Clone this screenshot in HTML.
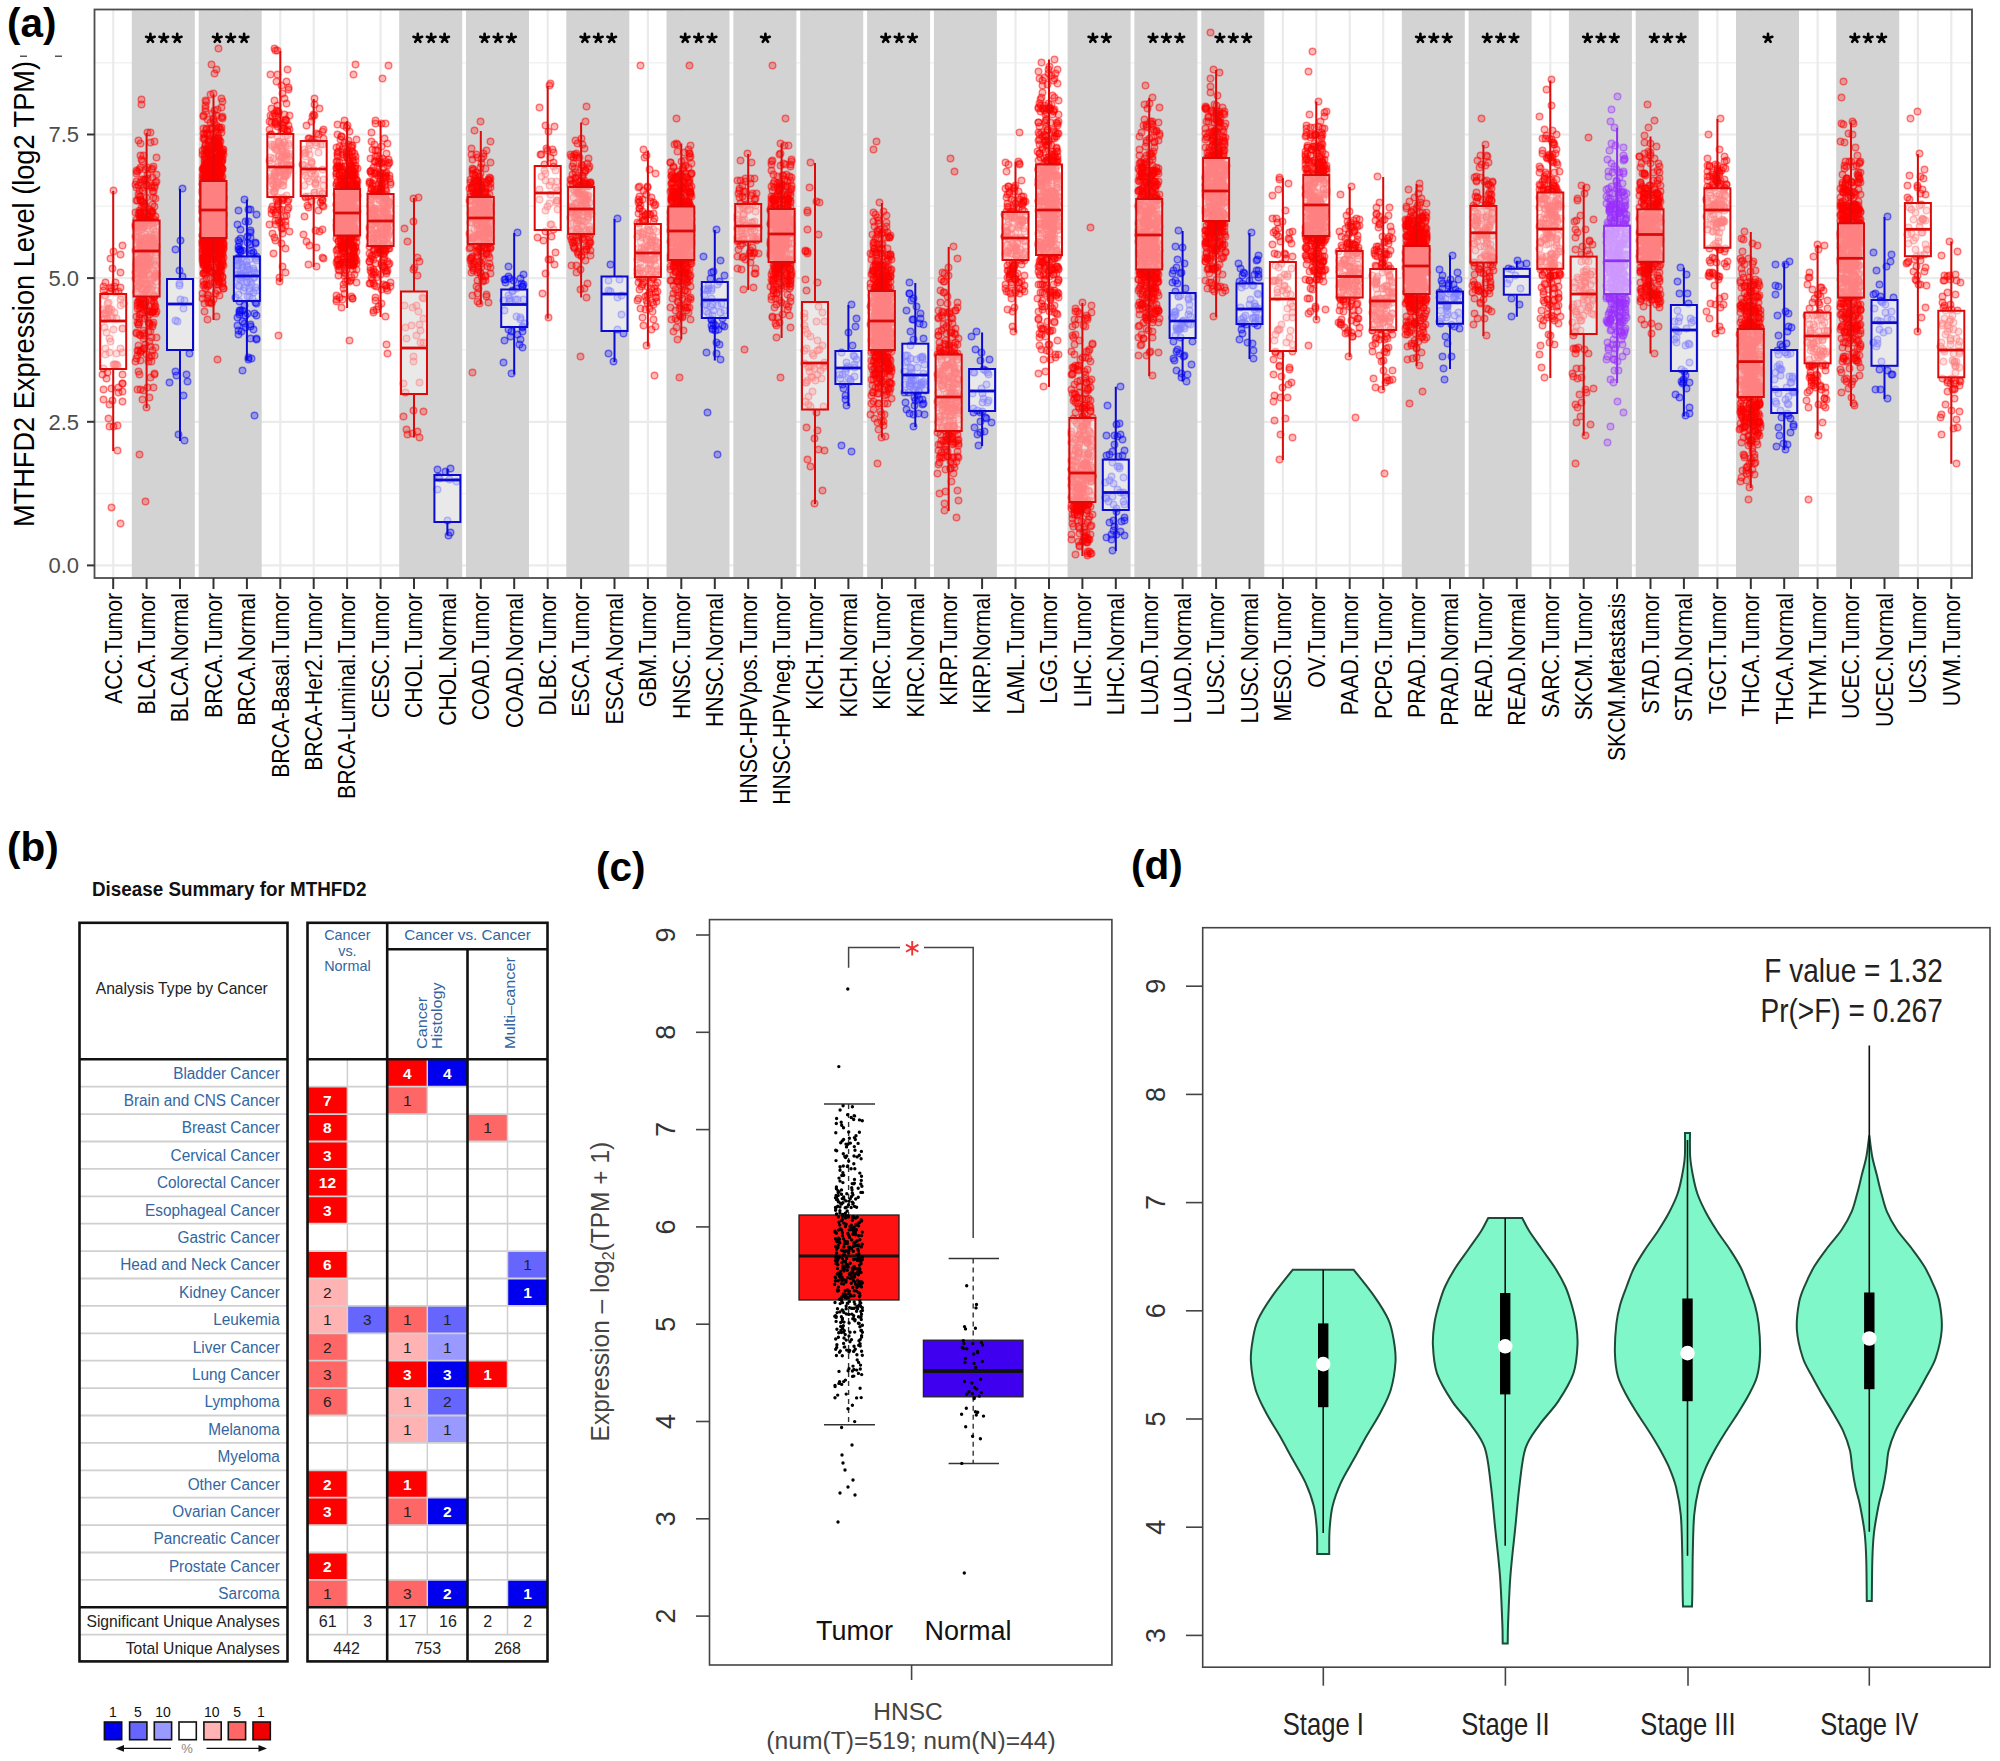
<!DOCTYPE html>
<html><head><meta charset="utf-8"><style>
html,body{margin:0;padding:0;background:#fff;}
svg{display:block;}
</style></head><body>
<svg width="2000" height="1761" viewBox="0 0 2000 1761">
<defs>
<marker id="mr" markerUnits="userSpaceOnUse" markerWidth="12" markerHeight="12" refX="6.5" refY="6.5" overflow="visible"><circle cx="6" cy="6" r="3.3" fill="#ff0000" fill-opacity="0.27" stroke="#ff0000" stroke-opacity="0.5" stroke-width="1.4"/></marker>
<marker id="mb" markerUnits="userSpaceOnUse" markerWidth="12" markerHeight="12" refX="6.5" refY="6.5" overflow="visible"><circle cx="6" cy="6" r="3.3" fill="#0000ff" fill-opacity="0.27" stroke="#0000ff" stroke-opacity="0.5" stroke-width="1.4"/></marker>
<marker id="mp" markerUnits="userSpaceOnUse" markerWidth="12" markerHeight="12" refX="6.5" refY="6.5" overflow="visible"><circle cx="6" cy="6" r="3.3" fill="#9b30ff" fill-opacity="0.27" stroke="#9b30ff" stroke-opacity="0.5" stroke-width="1.4"/></marker>
<g id="star"><path d="M0 -4.3V0M-4.3 -1.4L0 0M4.3 -1.4L0 0M-2.6 3.5L0 0M2.6 3.5L0 0" stroke="#000" stroke-width="2.7" stroke-linecap="round"/></g>
</defs>
<rect width="2000" height="1761" fill="#fff"/>
<rect x="94.5" y="9.5" width="1877.5" height="568.5" fill="#fff"/>
<line x1="94.5" x2="1972" y1="493.6" y2="493.6" stroke="#f2f2f2" stroke-width="1.5"/>
<line x1="94.5" x2="1972" y1="350.0" y2="350.0" stroke="#f2f2f2" stroke-width="1.5"/>
<line x1="94.5" x2="1972" y1="206.3" y2="206.3" stroke="#f2f2f2" stroke-width="1.5"/>
<line x1="94.5" x2="1972" y1="62.7" y2="62.7" stroke="#f2f2f2" stroke-width="1.5"/>
<line x1="94.5" x2="1972" y1="565.4" y2="565.4" stroke="#ebebeb" stroke-width="2.2"/>
<line x1="94.5" x2="1972" y1="421.8" y2="421.8" stroke="#ebebeb" stroke-width="2.2"/>
<line x1="94.5" x2="1972" y1="278.1" y2="278.1" stroke="#ebebeb" stroke-width="2.2"/>
<line x1="94.5" x2="1972" y1="134.5" y2="134.5" stroke="#ebebeb" stroke-width="2.2"/>
<line x1="113.2" x2="113.2" y1="9.5" y2="578" stroke="#ebebeb" stroke-width="2.2"/>
<line x1="146.6" x2="146.6" y1="9.5" y2="578" stroke="#ebebeb" stroke-width="2.2"/>
<line x1="180.0" x2="180.0" y1="9.5" y2="578" stroke="#ebebeb" stroke-width="2.2"/>
<line x1="213.5" x2="213.5" y1="9.5" y2="578" stroke="#ebebeb" stroke-width="2.2"/>
<line x1="246.9" x2="246.9" y1="9.5" y2="578" stroke="#ebebeb" stroke-width="2.2"/>
<line x1="280.3" x2="280.3" y1="9.5" y2="578" stroke="#ebebeb" stroke-width="2.2"/>
<line x1="313.7" x2="313.7" y1="9.5" y2="578" stroke="#ebebeb" stroke-width="2.2"/>
<line x1="347.1" x2="347.1" y1="9.5" y2="578" stroke="#ebebeb" stroke-width="2.2"/>
<line x1="380.6" x2="380.6" y1="9.5" y2="578" stroke="#ebebeb" stroke-width="2.2"/>
<line x1="414.0" x2="414.0" y1="9.5" y2="578" stroke="#ebebeb" stroke-width="2.2"/>
<line x1="447.4" x2="447.4" y1="9.5" y2="578" stroke="#ebebeb" stroke-width="2.2"/>
<line x1="480.8" x2="480.8" y1="9.5" y2="578" stroke="#ebebeb" stroke-width="2.2"/>
<line x1="514.2" x2="514.2" y1="9.5" y2="578" stroke="#ebebeb" stroke-width="2.2"/>
<line x1="547.7" x2="547.7" y1="9.5" y2="578" stroke="#ebebeb" stroke-width="2.2"/>
<line x1="581.1" x2="581.1" y1="9.5" y2="578" stroke="#ebebeb" stroke-width="2.2"/>
<line x1="614.5" x2="614.5" y1="9.5" y2="578" stroke="#ebebeb" stroke-width="2.2"/>
<line x1="647.9" x2="647.9" y1="9.5" y2="578" stroke="#ebebeb" stroke-width="2.2"/>
<line x1="681.3" x2="681.3" y1="9.5" y2="578" stroke="#ebebeb" stroke-width="2.2"/>
<line x1="714.8" x2="714.8" y1="9.5" y2="578" stroke="#ebebeb" stroke-width="2.2"/>
<line x1="748.2" x2="748.2" y1="9.5" y2="578" stroke="#ebebeb" stroke-width="2.2"/>
<line x1="781.6" x2="781.6" y1="9.5" y2="578" stroke="#ebebeb" stroke-width="2.2"/>
<line x1="815.0" x2="815.0" y1="9.5" y2="578" stroke="#ebebeb" stroke-width="2.2"/>
<line x1="848.4" x2="848.4" y1="9.5" y2="578" stroke="#ebebeb" stroke-width="2.2"/>
<line x1="881.9" x2="881.9" y1="9.5" y2="578" stroke="#ebebeb" stroke-width="2.2"/>
<line x1="915.3" x2="915.3" y1="9.5" y2="578" stroke="#ebebeb" stroke-width="2.2"/>
<line x1="948.7" x2="948.7" y1="9.5" y2="578" stroke="#ebebeb" stroke-width="2.2"/>
<line x1="982.1" x2="982.1" y1="9.5" y2="578" stroke="#ebebeb" stroke-width="2.2"/>
<line x1="1015.5" x2="1015.5" y1="9.5" y2="578" stroke="#ebebeb" stroke-width="2.2"/>
<line x1="1049.0" x2="1049.0" y1="9.5" y2="578" stroke="#ebebeb" stroke-width="2.2"/>
<line x1="1082.4" x2="1082.4" y1="9.5" y2="578" stroke="#ebebeb" stroke-width="2.2"/>
<line x1="1115.8" x2="1115.8" y1="9.5" y2="578" stroke="#ebebeb" stroke-width="2.2"/>
<line x1="1149.2" x2="1149.2" y1="9.5" y2="578" stroke="#ebebeb" stroke-width="2.2"/>
<line x1="1182.6" x2="1182.6" y1="9.5" y2="578" stroke="#ebebeb" stroke-width="2.2"/>
<line x1="1216.1" x2="1216.1" y1="9.5" y2="578" stroke="#ebebeb" stroke-width="2.2"/>
<line x1="1249.5" x2="1249.5" y1="9.5" y2="578" stroke="#ebebeb" stroke-width="2.2"/>
<line x1="1282.9" x2="1282.9" y1="9.5" y2="578" stroke="#ebebeb" stroke-width="2.2"/>
<line x1="1316.3" x2="1316.3" y1="9.5" y2="578" stroke="#ebebeb" stroke-width="2.2"/>
<line x1="1349.7" x2="1349.7" y1="9.5" y2="578" stroke="#ebebeb" stroke-width="2.2"/>
<line x1="1383.2" x2="1383.2" y1="9.5" y2="578" stroke="#ebebeb" stroke-width="2.2"/>
<line x1="1416.6" x2="1416.6" y1="9.5" y2="578" stroke="#ebebeb" stroke-width="2.2"/>
<line x1="1450.0" x2="1450.0" y1="9.5" y2="578" stroke="#ebebeb" stroke-width="2.2"/>
<line x1="1483.4" x2="1483.4" y1="9.5" y2="578" stroke="#ebebeb" stroke-width="2.2"/>
<line x1="1516.8" x2="1516.8" y1="9.5" y2="578" stroke="#ebebeb" stroke-width="2.2"/>
<line x1="1550.3" x2="1550.3" y1="9.5" y2="578" stroke="#ebebeb" stroke-width="2.2"/>
<line x1="1583.7" x2="1583.7" y1="9.5" y2="578" stroke="#ebebeb" stroke-width="2.2"/>
<line x1="1617.1" x2="1617.1" y1="9.5" y2="578" stroke="#ebebeb" stroke-width="2.2"/>
<line x1="1650.5" x2="1650.5" y1="9.5" y2="578" stroke="#ebebeb" stroke-width="2.2"/>
<line x1="1683.9" x2="1683.9" y1="9.5" y2="578" stroke="#ebebeb" stroke-width="2.2"/>
<line x1="1717.4" x2="1717.4" y1="9.5" y2="578" stroke="#ebebeb" stroke-width="2.2"/>
<line x1="1750.8" x2="1750.8" y1="9.5" y2="578" stroke="#ebebeb" stroke-width="2.2"/>
<line x1="1784.2" x2="1784.2" y1="9.5" y2="578" stroke="#ebebeb" stroke-width="2.2"/>
<line x1="1817.6" x2="1817.6" y1="9.5" y2="578" stroke="#ebebeb" stroke-width="2.2"/>
<line x1="1851.0" x2="1851.0" y1="9.5" y2="578" stroke="#ebebeb" stroke-width="2.2"/>
<line x1="1884.5" x2="1884.5" y1="9.5" y2="578" stroke="#ebebeb" stroke-width="2.2"/>
<line x1="1917.9" x2="1917.9" y1="9.5" y2="578" stroke="#ebebeb" stroke-width="2.2"/>
<line x1="1951.3" x2="1951.3" y1="9.5" y2="578" stroke="#ebebeb" stroke-width="2.2"/>
<rect x="131.8" y="10.5" width="63.0" height="567.0" fill="#d3d3d3"/>
<rect x="198.7" y="10.5" width="63.0" height="567.0" fill="#d3d3d3"/>
<rect x="399.2" y="10.5" width="63.0" height="567.0" fill="#d3d3d3"/>
<rect x="466.0" y="10.5" width="63.0" height="567.0" fill="#d3d3d3"/>
<rect x="566.3" y="10.5" width="63.0" height="567.0" fill="#d3d3d3"/>
<rect x="666.5" y="10.5" width="63.0" height="567.0" fill="#d3d3d3"/>
<rect x="733.4" y="10.5" width="63.0" height="567.0" fill="#d3d3d3"/>
<rect x="800.2" y="10.5" width="63.0" height="567.0" fill="#d3d3d3"/>
<rect x="867.1" y="10.5" width="63.0" height="567.0" fill="#d3d3d3"/>
<rect x="933.9" y="10.5" width="63.0" height="567.0" fill="#d3d3d3"/>
<rect x="1067.6" y="10.5" width="63.0" height="567.0" fill="#d3d3d3"/>
<rect x="1134.4" y="10.5" width="63.0" height="567.0" fill="#d3d3d3"/>
<rect x="1201.3" y="10.5" width="63.0" height="567.0" fill="#d3d3d3"/>
<rect x="1401.8" y="10.5" width="63.0" height="567.0" fill="#d3d3d3"/>
<rect x="1468.6" y="10.5" width="63.0" height="567.0" fill="#d3d3d3"/>
<rect x="1568.9" y="10.5" width="63.0" height="567.0" fill="#d3d3d3"/>
<rect x="1635.7" y="10.5" width="63.0" height="567.0" fill="#d3d3d3"/>
<rect x="1736.0" y="10.5" width="63.0" height="567.0" fill="#d3d3d3"/>
<rect x="1836.2" y="10.5" width="63.0" height="567.0" fill="#d3d3d3"/>
<path d="M114 191l9 55l-9 6l7 3l-10 4l2 10l8 4l-5 10l-10 0l-2 4l11 0l-4 1l10 0l-9 1l-8 2l15 1l-8 0l5 1l-10 3l-1 0l17 1l-1 3l-12 3l15 1l-16 0l13 2l-12 3l-5 1l8 0l-2 0l-3 1l2 1l6 1l-10 1l1 0l1 2l5 1l1 1l-5 1l-3 0l12 0l-12 1l0 8l18 1l0 0l-9 1l-7 3l3 6l1 3l-5 7l15 0l-11 4l13 0l-6 1l-11 1l9 10l1 0l1 0l-3 0l4 1l-14 3l4 4l-5 2l20 0l-16 4l16 5l0 0l-4 4l-7 1l-8 1l19 2l-4 1l-15 7l9 1l10 1l-13 3l-1 14l9 7l-8 1l4 0l4 24l-6 57l9 16" fill="none" stroke="none" marker-start="url(#mr)" marker-mid="url(#mr)" marker-end="url(#mr)"/>
<path d="M113.2 191V294M113.2 369V451" stroke="#dd0a0a" stroke-width="2"/>
<rect x="100.2" y="294" width="26" height="75.0" fill="#fff" fill-opacity="0.5" stroke="#dd0a0a" stroke-width="2"/>
<line x1="100.2" x2="126.2" y1="321" y2="321" stroke="#dd0a0a" stroke-width="2.8"/>
<path d="M142 100l0 5l9 28l-3 0l-9 8l16 1l-4 1l-10 1l0 12l3 0l13 2l-15 2l1 2l11 5l-6 1l-7 0l12 1l-1 1l-6 0l-6 0l-3 1l1 1l-1 2l20 1l-9 0l5 3l-5 1l-4 1l2 0l-4 0l3 1l12 1l-20 0l4 1l15 0l-20 2l19 1l-3 0l-13 0l9 0l-1 0l-10 2l15 0l-8 0l11 0l-15 3l3 0l10 1l1 0l-15 3l2 2l-1 0l14 1l-7 0l9 1l-15 1l-4 1l1 0l3 0l2 1l-1 0l3 2l0 1l8 0l2 2l-11 0l2 0l-4 1l8 2l-10 1l13 1l-1 0l-1 0l-10 1l12 0l-12 0l0 0l4 0l-1 0l-8 0l12 1l4 0l-8 0l-5 0l1 1l16 2l-8 0l2 0l-9 1l2 1l-2 0l1 0l-2 0l-3 1l10 0l2 0l-5 0l4 0l-4 0l11 0l-6 1l3 0l-10 0l3 0l-3 0l7 0l7 1l-15 1l1 0l13 0l-3 1l1 0l-10 0l-2 1l-5 0l1 0l2 1l10 0l-12 0l6 1l11 0l-10 0l-8 0l9 0l0 0l-8 1l0 0l6 0l-5 1l9 0l7 1l-12 0l-3 1l-2 0l19 1l-11 2l10 1l-3 0l-10 1l7 1l-10 0l-3 0l15 1l-12 0l7 0l6 1l1 0l-6 0l9 0l-13 0l-5 0l17 1l-10 0l8 1l-4 0l5 0l0 1l-10 0l-5 0l3 1l9 0l-11 0l13 1l-12 0l2 0l-1 0l7 0l6 0l-15 1l15 0l-2 0l-6 1l-5 0l6 0l2 0l-8 0l1 1l0 0l9 0l-4 0l8 0l1 0l-1 0l-13 1l-2 0l6 1l-4 0l3 0l1 0l5 1l-8 0l8 0l-14 0l12 0l5 0l-10 0l-8 0l8 1l-9 0l4 1l3 1l14 0l-10 1l-8 0l12 1l-1 0l-5 0l-3 1l14 0l-9 0l-3 1l-2 0l7 1l-1 0l-8 1l7 0l-10 1l3 0l-2 1l17 0l-16 0l3 1l9 0l-2 1l-3 0l-9 0l9 0l8 0l-11 0l2 1l-2 0l4 1l-9 0l-1 0l0 0l18 0l-5 0l6 1l-8 1l-5 0l-3 1l4 0l0 0l-7 0l0 0l11 1l0 1l-6 0l-3 0l7 1l1 0l7 0l-10 1l-8 1l19 0l-12 1l-2 0l-3 0l19 0l-13 1l-2 0l14 0l-6 0l7 1l-12 0l-7 0l9 0l9 0l-1 1l0 1l-18 0l17 0l-18 1l8 0l1 0l-7 1l0 0l8 0l7 0l-11 2l15 0l-17 1l10 1l-2 0l-6 0l5 1l0 0l4 0l-11 1l-1 0l14 1l-14 0l10 1l-7 1l-4 0l5 1l2 0l3 0l4 0l4 1l-9 1l-10 0l9 0l-9 1l17 2l-10 0l1 0l9 2l1 0l0 0l-8 0l-4 1l-3 1l2 1l-2 1l12 0l-13 1l15 0l-8 1l-8 0l3 0l14 1l-12 0l9 0l-11 1l4 0l0 0l-7 1l7 1l-3 0l14 0l-15 1l14 0l-17 1l2 0l15 1l-8 1l1 0l0 1l5 0l4 0l-6 0l2 0l1 0l-11 1l10 0l3 1l-15 1l9 0l-10 0l-3 2l11 1l-8 1l5 0l4 4l-11 0l16 0l-14 0l10 1l-11 1l0 0l11 0l3 0l0 2l-9 4l7 1l-2 0l-12 1l7 1l-7 0l3 1l1 1l4 0l7 2l5 0l-13 1l6 3l-4 3l-7 1l12 1l5 1l-11 1l-1 0l-5 2l-1 0l4 0l11 0l-12 1l0 1l6 2l5 1l3 0l-17 0l12 2l-13 1l4 2l11 1l-16 0l13 0l-10 10l16 2l-15 1l15 0l-4 3l3 10l-6 0l-10 2l3 0l3 1l6 7l-7 2l4 8l-7 47l6 47" fill="none" stroke="none" marker-start="url(#mr)" marker-mid="url(#mr)" marker-end="url(#mr)"/>
<path d="M146.6 133V220.5M146.6 296.5V408" stroke="#dd0a0a" stroke-width="2"/>
<rect x="133.6" y="220.5" width="26" height="76.0" fill="#fff" fill-opacity="0.5" stroke="#dd0a0a" stroke-width="2"/>
<line x1="133.6" x2="159.6" y1="251" y2="251" stroke="#dd0a0a" stroke-width="2.8"/>
<path d="M183 189l-2 52l-5 9l4 21l3 6l-3 7l0 2l1 14l4 1l-1 8l-8 12l2 1l12 32l-14 18l11 3l-10 1l11 6l-18 1l14 13l-5 39l6 6" fill="none" stroke="none" marker-start="url(#mb)" marker-mid="url(#mb)" marker-end="url(#mb)"/>
<path d="M180.0 189V279M180.0 350V441" stroke="#0a0ad0" stroke-width="2"/>
<rect x="167.0" y="279" width="26" height="71.0" fill="#fff" fill-opacity="0.5" stroke="#0a0ad0" stroke-width="2"/>
<line x1="167.0" x2="193.0" y1="304" y2="304" stroke="#0a0ad0" stroke-width="2.8"/>
<path d="M219 49l-7 16l5 5l-2 4l-1 20l-3 1l11 4l-16 2l1 1l16 0l-17 4l16 2l-16 1l12 1l-3 1l-9 1l7 2l-9 2l13 0l-13 1l19 0l-1 1l-8 1l9 0l-15 1l6 1l-3 2l4 0l2 3l5 2l-2 0l-7 0l6 0l-12 1l-3 0l7 0l6 1l4 0l-14 0l5 0l6 3l4 0l-15 1l7 0l-10 0l4 0l-3 1l5 1l9 1l-14 1l10 0l4 1l-15 0l14 0l0 0l-13 1l5 0l0 1l4 0l6 0l-4 0l3 0l-4 1l1 0l5 0l-12 0l0 0l10 2l-13 1l14 1l-14 0l12 0l-3 0l0 0l-6 0l6 1l4 0l-7 0l6 0l0 1l2 0l-7 1l-8 0l5 0l-4 1l7 0l11 0l-1 0l-15 0l11 0l-12 1l13 0l-17 0l5 0l1 1l14 0l-15 0l0 0l13 0l-13 1l9 0l0 0l2 0l4 0l-13 1l1 0l-4 0l15 0l2 1l-4 0l-17 0l2 0l17 1l-17 1l13 0l-5 0l8 0l-15 1l9 0l-4 0l10 0l-1 0l-10 0l13 1l-5 0l1 0l-1 0l2 0l-15 1l13 0l-11 0l6 0l3 0l0 0l-5 1l0 0l8 0l4 0l-3 0l0 0l2 1l-5 0l-3 0l8 0l-6 0l6 0l-15 1l11 0l-8 0l1 0l2 0l3 0l-3 0l-8 0l2 1l0 0l-1 0l8 1l-3 0l9 0l-11 0l-4 1l16 0l-11 0l-4 0l4 1l3 0l4 0l0 0l-9 0l7 1l-2 0l1 0l-10 0l7 0l11 0l-17 1l17 0l-12 0l13 0l-14 0l1 0l12 0l-7 0l-11 0l10 1l5 0l-16 0l3 0l-2 0l10 0l9 0l-19 0l15 1l-14 0l6 0l9 0l-11 0l9 1l-1 0l-11 0l6 0l0 0l-2 0l12 0l-6 0l-5 1l0 0l2 0l6 0l-8 0l8 0l-15 1l15 0l-1 0l-7 1l9 0l-11 0l12 0l-7 0l6 0l-7 0l-6 0l-1 0l1 0l14 0l-18 1l5 0l-1 0l9 0l-5 0l9 0l-5 0l-11 1l11 0l-5 0l13 0l-8 0l-8 0l3 0l-5 0l15 0l-3 1l-9 0l0 0l4 0l5 0l5 0l-17 0l3 1l-2 0l1 0l8 0l-6 0l2 1l4 0l-12 0l14 0l-7 0l0 0l3 0l-6 0l10 1l-7 0l5 0l-3 0l8 0l-13 0l15 1l-14 0l3 0l0 0l0 0l-7 0l1 0l17 0l-7 0l-1 0l-10 0l2 1l7 0l10 0l-15 0l6 0l5 0l-9 0l2 0l-8 0l1 0l10 1l-12 0l6 0l11 0l-14 0l14 0l-8 0l5 0l-7 0l0 0l-6 0l5 0l12 1l-12 0l-6 0l17 0l-4 0l-7 0l-4 0l4 0l9 0l6 0l-10 1l-9 0l13 0l-11 0l-3 0l15 0l-6 0l-5 0l13 0l-17 0l10 1l5 0l-8 0l11 0l-4 0l5 0l-19 0l19 0l-19 0l0 1l13 0l-8 0l6 0l-11 0l1 0l1 0l1 0l-2 1l4 0l12 0l-6 0l-6 0l8 0l-10 0l13 0l2 0l2 1l-19 0l0 0l0 0l-2 0l13 0l-12 0l16 0l-15 0l14 0l4 0l-15 1l-3 0l17 0l-6 0l2 0l-11 0l3 0l-3 0l15 1l-19 0l11 0l4 0l-4 0l4 0l3 0l-6 0l-4 0l3 0l3 0l4 1l-7 0l-8 0l17 0l-10 0l-1 0l4 0l3 0l-13 1l12 0l-12 0l13 0l-16 0l17 0l-3 0l2 0l-3 1l2 0l-5 0l-7 0l0 0l17 0l-9 0l0 1l-2 0l-8 0l4 0l7 0l-8 0l16 0l-10 1l-6 0l6 0l0 0l-7 0l-2 0l19 0l-7 0l5 0l-2 0l5 0l-8 0l-12 1l6 0l8 0l6 0l-7 0l-10 0l8 0l-3 0l5 0l-9 0l15 1l-15 0l7 0l8 0l-14 0l-3 0l16 0l-9 0l9 0l-12 0l-5 1l10 0l-9 0l8 0l-6 0l3 0l5 0l-6 0l3 1l5 0l-5 0l8 0l-1 0l-12 0l6 0l-5 0l15 0l-17 0l14 0l-1 1l-8 0l10 0l-11 0l9 0l-17 0l0 0l8 0l0 0l-4 0l0 1l10 0l-3 0l-3 0l12 0l-9 0l9 0l-8 0l8 0l-13 0l6 0l3 0l0 0l-1 1l-11 0l15 0l-4 0l-8 0l13 0l-10 0l5 1l4 0l-14 0l12 0l1 0l-2 0l-8 0l11 1l-4 0l-4 0l2 0l-4 0l-9 0l5 0l0 0l1 0l5 1l7 0l-5 0l-9 0l6 0l-8 0l12 0l-5 0l3 0l0 0l-3 0l4 0l-1 1l-1 0l3 0l7 0l-21 0l19 0l-8 0l-4 0l9 0l-11 0l-1 0l-4 0l17 1l3 0l-17 0l13 0l-5 0l-5 0l14 0l-9 0l-10 1l19 0l-17 0l15 0l-13 0l15 0l-13 0l8 0l-13 0l13 0l-7 1l-3 0l4 0l-4 0l-1 0l10 0l-8 0l2 0l0 0l0 0l11 0l-19 0l17 0l-3 1l0 0l-6 0l7 0l-11 0l-2 0l9 0l-11 0l5 0l13 0l-5 0l0 1l-5 0l9 0l-15 0l-1 0l3 0l7 0l-11 0l5 0l-2 0l2 1l0 0l16 0l-14 0l-1 0l-5 0l17 0l-8 0l2 0l5 0l4 0l-13 0l6 0l-10 0l1 0l4 1l0 0l-5 0l3 0l12 0l-14 0l4 0l7 0l-15 0l4 0l10 0l-8 1l6 0l-5 0l-5 0l13 0l3 0l-7 0l9 0l-4 0l-4 0l4 0l0 0l-1 0l-6 0l10 0l-17 0l6 1l0 0l3 0l5 0l0 0l-10 0l4 0l-2 0l12 0l-12 0l-3 1l4 0l0 0l9 0l-3 0l-11 0l-3 0l11 0l5 0l-3 0l-11 0l1 0l-4 0l7 0l-1 0l3 1l-1 0l7 0l-14 0l1 0l0 0l-3 0l18 0l2 0l-15 1l15 0l-16 0l1 0l7 0l-6 0l4 0l-5 0l2 0l7 0l-11 0l-3 1l21 0l-6 0l-9 0l3 0l3 0l6 0l-3 0l-13 0l14 0l-15 0l5 0l5 1l4 0l-6 0l1 0l-6 0l13 0l-16 0l17 0l-4 0l-6 0l3 0l-3 0l10 1l-11 0l0 0l-4 0l16 0l-1 0l-3 0l5 0l-7 0l4 1l-14 0l3 0l12 0l2 0l1 0l-13 1l2 0l6 0l-5 0l6 0l4 0l-9 0l-3 0l-3 0l4 0l-8 0l2 0l12 1l-5 0l3 0l5 0l-16 0l3 0l-4 0l7 0l11 0l-7 0l-5 0l-4 0l11 0l6 1l-1 0l-17 0l13 0l4 0l-17 0l9 0l7 1l-6 0l-10 0l0 0l-1 0l15 0l1 0l-17 1l0 0l18 0l-12 0l9 0l1 0l-11 0l5 0l9 1l-13 0l8 0l-3 0l-8 0l11 0l1 0l1 0l-4 0l8 1l-17 0l4 0l12 0l-13 0l9 0l-10 0l2 0l-7 0l7 0l1 0l9 1l-17 0l10 0l-3 0l7 0l-6 0l-2 1l4 0l-4 0l6 0l-10 0l13 0l4 0l-3 0l-9 0l-5 1l15 0l2 0l-15 0l3 0l9 0l4 1l-14 0l7 0l-5 0l-3 0l4 0l-8 0l-1 0l18 0l0 0l-5 0l0 1l-5 0l-8 0l1 0l-2 0l0 0l6 0l-2 0l5 0l-5 0l12 0l-6 1l9 0l-2 0l-16 0l17 0l-6 0l8 0l-6 0l-13 0l4 1l7 0l9 0l-11 0l-1 1l11 0l-11 0l3 0l-3 0l2 0l-7 0l4 0l10 1l-9 0l9 0l-2 0l-4 0l2 0l-7 0l-3 0l9 0l1 0l6 1l-5 0l-13 0l10 0l-11 0l7 0l-6 0l6 0l10 0l-11 0l-2 0l7 1l-6 0l-5 0l15 0l-16 0l11 0l-9 0l1 0l-3 0l16 1l-11 0l0 0l13 0l-2 0l-13 0l1 0l-3 1l12 0l-8 0l0 0l16 0l0 0l-13 0l4 0l2 0l-3 0l-10 0l6 0l-2 0l10 0l-12 1l10 0l-9 0l1 0l4 0l9 0l-10 0l-8 0l11 1l5 0l-8 0l12 0l-14 0l15 0l-10 0l-11 0l7 0l5 0l5 0l-8 0l1 0l-7 0l4 1l-4 0l4 0l11 0l-16 0l10 0l5 0l-6 1l8 0l-9 0l7 0l-8 0l0 0l12 1l-4 0l0 0l4 0l-18 0l10 0l-9 0l15 0l-6 0l-8 0l-3 1l6 0l-4 0l3 0l-6 0l11 0l-2 0l-7 0l-3 0l12 1l-2 0l0 0l9 0l-11 0l9 0l-10 0l11 0l-5 0l4 0l-14 1l-3 0l10 0l10 0l-12 0l7 0l2 0l-13 1l5 0l7 0l2 0l-12 0l-3 0l10 1l7 0l-3 0l-11 0l2 0l5 1l-1 0l-9 0l2 0l15 0l-20 0l18 1l-15 0l2 0l13 0l-17 1l6 0l-3 0l2 0l-1 0l-3 0l4 1l-4 0l19 0l-20 0l-1 0l13 0l3 0l-14 0l17 0l-18 1l15 0l-12 0l-1 0l6 1l-2 0l12 0l-8 0l3 0l-14 1l3 0l17 0l-15 0l0 0l3 1l5 0l3 0l-15 0l3 0l1 0l-4 1l19 0l-5 0l-11 1l-3 0l15 1l-14 0l2 0l-2 0l-1 0l19 0l-19 1l17 0l0 0l3 0l-15 1l13 0l-13 1l11 0l1 0l0 0l-12 0l2 0l-4 1l11 0l-10 0l0 1l-1 0l4 1l-5 0l16 0l-7 0l6 1l-1 0l-7 0l0 1l6 0l-14 0l7 0l-8 1l0 0l17 1l-3 0l-12 0l15 1l-3 1l5 0l-4 1l-2 0l-6 0l12 0l-5 0l-3 0l-8 1l11 0l2 2l3 1l-19 0l15 0l1 1l-5 0l8 1l-4 1l-9 0l7 0l-10 0l-2 0l-1 1l5 0l-1 1l15 0l1 2l-18 0l18 0l-6 2l-15 3l13 0l-8 1l1 1l11 0l-17 3l5 0l6 1l-4 3l2 0l-3 0l-4 1l7 0l-7 8l12 5l-9 3l10 40" fill="none" stroke="none" marker-start="url(#mr)" marker-mid="url(#mr)" marker-end="url(#mr)"/>
<path d="M213.5 94.5V181M213.5 238V320" stroke="#dd0a0a" stroke-width="2"/>
<rect x="200.5" y="181" width="26" height="57.0" fill="#fff" fill-opacity="0.5" stroke="#dd0a0a" stroke-width="2"/>
<line x1="200.5" x2="226.5" y1="210" y2="210" stroke="#dd0a0a" stroke-width="2.8"/>
<path d="M245 200l6 10l-2 0l-10 1l18 4l-8 7l-3 0l-8 3l3 5l10 1l0 2l-3 4l3 1l-10 1l-2 2l1 2l8 0l8 0l0 1l-5 1l-12 2l1 3l-1 0l4 1l-2 0l11 0l-11 1l13 1l-2 1l5 3l-18 1l17 1l-14 0l-3 0l11 1l-12 1l19 0l-10 1l-7 1l-1 2l4 0l-5 1l9 0l1 1l-5 1l11 1l-6 1l2 0l4 1l-16 0l3 1l5 1l9 0l2 1l-16 1l-3 0l11 0l-3 1l-5 0l2 0l4 1l7 1l1 0l-13 0l-3 1l2 1l10 2l-4 1l1 0l4 2l-13 1l1 1l16 1l-11 0l5 1l7 2l-13 0l6 1l4 1l-15 2l9 2l2 0l-14 1l17 1l-13 3l16 1l1 1l-12 2l-4 5l-1 0l3 0l-3 2l8 1l7 0l-15 1l17 1l-11 0l-8 2l5 4l2 2l6 1l-13 1l13 1l-5 1l8 2l-15 1l3 1l-3 3l12 4l6 0l0 1l-8 18l3 1l-3 1l-6 11l12 45" fill="none" stroke="none" marker-start="url(#mb)" marker-mid="url(#mb)" marker-end="url(#mb)"/>
<path d="M246.9 199.5V256.5M246.9 301V360.5" stroke="#0a0ad0" stroke-width="2"/>
<rect x="233.9" y="256.5" width="26" height="44.5" fill="#fff" fill-opacity="0.5" stroke="#0a0ad0" stroke-width="2"/>
<line x1="233.9" x2="259.9" y1="276" y2="276" stroke="#0a0ad0" stroke-width="2.8"/>
<path d="M275 49l3 2l-2 0l12 19l-10 5l-7 0l16 7l-10 0l5 4l7 2l0 2l-6 4l2 5l-10 2l12 3l-9 2l-6 3l5 2l2 1l-1 0l1 2l-4 0l10 1l5 1l-19 0l5 0l-3 1l13 3l-6 1l7 0l-1 0l-10 1l-6 0l15 1l-9 0l-4 0l4 1l7 1l-7 0l13 1l-11 1l4 1l3 1l-1 0l6 1l-20 0l18 1l-6 1l6 0l-16 3l-1 0l17 1l-2 0l-8 1l2 5l-1 0l6 1l-1 0l-5 1l10 0l-7 1l-7 0l-3 0l17 1l-3 0l-13 1l8 0l-6 1l7 1l1 0l-6 0l-1 1l2 1l5 1l3 1l1 1l2 0l-4 2l2 0l-7 0l9 1l-10 0l4 0l-12 1l11 0l5 1l-13 0l16 1l-9 0l-11 1l9 1l-7 2l12 0l-2 0l6 1l-5 1l4 0l3 0l1 0l-12 1l9 0l-15 2l13 0l1 0l2 1l-3 0l-2 0l-6 1l11 0l-10 1l1 0l8 1l-13 0l1 0l4 0l8 2l-3 0l-9 0l10 1l-5 0l4 1l-10 0l4 0l-7 0l3 0l11 0l-15 2l3 1l10 0l-12 1l12 1l-5 1l-2 0l4 1l-7 1l3 0l-3 0l10 1l-6 0l5 0l-12 1l5 1l0 1l-1 3l-1 0l1 1l-3 2l15 1l-9 2l6 0l-2 1l2 1l-7 0l12 0l-6 1l5 1l-9 0l-1 3l0 2l-5 0l16 1l-9 2l-8 0l16 0l-6 0l-8 1l2 2l-4 1l4 1l11 1l-2 1l-6 4l-3 0l10 1l-4 0l-2 1l-10 2l6 0l10 1l-4 3l1 0l7 3l-17 2l10 0l-8 4l1 3l6 3l4 5l-12 5l9 13l3 6l-6 5l0 4l-1 54" fill="none" stroke="none" marker-start="url(#mr)" marker-mid="url(#mr)" marker-end="url(#mr)"/>
<path d="M280.3 51V134M280.3 197V282" stroke="#dd0a0a" stroke-width="2"/>
<rect x="267.3" y="134" width="26" height="63.0" fill="#fff" fill-opacity="0.5" stroke="#dd0a0a" stroke-width="2"/>
<line x1="267.3" x2="293.3" y1="167" y2="167" stroke="#dd0a0a" stroke-width="2.8"/>
<path d="M315 99l0 6l5 4l-6 6l1 1l-2 1l-1 5l-5 4l17 4l-1 2l-6 2l2 1l5 4l-15 0l1 0l3 1l-3 3l7 0l6 2l-2 0l-4 1l-7 0l-1 4l-4 0l14 3l-13 0l-1 1l5 1l-4 2l6 5l0 1l0 1l-9 1l2 1l4 2l5 2l9 0l-18 0l8 1l-8 1l7 2l4 1l-10 1l9 1l-7 2l10 1l6 0l-14 2l6 1l0 1l0 1l8 1l-19 0l15 6l-5 1l0 0l8 1l0 0l-8 2l-9 1l3 0l-3 1l16 0l1 2l0 1l-11 1l9 1l-13 3l15 0l1 1l-15 1l10 3l-14 6l18 13l-7 1l4 1l-16 3l3 7l3 4l7 2l6 10l1 1l-15 6l8 2" fill="none" stroke="none" marker-start="url(#mr)" marker-mid="url(#mr)" marker-end="url(#mr)"/>
<path d="M313.7 99V141M313.7 196V267" stroke="#dd0a0a" stroke-width="2"/>
<rect x="300.7" y="141" width="26" height="55.0" fill="#fff" fill-opacity="0.5" stroke="#dd0a0a" stroke-width="2"/>
<line x1="300.7" x2="326.7" y1="169" y2="169" stroke="#dd0a0a" stroke-width="2.8"/>
<path d="M356 65l-2 10l-9 46l-7 4l10 1l-4 0l3 2l3 4l-12 3l4 2l0 0l15 3l-16 0l8 1l-4 2l4 2l4 1l-1 0l-12 1l4 0l8 1l-15 0l6 2l10 2l-14 0l8 0l5 0l-14 1l11 0l-2 1l8 0l-5 1l-12 0l5 0l4 2l-9 0l18 0l-8 1l-3 0l8 0l-4 2l4 1l-4 0l7 0l-18 1l-1 0l17 0l-14 1l11 1l-13 2l13 0l5 0l-4 0l-7 1l0 0l6 0l-9 0l-3 0l1 1l1 0l-4 0l3 0l12 0l4 1l2 0l-8 0l-12 0l13 0l-14 0l18 0l-12 1l7 0l1 0l2 1l-4 0l5 1l-2 0l-6 1l-3 0l5 0l7 0l-4 1l-14 0l0 0l11 0l4 0l1 1l-7 0l10 0l-16 0l15 1l-4 0l-2 0l5 0l-14 0l0 0l4 1l9 0l1 0l-17 0l15 0l-10 2l4 0l4 0l3 0l-4 1l-5 0l0 0l13 0l-7 1l-2 0l-7 0l16 0l-15 1l3 0l13 0l-20 0l7 1l12 1l-4 0l1 0l-17 0l4 1l6 0l9 0l1 0l-18 1l8 0l-10 0l18 0l-3 0l-8 0l5 0l1 1l7 0l0 0l-13 0l3 0l10 1l-11 0l-7 0l9 0l8 0l-9 0l8 0l-10 0l-5 1l9 0l-9 0l17 0l-12 1l-2 1l7 0l-5 0l9 0l1 1l-6 0l-4 0l11 0l0 1l0 0l-9 0l8 0l-8 0l-3 0l-2 0l9 0l2 1l-1 0l3 0l-8 0l4 0l-2 1l-5 0l-7 0l2 0l6 0l5 0l-10 1l14 0l4 0l-2 0l-1 0l-1 0l-12 0l0 1l6 0l-1 0l4 0l-6 0l-7 0l19 0l-18 0l3 0l15 1l0 0l-2 0l-13 0l14 0l-5 0l-12 0l-1 1l12 0l-3 0l0 0l-2 0l4 0l4 0l-3 1l-6 0l10 0l-5 1l7 0l-3 0l-9 0l8 0l-8 0l4 0l-8 1l8 0l6 0l-2 0l-4 1l-2 0l10 0l-9 0l6 0l-8 1l7 0l0 0l-15 1l15 0l-13 0l8 0l-10 0l11 0l0 0l0 0l-10 1l13 0l-10 0l7 0l-6 0l6 0l-7 0l-2 0l0 1l4 0l3 0l6 0l-12 0l16 1l-5 0l-3 0l9 1l-13 0l-2 0l9 0l6 0l-15 0l15 0l-9 0l-2 0l2 1l7 0l-3 0l-7 0l-5 0l15 0l1 1l-17 0l8 0l-10 0l1 0l15 0l-10 0l5 0l-8 1l2 0l2 0l9 0l-15 0l20 0l-16 0l15 0l-15 0l0 1l8 0l1 0l-12 0l2 0l15 0l-13 0l13 0l1 0l-2 0l-16 1l6 0l-6 0l1 0l-1 0l18 1l-10 0l4 0l0 0l6 1l-6 0l-8 0l9 0l-11 0l4 0l10 0l-12 0l0 0l10 1l-8 0l3 0l2 0l0 0l5 0l2 1l-14 0l-4 0l8 0l5 0l-9 0l-2 0l7 1l-3 0l5 0l-11 0l15 0l-8 0l-4 1l11 0l1 0l-3 0l5 0l-16 0l-3 1l3 0l13 0l-10 0l3 0l-6 0l-2 0l8 0l11 0l-13 1l2 0l-7 0l-1 0l10 1l4 0l-14 0l7 0l-1 0l-5 0l7 0l-3 0l-1 0l15 1l-6 0l-5 0l-5 0l-2 1l11 0l1 0l-14 0l3 1l4 0l9 0l-13 0l3 0l-2 0l1 1l9 0l3 0l-8 0l9 0l-9 0l-2 0l-5 0l-2 0l19 1l-13 0l-1 0l6 0l1 0l5 0l-2 0l-2 1l-10 1l9 0l-12 0l6 0l1 0l-5 0l12 0l-8 0l11 0l-10 0l10 1l2 0l-4 0l-10 0l14 0l-15 0l5 0l-8 1l17 0l-15 0l-1 0l3 0l14 1l-7 0l7 0l-5 0l-9 1l13 0l-6 0l-10 0l17 1l-1 0l-12 0l7 0l2 0l1 0l-10 1l-1 0l10 1l4 0l-4 0l-6 0l3 0l8 1l-6 0l-10 0l-4 1l13 0l-5 1l6 0l-10 0l8 0l-10 1l15 0l-15 1l10 0l8 1l-6 0l-7 0l-2 0l5 1l-2 0l0 0l-2 1l5 0l-3 0l8 0l-5 0l6 1l-1 0l-1 0l-6 0l-5 0l2 1l0 0l6 0l-7 0l2 0l12 0l-12 1l12 0l-17 0l15 1l0 0l-9 0l-3 0l-4 1l13 0l-14 1l8 0l4 0l6 0l-11 0l10 0l3 1l-12 0l9 0l-5 0l-4 2l-2 0l11 1l-1 0l-15 0l10 2l-7 0l14 0l-7 0l-3 1l6 0l1 0l3 0l-1 1l2 0l-4 1l-8 0l-5 0l-1 0l13 0l-13 1l19 0l-2 1l-8 0l6 0l2 1l-18 0l7 0l0 0l0 1l13 0l-6 0l-10 0l12 1l-14 0l15 0l-10 0l-4 0l11 0l0 0l-5 1l-8 0l15 0l1 0l-5 0l-9 1l13 3l-14 0l18 0l-10 1l-7 0l5 2l1 1l9 1l-10 1l-6 0l13 2l-4 3l3 0l-5 1l4 0l7 1l-13 2l0 4l1 5l-8 2l15 1l-12 1l13 1l0 0l-10 1l-6 0l0 2l5 6l8 33" fill="none" stroke="none" marker-start="url(#mr)" marker-mid="url(#mr)" marker-end="url(#mr)"/>
<path d="M347.1 121V189M347.1 235.5V308" stroke="#dd0a0a" stroke-width="2"/>
<rect x="334.1" y="189" width="26" height="46.5" fill="#fff" fill-opacity="0.5" stroke="#dd0a0a" stroke-width="2"/>
<line x1="334.1" x2="360.1" y1="213" y2="213" stroke="#dd0a0a" stroke-width="2.8"/>
<path d="M389 66l-6 13l-7 42l0 3l6 0l4 0l-14 9l13 6l-13 3l16 2l-13 1l7 2l-9 3l3 1l2 0l9 3l-9 2l-2 1l7 2l-3 0l-9 0l18 1l-10 2l-3 0l10 0l-11 0l7 1l8 0l-1 1l-9 0l2 0l6 2l-10 0l6 2l-10 0l-2 3l-1 1l0 0l16 1l-11 0l5 0l5 1l-14 0l8 0l-5 0l1 0l7 0l7 2l-4 0l-5 0l-2 0l7 1l1 1l-3 0l6 1l-9 1l-7 1l-4 1l11 0l4 0l6 1l-20 0l11 1l-2 0l-7 0l10 0l-13 0l16 1l5 0l-9 1l-9 0l8 3l-9 0l9 0l-2 0l3 0l-10 1l3 0l11 0l-11 1l7 0l0 1l5 0l-11 1l5 0l-7 0l-3 1l9 0l-6 1l12 0l-8 0l-3 1l-3 1l9 0l8 1l-3 0l-13 0l11 0l-2 1l3 0l-5 1l7 0l-15 0l-1 0l16 1l-7 0l9 1l0 0l1 1l-6 0l5 1l-12 1l-6 0l18 1l-5 1l0 0l-13 0l14 0l-13 1l14 0l-11 1l-3 0l4 0l11 0l-7 0l8 0l2 1l-16 0l10 1l1 0l-12 0l2 1l4 0l1 0l6 1l2 1l-14 0l-2 0l8 0l-9 0l10 0l6 1l-1 0l-11 0l-1 1l1 0l8 0l-11 0l15 1l-15 0l18 1l-5 0l-9 0l8 0l6 0l-6 1l5 0l0 1l-12 0l11 0l-16 0l5 1l6 0l-10 0l4 0l12 1l-14 0l13 0l-9 0l-3 1l2 0l10 1l-11 0l10 0l3 1l-17 0l8 1l-9 0l9 1l-11 1l15 0l3 0l0 0l0 1l-7 0l-6 0l7 0l-10 1l-1 0l11 1l5 0l-2 1l5 0l-3 1l-13 0l7 0l-3 0l0 1l11 0l-14 1l8 0l-11 0l7 0l10 1l-12 0l9 0l-16 1l12 1l6 0l-14 0l0 1l10 0l-13 0l16 0l-2 1l-1 0l-6 1l6 0l-10 1l0 0l3 0l-3 1l5 0l1 1l8 0l1 0l-15 1l10 0l-1 0l6 1l-1 0l-6 0l-1 0l-11 1l11 1l-3 0l11 1l1 0l-7 1l-8 0l4 0l2 0l3 0l-10 1l11 0l-4 0l5 0l0 1l-6 1l-2 0l3 1l-11 0l14 0l0 1l-8 0l-4 1l1 1l12 1l-14 1l13 1l-10 0l14 2l-18 0l0 0l12 1l-6 1l14 0l-8 1l7 0l-6 2l1 0l-13 1l14 0l-11 2l12 1l2 0l-17 0l16 1l-13 0l-2 1l4 0l11 1l-13 1l7 0l-4 3l-5 0l1 2l18 3l-20 1l-1 0l4 0l10 1l3 1l-1 0l-11 0l2 1l14 0l-4 2l-5 1l6 1l-12 7l0 3l6 3l-3 3l-2 3l-3 1l0 2l12 4l1 28l1 9" fill="none" stroke="none" marker-start="url(#mr)" marker-mid="url(#mr)" marker-end="url(#mr)"/>
<path d="M380.6 121V194M380.6 246V317" stroke="#dd0a0a" stroke-width="2"/>
<rect x="367.6" y="194" width="26" height="52.0" fill="#fff" fill-opacity="0.5" stroke="#dd0a0a" stroke-width="2"/>
<line x1="367.6" x2="393.6" y1="221" y2="221" stroke="#dd0a0a" stroke-width="2.8"/>
<path d="M419 198l-5 1l0 23l-9 7l3 13l10 16l2 4l-5 6l-1 2l4 6l5 22l1 1l-19 7l12 0l-4 2l6 4l5 7l-4 6l-8 1l-6 2l15 3l-4 5l-10 3l14 4l3 0l-10 14l0 5l6 21l-16 1l2 9l8 18l10 1l-20 5l3 13l11 2l-5 2l-5 1l12 3" fill="none" stroke="none" marker-start="url(#mr)" marker-mid="url(#mr)" marker-end="url(#mr)"/>
<path d="M414.0 198V291.5M414.0 394V437.5" stroke="#dd0a0a" stroke-width="2"/>
<rect x="401.0" y="291.5" width="26" height="102.5" fill="#fff" fill-opacity="0.5" stroke="#dd0a0a" stroke-width="2"/>
<line x1="401.0" x2="427.0" y1="348" y2="348" stroke="#dd0a0a" stroke-width="2.8"/>
<path d="M451 469l-13 1l8 2l-7 5l1 2l10 1l7 2l-19 8l10 31l3 12l-2 3" fill="none" stroke="none" marker-start="url(#mb)" marker-mid="url(#mb)" marker-end="url(#mb)"/>
<path d="M447.4 469V475M447.4 522V535.5" stroke="#0a0ad0" stroke-width="2"/>
<rect x="434.4" y="475" width="26" height="47.0" fill="#fff" fill-opacity="0.5" stroke="#0a0ad0" stroke-width="2"/>
<line x1="434.4" x2="460.4" y1="480" y2="480" stroke="#0a0ad0" stroke-width="2.8"/>
<path d="M481 122l-6 9l16 11l-19 7l15 2l-3 3l-12 1l5 0l7 2l-6 1l4 1l-9 1l18 3l-9 1l-1 4l5 1l-13 0l1 1l-1 1l4 2l4 1l-8 0l1 1l2 1l4 1l10 1l-15 1l16 0l-2 1l-18 0l6 1l0 0l12 0l-10 0l0 0l11 0l-7 1l-1 0l-7 0l0 1l6 0l6 0l-16 0l20 1l-18 1l9 1l0 0l0 0l-4 1l0 0l-5 0l5 1l3 0l10 0l-8 0l6 0l-17 0l0 0l1 1l5 0l4 0l4 0l-16 0l10 1l6 2l-7 0l-1 0l-4 1l12 0l-6 1l-9 0l11 0l2 0l1 0l-9 1l14 0l-14 0l-1 0l0 1l3 0l-7 1l11 0l-5 0l11 1l-11 0l12 1l-8 0l6 0l-11 1l9 0l1 0l-6 0l-10 1l3 0l15 0l-10 0l-7 1l14 0l-3 0l7 1l-13 1l15 0l-15 0l12 0l-9 0l0 1l5 0l-3 0l-10 1l19 0l-7 0l2 0l-4 1l5 0l-6 0l10 0l-5 1l-7 0l9 0l-3 1l6 0l-17 1l2 1l12 0l-7 0l5 0l-13 0l12 0l-12 0l12 0l7 1l-1 0l-6 0l-9 1l-2 0l11 0l2 0l-15 1l7 0l10 0l3 0l-13 0l11 1l-1 0l-14 0l6 0l8 1l-8 0l2 1l2 1l-5 0l-7 0l8 1l1 0l7 0l-1 0l-14 0l3 0l10 1l-9 0l0 0l14 1l-12 0l1 1l4 0l0 0l7 0l-20 1l1 0l5 0l0 1l14 0l-4 0l-10 0l1 1l5 0l1 0l-6 1l5 1l3 0l2 1l-2 0l3 1l-1 0l-5 0l-1 0l7 1l-9 0l-5 0l16 0l-6 1l3 0l-10 0l11 1l-4 1l4 0l-3 0l-6 1l-10 0l19 0l0 0l-11 1l2 0l2 0l4 1l-7 0l-1 0l3 1l-7 0l10 0l7 1l-12 0l-8 0l18 0l-14 0l13 1l-15 0l1 0l16 1l-11 0l-7 1l14 1l-15 0l14 0l-3 1l6 1l-3 0l4 0l-6 2l-6 0l1 1l12 1l-19 0l20 0l-10 0l10 1l-11 0l6 0l2 0l-18 0l9 1l8 1l-5 1l-5 0l1 1l9 1l0 0l2 1l-7 2l-4 0l-5 0l-1 1l18 0l-18 1l-1 0l12 1l-12 1l9 1l-5 0l7 2l-8 0l16 0l-18 1l3 0l4 1l-6 1l9 0l6 0l3 1l-17 1l5 1l-5 1l4 2l-6 0l9 0l0 1l10 0l-5 2l0 1l-4 0l4 4l-8 0l6 0l-1 1l-6 5l2 2l-1 5l9 1l-14 1l14 1l-9 5l11 1l-9 1l-7 69" fill="none" stroke="none" marker-start="url(#mr)" marker-mid="url(#mr)" marker-end="url(#mr)"/>
<path d="M480.8 131V197M480.8 244V304.5" stroke="#dd0a0a" stroke-width="2"/>
<rect x="467.8" y="197" width="26" height="47.0" fill="#fff" fill-opacity="0.5" stroke="#dd0a0a" stroke-width="2"/>
<line x1="467.8" x2="493.8" y1="218" y2="218" stroke="#dd0a0a" stroke-width="2.8"/>
<path d="M518 233l-9 34l15 8l-15 2l1 2l11 0l-16 1l1 0l8 1l-8 2l16 1l2 1l-1 2l0 0l-6 2l-4 2l0 1l-4 4l1 3l14 1l-6 0l-2 0l-12 1l7 0l-1 1l-5 9l12 6l4 1l0 2l4 4l-2 3l0 1l-14 2l3 2l11 0l-5 3l-7 2l10 3l-16 1l15 4l3 3l-19 15l8 11" fill="none" stroke="none" marker-start="url(#mb)" marker-mid="url(#mb)" marker-end="url(#mb)"/>
<path d="M514.2 233V289.5M514.2 327V374.5" stroke="#0a0ad0" stroke-width="2"/>
<rect x="501.2" y="289.5" width="26" height="37.5" fill="#fff" fill-opacity="0.5" stroke="#0a0ad0" stroke-width="2"/>
<line x1="501.2" x2="527.2" y1="304.5" y2="304.5" stroke="#0a0ad0" stroke-width="2.8"/>
<path d="M551 84l-1 2l-10 22l6 18l9 1l-6 5l-2 17l6 1l-5 1l6 2l-12 2l-1 0l10 3l3 5l-9 2l9 2l2 4l-11 0l1 3l-4 3l4 4l6 1l5 0l-7 4l6 2l-16 2l18 1l-7 4l-11 5l17 1l1 0l-1 2l-7 1l-2 3l10 3l-12 1l6 14l-1 0l3 5l-8 2l6 5l-14 1l6 3l12 12l-7 7l2 0l4 5l-9 9l-3 20l6 24" fill="none" stroke="none" marker-start="url(#mr)" marker-mid="url(#mr)" marker-end="url(#mr)"/>
<path d="M547.7 86V166M547.7 230V318.5" stroke="#dd0a0a" stroke-width="2"/>
<rect x="534.7" y="166" width="26" height="64.0" fill="#fff" fill-opacity="0.5" stroke="#dd0a0a" stroke-width="2"/>
<line x1="534.7" x2="560.7" y1="193" y2="193" stroke="#dd0a0a" stroke-width="2.8"/>
<path d="M587 107l-1 15l-4 17l-6 2l2 3l5 1l2 4l-8 5l-2 1l-4 0l6 1l-5 1l8 1l-3 0l-3 0l15 1l-1 5l-14 0l8 1l1 1l-10 1l17 0l-8 1l-7 1l14 0l-3 2l0 0l-10 2l9 0l-12 2l6 1l4 0l0 1l-7 1l0 1l-5 1l14 1l-13 0l8 1l-4 1l15 0l0 0l-7 0l1 1l5 0l-17 0l14 0l0 0l-4 0l-12 1l20 0l-12 1l1 0l9 0l0 1l-3 0l-5 0l-4 1l-3 2l8 0l-5 0l-2 1l4 1l3 0l-3 0l1 2l-3 0l2 0l1 0l6 1l-2 0l1 1l4 0l-7 1l2 0l4 0l-2 1l-12 0l9 2l5 0l-1 0l-3 0l2 0l-5 1l9 2l-4 0l-8 0l-1 1l8 0l-10 1l7 0l0 1l5 0l-15 1l15 0l-13 1l10 0l-11 0l9 1l-10 0l1 1l15 0l-9 1l10 0l-16 1l17 0l-14 0l9 0l0 0l-3 1l-10 0l20 1l-13 0l9 0l-10 1l-1 0l-2 2l13 0l-17 1l5 0l13 0l-10 2l9 0l-10 1l3 0l2 0l2 1l-8 2l-3 0l8 2l8 1l-7 0l-4 2l11 1l-12 0l-6 1l15 0l3 0l-18 1l8 0l-3 1l11 1l3 1l-9 0l-2 0l-7 2l-2 0l19 1l-7 0l0 1l1 1l-12 0l3 1l4 0l-2 1l13 0l1 1l-18 0l1 0l16 1l-1 2l-15 1l13 0l-12 1l0 1l5 0l7 1l0 0l4 1l-12 1l6 0l-7 1l1 2l3 1l9 0l-9 1l4 4l-9 5l-5 0l9 4l-4 3l11 11l-3 5l-4 1l6 8l-6 59" fill="none" stroke="none" marker-start="url(#mr)" marker-mid="url(#mr)" marker-end="url(#mr)"/>
<path d="M581.1 122.5V187M581.1 234V297.5" stroke="#dd0a0a" stroke-width="2"/>
<rect x="568.1" y="187" width="26" height="47.0" fill="#fff" fill-opacity="0.5" stroke="#dd0a0a" stroke-width="2"/>
<line x1="568.1" x2="594.1" y1="209" y2="209" stroke="#dd0a0a" stroke-width="2.8"/>
<path d="M618 219l-7 46l9 15l-11 1l0 10l2 1l11 4l-4 2l4 17l-4 15l6 4l-15 20l5 8" fill="none" stroke="none" marker-start="url(#mb)" marker-mid="url(#mb)" marker-end="url(#mb)"/>
<path d="M614.5 219V276.5M614.5 331V362" stroke="#0a0ad0" stroke-width="2"/>
<rect x="601.5" y="276.5" width="26" height="54.5" fill="#fff" fill-opacity="0.5" stroke="#0a0ad0" stroke-width="2"/>
<line x1="601.5" x2="627.5" y1="294" y2="294" stroke="#0a0ad0" stroke-width="2.8"/>
<path d="M641 66l3 84l3 6l-2 2l5 12l6 4l-16 13l8 0l-9 1l9 0l-4 3l3 4l-7 2l12 1l-13 2l4 0l-3 2l11 0l-12 1l15 0l2 2l-1 1l-14 0l-1 3l0 0l3 3l-4 2l9 0l6 0l-4 1l1 0l-5 0l0 1l-3 1l12 2l-10 1l-2 1l1 0l10 1l-16 1l2 1l9 3l-10 1l9 2l6 0l-4 1l0 0l-6 1l13 0l-16 1l2 1l0 1l-4 0l14 2l-15 0l12 0l3 0l-10 1l4 1l0 1l4 0l5 1l-3 0l2 1l-14 0l11 1l-1 0l7 0l-6 3l-4 1l-3 0l12 0l-9 0l8 1l-11 1l-6 0l3 0l9 0l7 1l-1 1l-8 0l-4 0l-4 2l16 1l-18 0l16 0l-3 2l-7 0l-3 1l4 1l11 0l-16 0l-1 0l7 0l-2 1l-2 0l12 0l-1 1l-16 0l11 0l-3 0l5 0l4 1l-14 2l8 1l2 0l0 2l5 0l-15 2l8 1l-10 0l-1 1l20 0l-10 0l4 1l-11 0l17 1l-12 0l10 0l-16 2l3 0l-5 0l18 1l-6 0l-11 2l10 1l4 0l1 1l-11 0l-2 0l11 1l6 3l-14 0l-5 0l4 2l13 1l-14 1l6 0l4 2l3 0l-15 1l18 2l-2 1l-6 0l0 2l-2 1l-2 1l11 1l-1 0l-17 1l8 2l-9 0l19 1l-4 1l-5 1l6 1l-4 4l-9 0l5 1l7 2l-10 6l11 2l-10 6l12 1l-4 3l-5 16l8 30" fill="none" stroke="none" marker-start="url(#mr)" marker-mid="url(#mr)" marker-end="url(#mr)"/>
<path d="M647.9 150.5V224M647.9 277V346.5" stroke="#dd0a0a" stroke-width="2"/>
<rect x="634.9" y="224" width="26" height="53.0" fill="#fff" fill-opacity="0.5" stroke="#dd0a0a" stroke-width="2"/>
<line x1="634.9" x2="660.9" y1="253" y2="253" stroke="#dd0a0a" stroke-width="2.8"/>
<path d="M690 66l-13 53l0 25l1 1l-3 0l16 1l-2 4l-11 2l7 1l5 1l0 0l1 3l-1 1l-5 3l-3 1l-11 1l0 0l21 1l-6 2l-12 1l10 1l-10 0l15 0l-6 1l1 2l-12 1l6 0l14 2l-6 0l6 0l-19 1l18 0l-10 0l0 0l-9 1l9 0l2 1l-11 0l6 0l1 0l8 1l-12 0l13 0l-15 1l3 0l3 0l11 1l-15 0l14 1l-6 1l2 0l4 1l-16 0l6 0l11 0l-9 0l-9 1l2 0l10 0l-12 0l7 0l2 1l1 1l10 1l-11 0l2 1l7 0l-15 0l9 1l6 0l-7 0l-10 0l7 1l-8 0l15 0l-13 2l15 0l-10 0l-2 0l-3 0l-3 0l2 0l9 0l9 0l-12 0l12 1l-1 0l-5 0l-9 0l15 1l-11 0l-5 1l16 0l-13 0l1 1l-2 0l-5 0l5 1l8 0l-8 0l15 0l-2 0l-8 1l-9 0l-1 0l2 0l7 0l1 1l-10 0l5 0l-5 1l7 0l0 1l2 0l-3 0l-5 0l-1 0l15 0l2 1l-4 0l-8 0l11 0l-16 0l17 1l-6 0l-2 0l1 1l0 0l8 0l-1 1l-7 1l5 0l-1 0l3 0l-7 0l3 0l-5 0l-5 1l7 0l3 0l6 0l0 0l-5 0l-12 1l3 0l12 0l-8 0l-3 0l-6 0l11 0l5 0l-9 0l9 1l-13 0l13 0l-4 0l4 0l-2 1l-14 0l19 0l-16 0l14 0l-12 0l7 1l5 0l-13 1l8 0l-8 0l3 0l10 0l-13 0l-3 0l-2 0l1 0l16 0l-8 1l9 0l1 0l2 0l-13 0l-4 0l13 0l-17 1l7 0l13 0l-6 1l-10 0l16 0l-2 0l-15 0l2 1l2 0l-2 0l1 0l-3 0l11 0l-11 1l11 0l-5 1l7 0l-7 0l3 0l-12 0l7 1l2 0l7 0l-9 0l1 0l11 1l-17 0l13 0l-11 0l-3 0l4 0l16 0l-4 0l-11 1l5 0l-11 0l11 0l-3 0l6 0l4 0l-11 0l3 0l-8 0l15 0l-12 0l12 0l-1 0l-2 1l5 0l-1 0l-14 0l2 1l-4 0l5 0l4 1l-3 0l7 0l4 0l0 0l-9 0l10 1l-3 0l-17 0l9 0l2 1l10 0l-3 0l-6 0l1 0l-10 1l4 0l4 0l1 0l-5 0l14 0l-15 1l12 0l-9 0l1 0l4 0l3 1l-8 0l9 0l3 0l-2 0l-15 1l-2 0l12 0l-14 0l1 0l19 0l1 1l-8 0l-11 0l13 0l6 0l-16 0l-1 0l11 1l-9 0l4 0l6 0l-16 0l18 0l-6 1l-6 0l13 0l-12 0l0 0l2 0l-7 0l16 0l-3 0l3 1l-7 0l3 1l-3 0l5 0l5 1l-12 0l-5 0l9 0l-9 0l6 0l5 0l-8 1l12 0l-5 0l-13 1l19 0l-15 0l10 0l-12 0l14 0l-6 1l9 0l0 0l-19 0l13 0l-6 1l6 0l-8 0l14 0l-5 0l5 1l-5 0l4 0l-1 0l-5 0l-10 0l13 1l2 0l-4 0l7 0l-21 0l2 1l-1 0l17 0l-15 0l10 0l5 1l-7 0l8 0l-10 0l-7 0l13 1l4 0l-8 0l10 0l-12 1l3 0l1 1l-12 0l10 0l8 0l-5 0l5 0l0 0l-9 0l4 0l-7 1l5 1l-3 0l7 0l-13 0l12 0l-13 0l8 1l5 0l-5 0l-4 0l14 1l0 0l-10 0l-1 0l3 0l-9 1l-1 0l8 0l2 1l-9 0l0 0l3 1l-5 0l8 0l-1 0l12 0l-9 0l-1 1l7 0l-13 0l15 0l-15 1l2 0l7 0l-13 0l3 0l6 1l4 0l6 0l-15 0l3 0l4 1l0 0l-10 0l18 0l-4 1l-8 0l5 1l6 0l-14 0l9 0l-13 0l11 1l-7 0l0 0l8 1l-6 0l-1 0l15 0l-2 0l-8 1l0 0l-4 0l2 0l7 0l-10 1l3 0l13 0l-1 0l-6 0l-7 1l2 0l3 1l4 1l-11 0l-5 0l3 0l1 0l-1 0l14 2l-1 0l3 1l-19 0l10 0l5 1l-3 0l-7 1l6 0l-5 0l7 1l2 0l-10 0l9 0l4 1l-8 0l4 0l-5 0l-6 1l13 0l4 1l-8 1l7 0l-10 0l0 2l8 0l-2 1l-14 1l-1 0l16 0l-9 0l12 0l-11 1l-2 0l1 0l9 1l1 0l-4 1l-3 2l-7 0l17 1l-8 0l-7 3l9 1l1 0l2 1l-10 1l-4 1l8 1l-3 1l12 2l-18 1l10 0l6 0l2 1l-13 2l10 0l-9 1l6 3l-4 0l9 2l-2 0l-17 0l15 0l-6 1l2 0l5 2l-11 0l13 2l-9 3l1 1l2 0l0 1l-7 1l15 1l-19 0l6 1l-1 7l7 3l-10 1l4 8l2 38" fill="none" stroke="none" marker-start="url(#mr)" marker-mid="url(#mr)" marker-end="url(#mr)"/>
<path d="M681.3 143.5V206.5M681.3 260V339.5" stroke="#dd0a0a" stroke-width="2"/>
<rect x="668.3" y="206.5" width="26" height="53.5" fill="#fff" fill-opacity="0.5" stroke="#dd0a0a" stroke-width="2"/>
<line x1="668.3" x2="694.3" y1="231" y2="231" stroke="#dd0a0a" stroke-width="2.8"/>
<path d="M717 230l-13 27l17 4l-7 11l-2 1l13 3l-14 3l9 3l-2 3l-9 1l3 3l-3 0l-4 1l7 1l-4 0l-3 4l7 4l10 5l-17 1l2 0l6 0l5 1l-7 1l14 4l-11 0l-7 1l14 1l-12 1l4 2l10 3l-11 1l0 0l2 4l9 2l-7 0l-4 0l13 1l-12 2l6 1l-6 0l3 1l1 12l3 2l-13 8l10 1l4 6l-13 53l10 42" fill="none" stroke="none" marker-start="url(#mb)" marker-mid="url(#mb)" marker-end="url(#mb)"/>
<path d="M714.8 230V282M714.8 318V360.5" stroke="#0a0ad0" stroke-width="2"/>
<rect x="701.8" y="282" width="26" height="36.0" fill="#fff" fill-opacity="0.5" stroke="#0a0ad0" stroke-width="2"/>
<line x1="701.8" x2="727.8" y1="300" y2="300" stroke="#0a0ad0" stroke-width="2.8"/>
<path d="M748 154l-7 7l11 2l-1 16l-5 0l9 0l-14 2l-3 0l8 1l5 2l-8 2l-3 3l0 2l4 1l2 0l7 2l-14 0l18 0l-5 2l-9 1l-3 1l16 1l-11 0l10 1l-14 4l12 1l3 1l-11 0l2 0l-4 2l1 0l-4 1l10 1l-2 1l8 1l-12 3l0 0l-6 1l7 4l-7 0l5 1l12 1l-2 1l-9 0l8 0l-12 1l6 2l6 1l-2 0l9 1l-17 0l11 1l-15 0l2 2l15 0l-13 0l9 1l-5 2l1 0l-4 0l15 3l-14 0l10 0l-15 1l-1 0l15 0l5 1l-2 0l-14 1l2 0l0 0l10 0l-15 1l18 0l-19 1l10 1l-5 1l-2 2l12 2l-14 2l12 1l0 2l4 0l-5 1l9 0l-5 0l-10 3l8 0l-14 0l5 1l3 2l5 3l-13 6l18 0l-14 1l14 4l-1 0l-1 14l-10 2l1 60" fill="none" stroke="none" marker-start="url(#mr)" marker-mid="url(#mr)" marker-end="url(#mr)"/>
<path d="M748.2 154V204M748.2 241.5V290" stroke="#dd0a0a" stroke-width="2"/>
<rect x="735.2" y="204" width="26" height="37.5" fill="#fff" fill-opacity="0.5" stroke="#dd0a0a" stroke-width="2"/>
<line x1="735.2" x2="761.2" y1="226" y2="226" stroke="#dd0a0a" stroke-width="2.8"/>
<path d="M773 66l13 53l-5 25l8 2l-4 0l-4 8l-1 1l12 5l-19 1l-1 1l20 0l-8 2l2 1l5 0l-19 0l9 1l10 1l-19 4l2 4l13 0l-3 1l-1 0l7 1l-12 0l14 1l-7 2l6 1l-3 1l-13 0l5 1l-6 1l4 0l4 0l0 1l10 1l-8 0l4 1l-2 0l-6 0l-8 0l10 1l-7 0l6 0l-2 1l13 0l-1 1l-11 0l-7 1l6 0l1 0l9 2l2 0l-9 2l3 0l3 0l-10 0l3 1l10 0l-13 1l-3 0l-3 0l15 0l-10 1l-4 1l15 1l1 0l-3 0l3 0l-14 0l9 0l-10 0l15 0l-17 0l2 0l8 0l-6 1l10 0l-11 0l-1 0l17 0l-19 2l12 0l-5 0l9 0l3 0l-3 2l-8 0l-4 0l-4 1l16 0l-12 0l-1 0l-3 2l9 0l10 0l-3 0l-2 1l-4 0l6 1l-17 0l5 0l4 0l10 1l-19 0l14 1l-5 0l-5 1l11 0l-8 0l9 0l-8 0l4 1l-8 0l8 0l-9 0l0 1l18 0l-10 0l9 1l-9 0l2 0l4 0l-2 0l-3 0l-10 1l1 0l10 0l-3 0l2 0l7 1l-13 0l-1 0l-1 0l5 0l1 1l2 0l5 0l2 0l-15 1l10 0l6 0l-19 0l8 1l-2 0l1 0l9 0l-10 0l-4 0l17 1l-5 0l-10 0l-1 0l16 1l-7 0l-10 0l3 0l12 0l1 0l-2 0l0 1l-16 0l6 0l-4 0l18 0l-21 0l15 1l1 0l-5 0l-9 0l-2 0l5 0l-1 1l0 0l4 0l6 0l-4 0l-3 1l14 0l-19 0l7 0l2 0l6 1l-10 0l13 0l-1 0l-12 1l13 0l-4 0l-9 0l12 0l-7 1l1 0l8 0l-8 0l-7 0l3 0l5 1l-11 0l12 1l-4 0l-4 0l3 0l7 1l-6 0l-6 0l-4 1l14 0l4 0l2 0l-5 1l-1 0l-9 0l-2 0l13 0l-9 0l9 1l-5 0l-4 0l3 0l-6 1l5 0l-6 1l6 0l-7 0l-1 0l13 0l0 0l-1 1l5 0l-13 0l2 0l1 1l6 0l-6 0l4 0l2 0l-13 0l-1 1l12 0l-3 0l3 0l-8 0l-5 0l6 1l1 0l1 1l10 0l-3 1l-6 0l12 0l-21 0l18 0l-8 0l-5 0l-5 1l4 0l10 0l-12 1l14 0l-10 0l10 0l-5 0l-2 1l1 0l-9 0l0 0l4 0l7 0l-7 0l10 1l-7 0l-6 0l10 0l-2 0l2 0l-11 0l1 0l9 0l-7 0l8 0l-3 1l6 0l5 0l-19 0l12 1l-9 0l-2 1l2 0l-4 1l6 0l6 0l-2 0l-5 1l15 1l-15 0l6 0l0 0l-11 1l7 0l9 0l-8 1l12 0l-20 0l13 1l-11 0l1 0l3 0l3 0l1 0l2 0l-8 3l15 0l-3 0l-2 0l-11 0l7 1l11 0l-2 0l-12 1l11 0l-3 0l-3 0l-3 1l11 0l-10 0l6 0l-6 0l0 0l-4 1l11 0l-5 0l-7 0l4 1l6 0l-8 0l-3 1l16 0l-6 0l-11 0l7 1l3 1l-8 0l4 0l8 0l-9 1l12 0l-13 0l-3 0l1 0l15 1l-12 0l11 0l-7 0l-6 1l4 1l-8 0l3 0l16 1l-5 0l-11 0l3 1l12 1l-4 0l-15 0l20 1l-18 0l12 0l-7 0l2 1l10 0l-3 0l-12 1l2 1l2 0l8 1l-14 0l-2 0l2 0l17 1l0 0l-2 0l-16 1l13 0l-5 1l6 1l-13 0l17 0l-1 1l-8 1l-4 1l-7 0l16 0l4 0l-16 0l7 2l8 0l-11 1l-5 0l0 1l0 3l3 0l0 0l11 1l-16 2l19 1l-15 1l-4 1l8 1l11 1l-9 1l-5 2l10 0l2 2l-14 1l13 2l-5 5l7 1l-17 1l0 1l5 0l2 5l-4 1l1 2l14 2l-14 10l4 40" fill="none" stroke="none" marker-start="url(#mr)" marker-mid="url(#mr)" marker-end="url(#mr)"/>
<path d="M781.6 143.5V209M781.6 262V338" stroke="#dd0a0a" stroke-width="2"/>
<rect x="768.6" y="209" width="26" height="53.0" fill="#fff" fill-opacity="0.5" stroke="#dd0a0a" stroke-width="2"/>
<line x1="768.6" x2="794.6" y1="234" y2="234" stroke="#dd0a0a" stroke-width="2.8"/>
<path d="M811 163l-1 25l7 14l3 1l-12 8l0 2l0 17l11 5l-13 16l2 1l-2 0l2 2l-2 26l12 3l-11 8l12 16l4 6l-18 1l0 4l20 4l-8 0l-12 4l1 4l2 4l3 3l7 4l5 5l-16 3l13 1l-2 1l-13 0l8 3l1 2l11 7l-20 1l15 2l5 0l-15 1l2 0l12 1l-15 0l6 1l6 2l-11 1l8 3l-6 2l1 1l9 1l-6 2l-8 0l-1 2l-1 0l7 9l-4 5l-3 5l3 3l15 2l-13 0l6 6l-10 15l11 3l-3 8l4 11l6 1l-17 9l3 7l12 24l-8 13" fill="none" stroke="none" marker-start="url(#mr)" marker-mid="url(#mr)" marker-end="url(#mr)"/>
<path d="M815.0 163V302M815.0 409.5V504" stroke="#dd0a0a" stroke-width="2"/>
<rect x="802.0" y="302" width="26" height="107.5" fill="#fff" fill-opacity="0.5" stroke="#dd0a0a" stroke-width="2"/>
<line x1="802.0" x2="828.0" y1="363" y2="363" stroke="#dd0a0a" stroke-width="2.8"/>
<path d="M852 305l5 14l-1 8l-7 6l4 13l-11 7l12 3l1 1l2 3l-10 3l8 2l-7 2l7 1l-8 1l-1 3l-3 3l-3 0l15 2l-6 2l-8 0l10 1l0 2l-8 3l1 4l2 7l0 4l1 6l-5 40l10 6" fill="none" stroke="none" marker-start="url(#mb)" marker-mid="url(#mb)" marker-end="url(#mb)"/>
<path d="M848.4 305V351M848.4 384V406" stroke="#0a0ad0" stroke-width="2"/>
<rect x="835.4" y="351" width="26" height="33.0" fill="#fff" fill-opacity="0.5" stroke="#0a0ad0" stroke-width="2"/>
<line x1="835.4" x2="861.4" y1="368" y2="368" stroke="#0a0ad0" stroke-width="2.8"/>
<path d="M877 142l-3 8l6 53l4 9l-10 1l2 2l11 1l-9 2l1 3l-5 1l13 1l-8 1l8 3l-12 0l5 3l5 0l-7 1l0 1l5 1l5 0l-6 1l-9 1l5 0l13 1l-2 1l1 1l-3 0l3 0l-14 1l2 0l-4 4l1 0l8 1l-1 1l-4 0l-4 1l5 3l-4 0l0 0l7 0l6 0l-5 1l-9 2l2 1l1 0l5 1l-11 0l10 0l8 1l2 0l-18 0l18 0l-14 0l11 1l-5 1l8 0l-3 2l-16 1l20 0l-3 1l-11 0l9 1l-11 0l2 0l-1 2l-1 1l5 0l5 1l-10 0l6 0l2 0l-5 1l4 0l-9 0l4 0l11 1l-1 2l-5 0l9 0l-19 1l1 0l17 0l-8 0l-5 1l-3 0l-1 0l6 0l6 0l5 2l-18 0l4 0l2 0l7 0l-14 1l6 0l5 0l4 1l-3 0l4 1l1 0l2 0l0 0l-9 0l-5 1l1 0l2 0l9 1l-15 0l15 0l-5 1l-4 0l-6 0l2 1l5 0l2 1l8 0l-5 0l-1 1l-3 0l-4 0l4 0l2 0l-5 1l0 0l-8 0l15 1l3 0l-9 0l7 1l-11 1l0 0l15 1l-3 0l-4 0l-13 0l7 0l-2 0l4 1l9 0l-14 0l5 0l2 1l-4 0l2 0l5 0l-3 1l-5 0l9 0l-7 1l-5 0l5 0l2 1l-5 0l11 0l-5 0l9 0l0 0l-7 1l-2 0l-3 0l11 0l-7 0l1 0l-9 0l1 1l4 0l-2 0l3 0l8 0l-9 0l9 1l-17 0l9 0l3 0l5 0l-5 1l5 0l-14 0l8 1l8 0l1 0l-2 1l-11 0l5 1l-5 0l9 1l1 0l-16 0l6 0l2 1l0 0l-3 0l7 0l-4 0l-8 0l1 1l8 0l2 0l-11 1l15 0l1 0l-6 0l-11 0l15 0l-8 0l2 1l-4 0l14 0l-14 1l14 0l-6 1l-14 0l19 0l0 0l-5 1l-6 0l-6 0l10 0l-1 1l-6 0l12 0l-11 0l6 0l4 1l-10 0l3 0l-3 0l2 1l4 0l2 0l-2 1l-5 0l14 0l-2 0l-18 1l20 0l-16 0l15 1l-4 0l-7 0l-5 1l2 0l3 0l-5 0l13 0l-11 0l0 0l12 0l2 1l-12 0l8 0l-10 0l13 0l-7 1l-2 0l0 0l0 1l5 0l-7 0l12 0l-9 0l5 0l0 0l-9 1l0 0l10 0l-9 0l10 0l-9 0l7 0l-9 1l-1 0l15 0l-16 0l13 0l3 0l-8 0l1 0l-8 0l-4 1l10 0l7 0l-18 0l1 1l11 0l8 1l-16 0l3 0l13 0l-2 1l-16 0l13 1l-15 0l8 0l-9 0l17 0l0 1l-5 0l-2 0l-2 0l-3 0l1 1l3 0l3 0l2 1l-11 0l14 0l1 1l0 1l-15 0l2 0l5 0l-6 0l14 0l-1 0l4 2l-10 0l4 0l-10 1l15 0l-8 0l-7 0l2 0l1 0l13 0l-6 0l-13 0l3 1l2 0l9 0l-10 0l5 0l9 0l-17 1l13 0l4 0l1 0l-10 0l-4 1l6 0l3 0l-5 0l-4 0l1 0l-6 1l4 0l8 0l-3 0l-2 1l-3 0l2 0l10 0l-12 1l8 0l-4 0l3 0l-9 1l17 0l-14 0l0 0l-2 0l3 1l-7 0l2 0l0 0l16 0l1 1l-11 0l5 0l7 1l-19 0l12 0l5 0l1 1l-18 0l15 0l2 0l0 0l-8 1l-1 0l6 0l-3 0l-1 1l3 0l5 0l-2 0l-14 0l8 0l4 0l-14 1l5 1l7 0l-8 0l-1 0l16 0l-1 1l-4 0l-11 0l1 0l10 0l-2 0l-4 1l1 0l-4 1l-3 0l14 0l-7 0l10 1l-17 0l2 0l-3 0l7 0l-3 1l-6 0l5 0l5 1l2 0l-2 0l2 1l0 2l-2 0l-2 0l4 0l-8 0l9 1l2 0l-11 0l1 0l11 0l0 0l-12 0l10 1l4 0l-8 1l2 0l-5 0l1 0l7 1l4 0l-16 0l-3 0l13 0l-8 1l-3 0l9 0l4 1l1 0l0 0l1 1l-2 0l-10 1l-1 1l15 0l-19 1l14 0l-8 0l13 1l-6 0l0 0l-10 1l4 0l13 0l-9 0l-4 0l10 0l-9 1l7 0l3 0l-1 0l-16 0l16 1l-4 1l7 0l-16 1l2 0l7 1l-9 0l7 0l-4 1l-5 0l1 0l16 1l-15 0l6 0l8 1l-13 2l3 0l-6 1l7 0l-9 0l12 2l-1 0l7 1l0 0l-8 0l-4 0l13 1l1 0l-5 1l-6 1l-8 0l6 1l10 1l-13 0l3 1l12 0l-6 1l4 0l-2 2l3 0l-16 1l-1 0l5 1l1 0l8 1l-2 1l-13 0l20 3l-18 3l5 2l6 0l-13 0l16 0l-9 0l-5 6l7 2l-10 3l14 0l-3 0l-7 4l7 3l2 0l-6 1l6 3l-5 4l7 7l-4 1l-4 26" fill="none" stroke="none" marker-start="url(#mr)" marker-mid="url(#mr)" marker-end="url(#mr)"/>
<path d="M881.9 203V291M881.9 350V437.5" stroke="#dd0a0a" stroke-width="2"/>
<rect x="868.9" y="291" width="26" height="59.0" fill="#fff" fill-opacity="0.5" stroke="#dd0a0a" stroke-width="2"/>
<line x1="868.9" x2="894.9" y1="321" y2="321" stroke="#dd0a0a" stroke-width="2.8"/>
<path d="M910 283l0 11l0 0l4 5l-2 2l5 6l-10 4l14 3l0 5l-7 1l-1 0l7 4l4 1l-13 7l13 7l-10 1l-3 6l-5 10l2 0l15 1l0 1l-2 0l-10 1l6 1l6 0l-15 2l-2 1l19 2l-7 3l-7 0l1 1l-7 3l7 1l12 1l-14 2l-3 1l5 0l4 3l-2 1l-2 0l12 1l-2 1l-10 1l12 0l-14 0l12 1l-16 0l13 0l2 1l-11 0l1 1l6 0l-3 3l2 1l3 0l7 0l-7 1l-10 1l-4 0l13 2l-3 3l8 2l-3 0l-4 1l-10 2l18 1l-1 1l-8 1l-8 4l3 4l9 0l-5 1l11 0l-11 12" fill="none" stroke="none" marker-start="url(#mb)" marker-mid="url(#mb)" marker-end="url(#mb)"/>
<path d="M915.3 283V343.7M915.3 392.7V427" stroke="#0a0ad0" stroke-width="2"/>
<rect x="902.3" y="343.7" width="26" height="49.0" fill="#fff" fill-opacity="0.5" stroke="#0a0ad0" stroke-width="2"/>
<line x1="902.3" x2="928.3" y1="375" y2="375" stroke="#0a0ad0" stroke-width="2.8"/>
<path d="M951 159l4 13l-1 75l4 12l-9 9l-6 5l2 1l4 2l-7 4l3 2l-1 0l-3 9l3 2l1 0l3 4l-7 6l17 0l-10 1l10 4l-2 3l0 0l-17 0l4 1l7 0l-2 1l-4 0l6 1l-8 2l1 2l-4 0l13 0l1 1l-14 0l10 4l4 1l-9 1l3 2l-3 2l12 0l-4 2l-10 0l-3 1l12 1l1 0l3 1l-8 0l9 1l-17 1l0 0l14 2l6 1l-13 2l10 2l-16 0l5 1l1 1l12 0l-9 0l1 1l4 0l1 2l-5 0l-10 0l1 1l8 1l-9 1l4 0l-3 2l1 0l11 0l-8 1l13 0l-3 0l0 0l-3 1l-14 0l7 0l7 1l-7 0l11 0l-16 1l13 0l5 0l-5 2l-5 0l10 1l-16 0l15 1l-15 1l11 1l-1 0l-3 2l3 0l-6 1l2 0l-2 0l0 1l8 0l-4 1l5 0l-10 0l-5 1l18 0l-7 1l4 0l-12 0l1 1l-4 1l15 1l0 0l1 0l1 0l-14 0l14 1l-16 1l-3 0l4 0l7 2l1 0l1 1l2 0l-9 0l5 1l-9 0l-1 0l20 1l-13 0l12 0l-5 0l5 0l-15 1l-4 0l11 1l-6 0l11 2l2 0l0 1l-8 0l-6 1l-1 0l0 0l11 1l4 1l-8 0l1 0l3 1l-9 0l9 3l-14 1l12 0l0 0l7 1l-3 0l-8 0l4 1l6 1l-4 1l-4 0l10 0l-7 0l4 1l-5 1l-6 0l-4 1l17 0l-12 0l-1 0l-1 1l-6 1l20 0l-11 1l-1 0l11 1l-1 0l-7 0l-6 0l8 1l-8 0l-2 0l4 0l7 0l-3 1l7 1l-8 1l-9 0l13 0l-6 0l12 0l-8 1l4 0l2 1l-13 0l16 1l-2 0l-14 0l3 1l2 0l6 1l4 0l-13 2l6 0l2 1l-2 0l-6 1l6 0l-10 0l-1 0l19 3l-18 0l13 1l-9 0l1 0l-7 1l11 0l-11 1l14 1l-4 2l4 0l1 0l1 1l-7 0l6 0l-4 0l-2 1l-5 0l-1 0l1 1l6 1l9 0l-13 1l4 1l2 0l4 0l-17 1l15 1l-3 1l8 0l-9 0l-8 0l6 2l5 0l1 2l-5 0l0 1l11 0l-8 0l-4 1l11 0l-12 0l-4 0l11 1l-9 0l12 1l-2 1l5 0l-20 1l2 0l12 0l6 1l-13 1l1 3l-2 0l-6 1l19 1l-10 0l-6 1l-1 3l8 1l-1 0l10 0l-4 1l-12 0l17 0l-6 0l-13 0l4 0l7 4l6 0l-17 1l14 2l-15 0l16 3l-4 1l0 0l-5 1l8 4l-16 0l14 8l6 9l-12 1l-6 2l19 7l-14 3l0 7l12 7" fill="none" stroke="none" marker-start="url(#mr)" marker-mid="url(#mr)" marker-end="url(#mr)"/>
<path d="M948.7 247V354.6M948.7 431V511" stroke="#dd0a0a" stroke-width="2"/>
<rect x="935.7" y="354.6" width="26" height="76.4" fill="#fff" fill-opacity="0.5" stroke="#dd0a0a" stroke-width="2"/>
<line x1="935.7" x2="961.7" y1="397" y2="397" stroke="#dd0a0a" stroke-width="2.8"/>
<path d="M977 332l-5 5l4 13l6 3l8 7l-9 1l3 9l2 1l-11 2l-1 0l14 0l1 2l-2 10l-5 4l-9 5l10 0l1 5l5 2l-1 2l-5 0l-9 6l4 2l5 1l-9 1l7 0l5 5l1 1l-6 3l11 1l-17 5l10 4l-4 1l-3 2l1 11" fill="none" stroke="none" marker-start="url(#mb)" marker-mid="url(#mb)" marker-end="url(#mb)"/>
<path d="M982.1 332.5V369M982.1 411V446" stroke="#0a0ad0" stroke-width="2"/>
<rect x="969.1" y="369" width="26" height="42.0" fill="#fff" fill-opacity="0.5" stroke="#0a0ad0" stroke-width="2"/>
<line x1="969.1" x2="995.1" y1="391" y2="391" stroke="#0a0ad0" stroke-width="2.8"/>
<path d="M1020 133l-1 29l-13 1l14 1l-11 1l11 0l-13 7l15 9l-6 5l-7 1l0 0l6 1l-9 1l8 0l5 3l-9 0l5 0l-5 2l-2 1l16 2l-2 0l-15 1l5 2l8 0l-5 1l9 0l0 1l2 0l-2 1l-8 1l6 0l-14 0l15 1l-15 2l6 1l3 0l2 0l-10 0l14 2l-9 2l11 0l-18 0l4 0l0 2l7 1l-13 0l12 1l-11 0l5 0l9 0l-13 1l19 0l-11 0l0 1l-3 0l-3 1l7 0l6 1l1 0l-3 1l5 0l0 0l-3 1l-13 0l14 0l-10 0l7 3l1 1l-2 0l-11 0l11 2l-13 0l6 1l12 0l-12 0l-5 2l18 1l-18 0l1 0l-1 1l9 0l-8 0l4 2l-7 2l3 0l-3 0l11 1l5 0l-12 1l13 0l-11 1l13 1l2 1l-8 1l0 1l-5 0l-5 1l-1 1l8 0l11 1l-12 1l2 0l1 0l-6 0l6 2l4 0l-4 1l-3 0l-7 1l19 0l-17 0l-1 1l12 0l-7 1l-2 0l-5 0l18 0l1 1l-8 1l-10 0l10 0l0 1l7 2l-9 1l3 0l7 1l-4 0l-11 2l3 1l9 1l-8 1l0 0l-6 0l7 0l0 1l-1 2l-1 0l-2 1l-3 1l1 0l4 1l-2 1l2 1l5 0l-7 1l-1 0l6 1l9 0l-15 1l-2 1l2 1l5 0l1 1l0 0l6 2l-3 1l1 0l-8 0l-6 2l6 0l13 1l-5 3l-14 0l17 1l-7 1l9 1l-18 0l2 0l7 1l-5 1l9 0l-8 5l3 9l-7 2l5 2l0 15l1 5" fill="none" stroke="none" marker-start="url(#mr)" marker-mid="url(#mr)" marker-end="url(#mr)"/>
<path d="M1015.5 161.7V212M1015.5 260V332.5" stroke="#dd0a0a" stroke-width="2"/>
<rect x="1002.5" y="212" width="26" height="48.0" fill="#fff" fill-opacity="0.5" stroke="#dd0a0a" stroke-width="2"/>
<line x1="1002.5" x2="1028.5" y1="238" y2="238" stroke="#dd0a0a" stroke-width="2.8"/>
<path d="M1055 60l-13 3l8 4l8 3l-9 0l-10 2l17 2l-7 0l3 2l-7 2l-5 1l15 0l-12 2l11 0l4 3l-10 1l-5 1l0 7l10 3l-11 2l13 0l-14 2l18 1l-19 3l9 0l3 1l-11 1l4 0l-6 2l11 0l-3 1l4 0l-12 0l5 0l-1 0l8 1l-2 0l6 0l-1 1l-9 0l9 1l-13 0l6 1l-1 2l13 0l-6 0l-6 5l-1 1l13 1l-20 1l7 0l11 0l-6 0l-12 0l19 1l0 2l-18 1l7 0l7 3l-6 0l0 1l6 1l-15 1l3 0l14 0l3 1l-1 0l-18 1l5 0l1 1l11 1l-10 0l-4 0l12 0l-2 2l2 0l-15 1l-1 1l7 0l3 0l-2 1l2 0l-4 0l-5 3l9 0l-2 0l5 1l-5 0l10 2l-14 0l14 1l-14 1l10 2l-15 0l19 0l-11 0l12 0l-8 2l-10 0l0 0l12 1l3 0l-2 1l5 1l-9 1l-8 0l13 0l2 0l-11 1l13 1l-4 0l-7 1l-8 0l9 0l-1 0l11 1l-9 0l8 0l-3 0l-8 1l10 0l-2 1l-3 2l7 0l-6 0l-11 1l12 0l-3 0l-3 1l-3 1l-5 0l11 0l6 0l-9 1l9 0l-17 0l13 0l1 1l-8 0l-3 0l3 0l9 0l-9 0l-6 0l8 0l-1 1l4 0l-5 0l-1 0l0 1l6 0l-1 0l3 0l-11 1l4 0l6 0l4 1l2 1l0 0l2 0l-12 0l-4 1l15 0l-3 0l-5 0l-7 0l3 1l-5 0l17 0l-9 1l-2 0l10 0l-16 0l5 1l-7 0l13 1l-3 0l-2 0l11 1l-19 0l4 0l-2 1l5 0l6 0l7 2l-19 0l-1 0l3 0l15 0l-18 0l9 0l-6 2l-1 0l6 1l11 0l-12 1l11 0l-8 0l4 2l-9 0l-3 0l11 1l-6 0l6 0l1 0l-4 1l10 0l-4 0l-10 0l9 1l2 0l-8 0l1 1l-8 0l7 1l-6 1l7 0l-9 0l11 0l5 0l3 0l-1 0l-18 1l0 0l6 1l10 0l-1 0l-6 0l4 1l-1 0l-5 1l10 0l-14 0l-4 0l18 0l-12 0l-3 1l-2 0l7 0l-8 0l4 0l16 0l-16 1l5 0l7 0l-5 1l0 0l2 0l-12 0l0 0l18 1l-10 0l10 0l-13 1l4 1l4 0l6 1l-9 0l2 0l4 1l-8 0l8 1l-5 0l-2 0l7 0l-2 0l3 1l-7 0l-7 0l7 0l1 0l-12 0l3 0l8 1l9 1l-14 0l-1 0l5 1l0 0l10 0l-18 1l3 0l13 0l-17 0l14 1l-2 0l-7 0l7 0l1 1l-6 0l12 0l-18 0l8 0l-5 0l10 1l-1 1l4 0l-7 0l2 0l-3 0l6 1l0 0l-7 0l-2 1l13 1l-12 1l-2 0l8 0l6 1l-13 0l0 0l-1 0l-5 0l0 0l8 0l-6 1l10 0l-6 0l7 0l-12 0l10 1l-4 0l2 0l4 0l-6 0l12 0l-6 0l-7 1l13 0l-6 1l-12 0l10 1l-11 0l6 0l8 0l5 1l-17 0l12 0l-1 0l-4 1l9 0l-7 1l2 0l0 1l2 1l-12 0l-4 0l8 1l4 1l2 0l0 0l-6 0l-7 0l9 1l3 1l-4 0l0 0l1 0l2 1l4 0l4 1l-7 0l-4 0l6 1l-7 0l-6 1l11 0l-11 1l-2 0l1 0l12 0l-7 1l1 0l5 0l0 1l-6 0l2 0l10 0l-16 0l-2 0l4 1l-4 0l12 1l3 0l-12 0l14 1l-7 0l-1 0l-5 1l-2 1l2 0l14 1l-5 0l-4 0l10 0l-13 1l-4 0l16 0l-17 1l16 1l-12 0l6 0l-1 1l10 0l0 1l-16 1l11 0l-12 1l16 0l-3 1l-8 0l8 0l-7 1l-7 0l11 0l-6 0l-4 2l-2 0l13 0l-9 0l-1 1l-3 2l10 1l-3 0l-2 1l13 0l-19 0l18 0l-11 1l12 0l-18 0l12 0l0 1l-6 0l13 0l-7 1l7 0l-4 0l-3 0l-2 1l-11 1l10 1l8 1l-3 1l0 0l-14 0l4 0l2 1l-5 0l9 1l-5 3l1 0l13 0l0 1l-1 2l-4 2l-13 0l2 0l-4 0l8 1l-2 1l2 2l8 2l-4 0l-1 1l-9 1l13 0l-11 0l15 0l-7 0l-6 1l14 0l-2 1l-6 1l6 0l2 2l-8 0l0 1l-13 0l13 1l-8 1l-1 3l13 2l-12 1l2 0l6 0l2 2l-10 1l-4 2l11 0l5 1l2 1l1 1l-19 4l0 1l9 2l7 0l0 1l-14 3l3 3l-2 0l6 1l-5 0l10 1l-2 0l-1 1l-10 2l2 1l4 2l-6 1l18 3l-9 4l1 0l-10 1l2 4l5 1l3 1l6 3l3 0l-3 3l-12 2l7 0l-5 12l-7 2l5 13" fill="none" stroke="none" marker-start="url(#mr)" marker-mid="url(#mr)" marker-end="url(#mr)"/>
<path d="M1049.0 59.5V164.5M1049.0 255V387" stroke="#dd0a0a" stroke-width="2"/>
<rect x="1036.0" y="164.5" width="26" height="90.5" fill="#fff" fill-opacity="0.5" stroke="#dd0a0a" stroke-width="2"/>
<line x1="1036.0" x2="1062.0" y1="210" y2="210" stroke="#dd0a0a" stroke-width="2.8"/>
<path d="M1091 228l-8 75l9 3l-16 3l2 3l-2 0l16 1l-12 1l7 2l1 2l-2 1l-7 1l9 0l-13 0l1 5l8 1l2 1l-13 0l3 8l-3 1l1 2l6 3l13 3l-18 1l18 0l-3 5l-3 2l-15 0l17 0l-14 3l11 3l-3 0l6 1l-8 1l10 2l-12 4l-3 0l2 1l-4 1l-1 0l2 1l13 1l-10 0l1 1l6 1l-12 2l13 1l-14 0l1 0l13 4l6 1l-11 1l9 1l-12 0l9 1l0 0l-12 2l5 2l11 1l-3 1l-16 1l17 0l-1 1l-8 2l-5 1l11 0l-13 0l3 1l1 3l1 0l11 1l-6 0l-8 0l12 1l-13 1l17 0l-15 2l2 1l7 2l0 0l5 0l-11 1l12 1l-8 0l4 0l-4 1l-3 0l5 1l6 1l0 1l-15 1l9 1l-2 3l0 0l10 1l-19 1l9 0l5 1l1 0l-14 1l6 0l5 1l1 1l-10 0l9 1l1 0l1 1l-10 0l5 2l0 0l0 0l-2 2l3 1l0 1l5 0l-17 1l18 0l-9 0l10 2l-19 1l8 0l7 0l-8 1l1 0l4 1l4 2l-7 0l1 0l9 0l-18 0l15 1l-12 0l6 0l10 0l-6 1l1 1l1 1l-14 0l6 0l-8 0l16 1l-8 1l12 2l-1 0l-12 1l-1 0l-2 2l0 1l15 0l-18 0l7 1l-1 1l6 0l-6 1l10 0l-1 0l-3 1l-11 0l15 0l-14 1l4 1l12 0l-13 1l10 0l-6 2l8 0l-18 1l2 0l-1 1l3 0l9 1l2 1l0 0l-1 0l0 0l-2 1l-3 0l3 1l-11 0l13 0l5 0l-8 0l2 0l1 0l3 1l-11 0l-2 1l16 0l-10 1l6 0l1 1l0 0l-17 0l0 0l1 1l8 0l10 2l-13 1l14 0l-13 0l11 0l-6 0l-11 0l7 0l3 0l-1 1l-8 0l0 0l0 0l7 0l-6 1l0 0l7 0l11 0l-10 0l10 1l-6 0l6 0l-2 1l-1 0l1 0l1 0l-5 0l-3 0l5 0l3 1l-19 0l-1 0l16 1l-1 0l-5 1l10 0l-11 0l2 0l8 1l-17 0l18 0l-19 1l0 0l4 1l9 0l-3 1l-4 0l4 1l1 0l-5 0l0 0l-7 0l7 1l-1 0l0 0l2 1l-2 0l6 0l-7 0l-3 0l7 1l-3 0l5 0l3 1l-7 1l-5 0l8 0l7 0l-10 0l11 1l-14 0l6 1l0 0l-5 0l1 2l4 0l2 1l8 0l-12 1l-7 0l8 0l-4 1l-5 0l13 0l-1 0l-5 0l0 0l-5 2l4 0l-4 1l14 0l2 0l-8 0l-6 1l9 0l3 1l-13 0l7 1l0 0l7 0l-4 1l3 0l1 0l-10 0l9 0l-5 0l-11 1l13 0l-1 1l0 0l-5 0l1 0l-6 0l3 0l14 0l-19 2l9 0l-6 0l5 0l-5 1l12 0l-10 1l11 0l-10 0l1 0l2 0l-1 0l-3 0l-2 2l6 0l6 1l6 1l-18 0l3 0l-5 0l5 1l12 1l-17 2l16 1l-11 1l4 1l6 1l-15 1l19 2l-13 1l12 0l-17 0l11 0l-5 2l5 1l2 3l-3 0l-4 1l11 1l-19 0l14 2l-1 1l3 0l-3 0l4 2l-17 0l16 0l2 0l-6 1l-1 1l-4 0l8 0l0 1l1 0l-8 3l0 1l8 5l2 0l1 2l-3 0l4 0l-16 1l12 1" fill="none" stroke="none" marker-start="url(#mr)" marker-mid="url(#mr)" marker-end="url(#mr)"/>
<path d="M1082.4 303V418M1082.4 502V556" stroke="#dd0a0a" stroke-width="2"/>
<rect x="1069.4" y="418" width="26" height="84.0" fill="#fff" fill-opacity="0.5" stroke="#dd0a0a" stroke-width="2"/>
<line x1="1069.4" x2="1095.4" y1="473" y2="473" stroke="#dd0a0a" stroke-width="2.8"/>
<path d="M1121 387l-13 19l12 18l-3 1l4 10l-6 1l-8 0l11 1l5 3l-8 5l10 6l-12 1l-3 3l13 1l-16 0l12 1l-6 6l5 4l2 0l0 2l-8 8l12 1l-14 3l-4 2l8 1l4 6l6 3l-3 0l4 2l-12 2l-7 1l1 1l2 3l15 0l1 3l-11 0l3 4l0 3l8 6l0 3l-11 0l8 1l-12 1l5 4l-1 4l7 1l-4 3l-5 0l13 1l-18 2l5 2l1 11" fill="none" stroke="none" marker-start="url(#mb)" marker-mid="url(#mb)" marker-end="url(#mb)"/>
<path d="M1115.8 386.8V459.6M1115.8 510V551" stroke="#0a0ad0" stroke-width="2"/>
<rect x="1102.8" y="459.6" width="26" height="50.4" fill="#fff" fill-opacity="0.5" stroke="#0a0ad0" stroke-width="2"/>
<line x1="1102.8" x2="1128.8" y1="492.5" y2="492.5" stroke="#0a0ad0" stroke-width="2.8"/>
<path d="M1146 86l7 12l-3 6l-5 1l15 3l-12 1l-3 11l8 2l-2 0l8 1l-7 1l1 1l-6 0l-3 1l3 1l1 1l6 2l3 1l-2 1l2 0l-15 1l18 1l0 2l-20 1l12 1l-2 1l-3 2l12 0l-4 1l0 1l-8 0l-1 4l9 1l-15 2l14 2l-2 2l-2 0l1 1l-11 1l7 0l6 1l-8 2l8 1l-3 2l-9 1l1 0l4 0l-2 1l-4 0l7 1l-1 0l7 1l-11 1l2 1l13 0l-14 0l-4 1l20 0l-16 0l-3 2l2 0l12 0l-4 0l3 0l2 0l-2 1l-6 0l10 0l1 0l-3 1l-7 0l11 1l-16 0l11 0l-12 0l4 0l-4 0l10 1l1 0l-9 1l7 0l-6 1l-5 0l2 0l1 1l7 0l1 1l-10 1l11 0l-13 1l15 1l1 0l-8 0l-7 0l19 0l-3 0l-12 0l3 1l0 0l4 1l-1 0l1 1l6 0l1 0l-10 0l8 1l-11 0l4 0l6 1l0 1l-12 1l13 0l-13 0l5 1l-7 0l4 1l-5 0l-1 0l13 1l1 0l-10 0l-4 0l14 1l-7 0l-3 1l5 0l2 0l10 1l-5 0l2 1l-13 1l6 0l-1 0l-7 0l14 1l1 1l-16 0l15 0l-15 1l18 0l-10 0l8 1l-10 0l11 0l-15 0l5 0l5 1l2 1l-15 0l10 1l10 0l-20 1l2 1l15 0l-2 0l-16 0l0 1l12 1l-2 0l-3 0l0 0l6 1l-12 0l12 0l-12 1l1 0l16 0l-9 1l5 0l2 0l-14 1l6 0l5 0l-10 0l6 1l-1 0l0 0l0 1l7 0l-5 0l-8 0l9 0l9 1l-8 0l6 1l-9 1l-6 0l5 1l1 0l4 0l7 0l-14 0l1 0l2 1l10 0l-12 0l0 0l2 1l11 0l-14 1l-2 0l4 1l3 0l8 0l-18 0l10 0l-3 0l-1 1l-2 0l8 0l6 0l-19 1l5 0l-4 0l5 0l1 0l10 0l-5 1l-2 0l7 0l-6 0l1 1l3 0l-5 0l1 0l10 1l-12 0l-3 0l1 1l12 0l-1 0l-12 2l13 1l-1 0l-18 0l8 1l-7 0l6 0l0 0l3 1l-6 0l16 0l-8 0l-11 0l16 1l-17 1l3 0l7 0l7 0l-1 0l-9 0l-4 1l-3 0l16 0l-2 0l-2 0l1 1l-12 0l17 0l-3 1l1 0l1 0l-15 0l4 1l9 0l-1 0l-7 0l7 0l-5 0l7 1l0 0l-10 1l-3 0l11 0l-8 0l2 1l-8 0l5 0l12 1l-5 0l7 0l-11 1l-6 0l1 0l3 1l14 0l-17 1l14 0l-5 0l-1 0l5 0l-2 1l-11 0l7 0l1 0l1 0l5 0l-2 0l-8 1l11 0l-11 0l8 0l2 0l-7 0l7 1l0 0l0 0l-2 0l-10 0l1 0l7 1l-12 0l4 1l7 0l9 0l-16 0l-2 1l15 0l-6 0l-5 0l7 0l-1 1l6 0l-18 0l10 0l8 0l-3 0l-15 1l10 0l4 1l-1 0l-8 0l-1 0l-1 0l2 0l-1 0l1 0l8 1l-7 0l7 0l-12 0l13 0l-6 0l-2 1l11 0l-13 0l14 1l-15 0l11 0l-9 0l14 0l-17 0l1 0l4 1l5 0l-10 0l6 0l9 1l2 0l-14 1l11 1l-14 0l12 0l-5 0l-7 1l3 0l-4 1l15 0l-7 0l9 1l1 1l-16 0l9 0l-10 0l18 0l-14 1l2 0l1 0l7 2l-7 1l5 1l-12 0l-2 1l7 0l10 0l-14 0l-2 0l17 1l-2 0l-12 0l2 0l-6 1l5 0l12 0l-16 1l7 0l4 0l-11 0l11 0l7 0l-9 0l0 0l6 1l-8 0l-2 1l-3 0l7 1l-5 0l12 0l-8 0l6 1l-5 0l6 0l2 0l-19 1l7 0l-7 0l17 1l-14 0l16 1l1 0l-8 0l-5 1l7 0l5 0l-16 1l4 2l5 0l-7 0l9 0l-12 1l6 1l8 0l-1 0l-14 1l11 0l5 0l0 0l-3 1l-10 1l10 0l-14 0l10 0l7 1l-8 1l10 0l-4 0l-4 1l-9 0l6 1l-4 0l16 1l-10 2l5 0l-2 0l-9 0l9 1l-7 0l8 1l2 0l-8 1l0 2l-7 0l3 1l-2 1l16 0l-14 0l-1 1l-3 0l12 1l3 0l-8 1l12 1l-15 0l7 0l-1 0l-9 1l17 1l2 0l0 0l-3 1l3 0l-12 1l9 1l-1 0l-15 1l12 0l-5 1l2 0l-2 2l4 0l-5 0l7 1l7 0l-6 1l-7 0l1 1l5 2l6 0l-15 0l-4 3l-1 1l8 2l2 2l4 1l-11 3l11 3l-14 0l5 1l0 0l-2 6l-1 1l10 6l8 1l-9 0l-3 3l-8 0l14 20" fill="none" stroke="none" marker-start="url(#mr)" marker-mid="url(#mr)" marker-end="url(#mr)"/>
<path d="M1149.2 98V199M1149.2 269.5V376" stroke="#dd0a0a" stroke-width="2"/>
<rect x="1136.2" y="199" width="26" height="70.5" fill="#fff" fill-opacity="0.5" stroke="#dd0a0a" stroke-width="2"/>
<line x1="1136.2" x2="1162.2" y1="235" y2="235" stroke="#dd0a0a" stroke-width="2.8"/>
<path d="M1179 231l-3 16l7 1l-5 12l7 4l-8 4l-3 3l8 2l-1 1l-8 0l3 7l-3 2l5 1l8 5l-10 3l5 4l-2 1l0 0l14 0l-4 1l0 2l1 5l-10 3l10 3l-14 1l-1 1l1 2l13 0l-14 1l16 1l-18 1l11 3l-1 1l6 2l-7 1l9 0l-7 2l-7 0l8 2l-6 0l-2 0l4 0l-1 1l-2 1l-2 5l5 2l12 4l-19 0l4 8l-1 2l3 2l5 2l-1 1l-10 2l1 2l17 4l-15 6l5 3l6 1l-6 3l5 4" fill="none" stroke="none" marker-start="url(#mb)" marker-mid="url(#mb)" marker-end="url(#mb)"/>
<path d="M1182.6 231V293M1182.6 338V381.5" stroke="#0a0ad0" stroke-width="2"/>
<rect x="1169.6" y="293" width="26" height="45.0" fill="#fff" fill-opacity="0.5" stroke="#0a0ad0" stroke-width="2"/>
<line x1="1169.6" x2="1195.6" y1="321" y2="321" stroke="#0a0ad0" stroke-width="2.8"/>
<path d="M1211 33l3 37l6 3l-9 6l0 8l0 6l7 3l-3 9l2 1l-11 1l17 1l-16 0l-1 1l0 0l1 1l5 1l5 0l3 1l-8 0l13 0l-8 1l-3 0l10 1l-7 0l8 1l-6 0l1 1l-3 0l-8 1l12 1l-12 0l5 1l3 1l0 0l2 1l-12 1l2 0l10 0l0 0l-4 1l6 0l-1 0l6 1l-8 0l7 3l-5 1l-8 1l-6 0l17 1l-7 1l0 0l-1 1l3 0l-5 0l11 0l-7 1l-7 0l4 0l-8 1l7 2l10 1l-8 0l2 0l-9 0l-1 1l17 0l2 0l-12 1l-1 0l7 1l-14 0l7 1l11 0l-10 0l4 1l7 0l-7 1l-1 0l-1 0l9 1l-9 1l-3 1l12 0l-12 0l5 1l5 1l-13 0l5 0l-9 0l13 1l-9 2l10 0l5 0l-1 0l-5 0l-4 1l-2 0l7 1l-2 0l-10 0l16 1l-6 0l-1 0l2 1l-4 0l0 1l-3 0l12 0l-15 0l6 0l0 2l-6 0l11 0l3 0l-5 1l-3 0l-8 0l8 0l3 1l-8 0l8 0l-5 1l-6 0l12 0l1 0l-1 0l-9 0l2 1l-3 0l6 0l1 1l6 0l-2 1l-7 0l6 0l-1 0l-7 0l10 0l-3 1l3 0l-3 0l1 0l-12 0l19 0l-13 0l-3 0l10 0l5 1l1 0l-13 0l11 0l3 0l-12 1l-6 0l5 0l-3 0l13 0l1 1l-2 0l-7 1l-6 0l5 0l1 0l-2 1l11 0l-18 0l9 1l10 0l-12 0l7 0l-1 0l4 0l-16 1l-1 0l17 0l-16 1l7 0l-7 0l6 0l-3 0l15 0l-15 1l4 1l3 0l8 0l-15 0l-4 0l18 0l-4 1l5 0l-6 0l-3 0l-11 1l17 0l-15 0l9 0l-9 1l9 0l-8 0l3 1l6 0l5 0l-15 0l-2 0l11 1l0 0l7 0l-2 2l-1 0l-13 0l13 0l-5 0l-6 1l13 0l-6 1l0 0l-3 0l4 1l0 0l-12 0l16 0l-13 0l12 1l-14 0l9 0l8 0l-5 0l0 0l-1 0l-12 0l17 0l2 0l-11 1l5 0l-8 0l5 0l6 0l3 0l-17 1l15 0l-4 0l-6 0l5 0l1 0l6 0l-12 0l11 1l-4 0l-8 1l-6 0l2 0l0 0l14 1l-2 0l-2 0l-4 0l2 0l6 0l-8 1l7 0l-13 0l-2 0l4 0l13 0l1 0l-15 0l0 1l10 0l-7 1l-3 0l17 0l-16 0l1 0l11 0l-3 1l-12 0l13 0l-14 1l5 0l9 0l-1 0l-10 1l15 0l1 0l-5 0l-13 0l4 0l13 1l-11 0l-2 0l7 1l2 0l3 1l3 2l-16 0l5 0l4 0l-10 0l4 0l13 0l-1 1l-3 0l3 0l-15 0l5 1l-5 1l9 0l-3 0l3 1l3 0l-7 0l10 1l-14 0l10 0l-8 1l-7 1l13 0l0 0l-11 0l8 0l-3 1l4 1l-1 0l-5 0l5 0l-8 1l10 0l-3 0l-8 0l11 1l5 0l-13 0l-4 0l3 0l11 1l-13 0l17 0l-1 0l2 1l0 0l-1 1l-10 0l-1 0l5 0l-4 0l0 0l2 0l-1 1l8 0l-3 0l5 1l-7 1l-9 0l-2 0l3 0l9 1l4 0l-1 1l0 0l1 0l-11 0l0 1l0 0l11 1l-1 0l-11 0l-2 0l11 1l5 0l-6 0l4 0l-9 0l9 0l-12 1l10 0l-1 0l0 1l-13 0l7 0l-1 0l10 1l-4 0l6 0l-9 0l-3 1l6 0l-8 0l3 0l-2 0l2 0l6 1l-9 0l4 0l6 1l-9 0l-5 1l12 0l-13 0l11 0l-11 0l19 1l-3 0l-13 0l14 1l-4 0l-7 0l-1 0l-3 0l1 1l5 0l11 1l-15 1l1 0l10 0l-10 0l-5 0l20 1l-11 0l2 0l0 1l-8 0l6 0l0 1l-8 0l16 2l-16 1l0 0l13 0l-5 0l-9 1l15 0l-13 1l12 0l-14 0l6 0l-2 0l15 1l-13 0l11 0l-3 1l-14 0l8 1l9 0l-16 1l6 0l9 1l-5 0l-5 0l3 1l2 0l-6 1l7 0l8 1l-10 0l-9 1l19 0l-13 1l-6 0l5 2l4 0l7 1l1 1l-16 0l-2 0l1 1l4 0l11 0l-14 1l2 1l-4 1l0 0l7 1l7 2l-7 2l5 1l-2 0l-3 1l-4 0l0 0l4 0l-5 1l5 0l2 0l3 2l-8 2l13 1l-6 5l-11 1l4 2l2 0l1 3l8 1l-3 0l7 1l-7 0l-10 1l5 1l13 1l-11 1l8 1l-9 24" fill="none" stroke="none" marker-start="url(#mr)" marker-mid="url(#mr)" marker-end="url(#mr)"/>
<path d="M1216.1 70V158M1216.1 221V317" stroke="#dd0a0a" stroke-width="2"/>
<rect x="1203.1" y="158" width="26" height="63.0" fill="#fff" fill-opacity="0.5" stroke="#dd0a0a" stroke-width="2"/>
<line x1="1203.1" x2="1229.1" y1="191" y2="191" stroke="#dd0a0a" stroke-width="2.8"/>
<path d="M1252 233l7 23l-1 4l-1 1l-18 3l2 5l16 2l2 0l-15 2l1 1l10 1l4 0l-16 1l16 2l-9 3l-10 1l3 2l11 2l-8 0l7 0l-11 2l16 6l1 1l-8 5l4 4l-5 1l6 2l0 0l-15 1l18 1l-4 1l2 2l-11 4l10 2l-2 0l-10 0l9 1l6 0l-17 1l17 1l-3 1l-11 1l-2 0l-1 1l13 0l-8 1l11 1l-16 4l1 4l-3 6l8 3l5 1l1 7l0 8" fill="none" stroke="none" marker-start="url(#mb)" marker-mid="url(#mb)" marker-end="url(#mb)"/>
<path d="M1249.5 233V283.5M1249.5 324V359" stroke="#0a0ad0" stroke-width="2"/>
<rect x="1236.5" y="283.5" width="26" height="40.5" fill="#fff" fill-opacity="0.5" stroke="#0a0ad0" stroke-width="2"/>
<line x1="1236.5" x2="1262.5" y1="309" y2="309" stroke="#0a0ad0" stroke-width="2.8"/>
<path d="M1280 178l0 2l9 4l-10 6l-6 6l13 15l-9 8l-4 0l10 3l-5 1l1 6l-3 2l17 1l-19 1l16 0l-13 2l2 2l10 2l1 1l-9 2l11 2l-19 1l12 9l-10 0l3 1l8 0l7 2l-7 2l-4 5l-6 2l3 2l13 1l-4 6l-3 0l3 2l-7 1l-2 3l-5 0l2 0l-2 1l5 1l6 3l0 1l3 3l-10 0l5 1l-5 2l9 1l4 1l-13 3l13 6l2 3l-5 2l5 4l-6 5l6 0l-11 7l-2 5l-1 0l-1 1l13 0l-15 4l14 3l-15 3l12 2l6 2l0 7l-17 0l0 1l5 3l-7 4l6 6l0 1l10 1l0 2l-16 5l8 2l10 6l-3 2l-6 3l-8 8l6 2l7 0l-14 4l12 17l-11 2l6 14l12 3l-13 22" fill="none" stroke="none" marker-start="url(#mr)" marker-mid="url(#mr)" marker-end="url(#mr)"/>
<path d="M1282.9 178V262M1282.9 351V460" stroke="#dd0a0a" stroke-width="2"/>
<rect x="1269.9" y="262" width="26" height="89.0" fill="#fff" fill-opacity="0.5" stroke="#dd0a0a" stroke-width="2"/>
<line x1="1269.9" x2="1295.9" y1="299" y2="299" stroke="#dd0a0a" stroke-width="2.8"/>
<path d="M1313 52l-4 20l10 30l8 10l-2 1l-15 2l15 2l-4 5l-14 4l12 1l-4 1l-4 0l-4 1l18 0l-2 0l-1 4l-15 0l4 2l12 0l-7 0l0 0l-9 1l6 0l2 0l6 0l1 1l-16 0l5 1l11 1l-7 5l7 0l1 1l-15 1l13 0l-2 1l-4 0l-1 0l2 1l5 0l-13 0l0 0l14 1l-10 1l0 0l4 1l-10 1l17 0l-5 2l-1 0l-9 0l18 1l-20 0l16 1l-11 0l9 1l-14 0l15 2l-14 0l0 1l18 0l-2 0l-7 1l-7 0l-3 0l8 0l8 1l-13 1l11 0l-4 0l7 0l0 0l-10 0l5 1l2 0l-1 1l-13 0l21 1l-2 0l-1 1l-4 1l-6 0l1 1l-9 0l21 0l-20 0l15 0l1 0l3 1l-6 0l-12 0l12 0l-4 0l2 1l6 0l0 1l3 0l-4 0l-15 0l11 1l-10 1l-2 0l2 1l10 0l-3 0l-2 1l10 0l-5 0l3 0l0 1l2 0l-4 1l-5 0l-1 0l8 0l-1 1l-12 0l10 0l-8 1l8 0l7 0l-10 0l-7 1l15 0l-17 0l8 1l1 0l-7 1l17 0l-1 0l-10 1l9 0l-9 0l-6 1l4 1l-3 0l0 1l8 1l-5 0l-5 0l-2 0l1 2l17 0l0 0l3 0l-18 1l6 1l1 1l-7 0l18 0l-15 1l11 0l-12 0l-4 0l0 1l4 0l2 0l-7 0l20 0l-2 0l-4 1l-9 0l-1 1l3 0l2 0l-3 0l-5 1l13 0l-5 1l9 0l-8 0l1 0l-6 1l8 0l0 0l-4 1l5 0l1 1l-4 0l-2 1l4 0l2 0l0 0l-8 0l0 0l2 1l-3 0l-1 0l6 0l-6 0l7 0l-4 0l-3 1l2 0l7 0l-1 0l-12 1l0 1l18 0l-6 0l2 1l3 0l-14 0l13 0l-13 0l-2 0l7 0l-7 0l4 0l8 0l-5 0l-6 1l1 0l1 0l6 1l8 0l-4 0l1 1l-9 0l10 0l3 0l0 1l0 0l-8 1l-2 0l1 0l-2 0l-8 0l9 1l6 0l3 0l-13 0l14 1l-7 0l-10 0l5 0l-5 0l8 1l-4 0l9 0l-10 1l1 0l12 0l-1 0l-13 0l-3 0l17 1l-8 0l3 0l0 0l5 0l-1 1l-10 0l2 0l8 0l-12 0l9 1l-5 0l-7 0l13 0l-4 0l5 1l-15 1l18 1l-9 0l5 0l3 0l-15 0l12 0l-2 0l-9 0l6 1l0 0l3 1l-6 0l4 0l2 0l0 0l-13 1l11 0l7 0l-17 0l3 0l1 0l9 0l-14 1l14 0l5 0l-10 0l6 0l2 0l-15 1l12 0l-15 0l6 0l14 0l-19 1l4 0l11 0l-6 0l4 1l-13 0l12 1l-2 0l-8 0l1 0l-1 1l10 0l5 0l-13 1l-5 0l4 0l17 0l-15 1l12 0l-18 0l2 0l17 1l-8 0l1 0l4 0l-6 1l-6 0l-2 0l19 1l-21 0l13 0l4 1l-14 0l13 0l-8 0l1 1l-2 0l5 0l0 0l1 1l-11 0l14 0l-15 0l19 0l-5 0l1 1l-10 0l-3 0l16 0l-13 0l-5 0l16 0l1 2l-2 0l-7 1l-3 0l5 1l0 0l5 1l-1 0l-5 1l0 0l-9 0l-1 1l14 0l-13 1l0 0l11 2l6 0l-15 0l8 0l-3 1l-2 0l7 2l-2 0l-1 0l-10 2l1 0l18 1l-12 0l10 0l-11 0l9 1l-14 0l10 1l-3 0l0 0l2 1l-8 0l13 0l3 1l-10 0l9 1l1 0l-10 0l2 1l7 0l-2 2l-14 0l10 0l4 1l1 1l-9 1l2 2l11 0l-6 0l5 1l-11 0l4 0l4 0l-12 1l5 0l8 0l-6 1l1 2l1 0l4 1l-4 1l-2 3l-11 0l14 0l-3 0l-7 1l0 0l14 1l-11 1l-2 6l2 1l-3 9l-2 0l8 8l0 2l10 1l-15 2l-2 2l8 6l-8 26" fill="none" stroke="none" marker-start="url(#mr)" marker-mid="url(#mr)" marker-end="url(#mr)"/>
<path d="M1316.3 101.5V175M1316.3 236V320" stroke="#dd0a0a" stroke-width="2"/>
<rect x="1303.3" y="175" width="26" height="61.0" fill="#fff" fill-opacity="0.5" stroke="#dd0a0a" stroke-width="2"/>
<line x1="1303.3" x2="1329.3" y1="205" y2="205" stroke="#dd0a0a" stroke-width="2.8"/>
<path d="M1352 187l-11 8l9 17l-3 4l10 3l3 1l-6 1l-6 1l3 1l1 2l5 0l-8 1l11 0l-9 1l7 0l-5 1l-7 1l9 2l0 1l-15 0l14 1l-4 0l-1 2l9 1l-16 1l4 2l12 1l-8 3l7 0l-9 0l0 1l7 1l-5 0l4 0l-1 0l3 1l-14 0l5 1l12 1l-16 0l12 1l-6 1l0 1l10 0l-4 0l-16 1l18 1l-1 0l2 0l-1 1l-8 0l1 1l3 0l-5 0l0 0l11 1l-6 3l5 0l-13 1l1 0l-1 1l-5 0l4 0l6 0l2 1l-7 2l-3 0l16 1l-15 0l4 1l8 1l-13 0l8 0l0 0l-10 1l9 0l2 0l9 1l-2 0l-3 0l-4 3l5 0l-16 0l19 1l-1 0l-7 0l-1 2l4 0l-11 0l8 0l3 0l-4 1l9 0l-12 0l-3 1l8 2l-4 0l5 1l-10 0l3 0l13 0l-11 0l11 0l-3 1l1 0l-10 0l0 1l0 1l-6 0l16 0l-1 0l-15 0l2 0l7 1l-9 0l8 1l-8 0l0 0l7 1l10 0l-9 0l6 0l-7 1l11 0l-19 0l9 1l-6 0l4 1l8 1l-11 0l10 0l3 0l-13 1l14 1l0 0l-16 1l12 0l-3 2l6 1l1 0l-11 0l1 1l6 0l-13 0l-1 1l1 1l0 1l3 0l0 0l8 1l-8 1l14 2l-6 0l5 1l-11 0l-5 1l9 1l9 4l-5 0l-14 0l4 1l11 4l3 3l1 0l-17 1l10 1l-11 2l16 0l-18 0l3 2l-1 0l19 3l-15 0l4 3l-1 2l4 0l-6 1l13 0l-6 3l0 0l-4 20l7 61" fill="none" stroke="none" marker-start="url(#mr)" marker-mid="url(#mr)" marker-end="url(#mr)"/>
<path d="M1349.7 187V251M1349.7 297.5V357" stroke="#dd0a0a" stroke-width="2"/>
<rect x="1336.7" y="251" width="26" height="46.5" fill="#fff" fill-opacity="0.5" stroke="#dd0a0a" stroke-width="2"/>
<line x1="1336.7" x2="1362.7" y1="276.5" y2="276.5" stroke="#dd0a0a" stroke-width="2.8"/>
<path d="M1378 177l2 26l10 5l-13 0l0 6l0 1l12 1l-9 1l5 3l-2 1l-7 0l4 3l0 1l11 2l-12 1l13 4l-9 5l7 0l3 2l-5 0l1 2l-4 1l0 1l4 1l-10 3l-2 0l4 2l-4 1l14 1l-16 0l10 1l-6 0l7 2l-11 0l14 1l-2 0l-2 0l-9 1l2 1l4 1l3 1l-2 1l0 3l0 1l-1 1l7 1l-13 0l9 1l-8 0l6 1l8 1l-2 1l-1 2l-5 1l7 3l-17 0l17 0l0 1l-12 0l-1 2l0 2l13 0l2 0l-15 1l-2 1l2 0l16 0l-16 1l-1 1l11 1l-2 1l3 0l5 1l-10 1l0 0l-6 0l10 1l2 2l4 0l-3 1l3 0l0 1l-15 1l14 1l-4 2l-1 1l-2 0l-5 0l1 0l12 0l-17 1l-1 0l4 1l-3 0l12 1l-1 0l-10 0l-4 0l2 0l-1 1l1 0l12 0l6 0l-11 0l-6 1l-1 0l8 0l6 1l-3 0l-8 0l9 0l-3 1l-7 1l5 1l3 1l-10 1l-1 0l9 0l4 1l-14 2l4 0l4 1l12 0l-12 0l12 0l-19 1l12 0l3 2l-15 0l2 0l5 0l10 1l-7 0l-2 1l1 0l7 0l-4 0l-9 1l4 1l9 1l-12 0l12 0l-5 0l-1 1l-1 0l-8 1l-1 1l15 2l2 2l-10 0l0 1l11 0l-13 0l-6 1l0 0l13 3l-4 1l11 0l-6 2l-10 1l11 1l-12 0l9 1l-5 0l-4 4l-3 2l16 2l-2 1l-14 3l12 0l2 1l-7 3l4 5l-2 1l2 9l9 0l-6 7l-13 1l19 1l-5 1l2 0l-4 2l-10 5l6 2l3 84" fill="none" stroke="none" marker-start="url(#mr)" marker-mid="url(#mr)" marker-end="url(#mr)"/>
<path d="M1383.2 177V269M1383.2 330V390" stroke="#dd0a0a" stroke-width="2"/>
<rect x="1370.2" y="269" width="26" height="61.0" fill="#fff" fill-opacity="0.5" stroke="#dd0a0a" stroke-width="2"/>
<line x1="1370.2" x2="1396.2" y1="301" y2="301" stroke="#dd0a0a" stroke-width="2.8"/>
<path d="M1420 184l0 5l-11 1l10 4l-4 4l7 1l-12 3l11 1l6 1l-9 2l2 0l-13 1l10 2l-10 0l7 1l-2 2l15 1l-15 0l11 0l-3 0l-5 3l11 0l-15 1l11 0l1 0l0 1l4 0l-15 1l6 0l5 0l-17 1l3 0l14 0l-4 0l7 1l-19 0l5 0l7 0l-10 0l11 0l-10 0l16 1l-10 0l-7 1l-2 1l2 1l9 0l-6 0l-1 0l4 0l-7 1l0 0l10 0l-12 0l1 0l15 0l-5 1l5 0l-14 0l0 0l11 0l7 1l-6 1l-4 0l-9 0l10 0l10 0l-7 0l-6 1l-1 0l13 0l-19 0l6 0l3 1l-5 1l14 0l-6 0l4 1l-9 0l5 0l-5 0l7 1l6 0l-7 0l5 0l-7 0l-7 0l9 1l7 0l-9 0l-2 1l-9 0l12 0l-4 0l0 0l-1 0l0 0l7 1l-13 0l-1 0l6 0l-6 0l20 0l-17 0l-1 0l18 1l-4 0l-8 0l6 0l-4 0l-3 1l7 0l3 0l-4 0l7 0l-8 0l2 1l-5 1l1 0l-10 0l16 0l-1 0l5 0l-10 2l7 0l-2 0l-8 1l-1 0l10 0l-10 0l-3 0l14 0l-9 0l-4 0l-3 0l12 1l-8 0l1 0l11 0l-10 0l12 0l-16 1l14 0l-17 0l2 1l16 0l-16 0l17 0l-12 0l6 0l-12 1l6 0l-4 0l15 0l-9 0l5 1l-5 0l4 0l-13 0l5 0l10 0l2 1l-9 0l5 0l4 0l-12 0l13 0l-16 0l18 1l-5 0l-9 0l14 0l-14 0l-3 0l12 0l-8 0l3 1l-2 0l6 0l3 0l-18 1l19 0l-9 0l4 0l4 0l0 0l-16 0l5 0l-6 1l16 0l-3 0l-2 1l-1 0l-9 0l13 1l-1 0l-13 0l9 0l6 0l-6 0l0 0l-5 0l5 0l6 1l4 0l-12 0l1 0l-8 0l11 0l-3 0l8 0l4 1l-2 0l-2 0l2 0l-14 0l5 0l-1 1l-8 0l13 0l-8 0l-4 0l4 0l5 0l8 0l-11 0l4 1l-10 0l7 0l-4 0l12 0l1 0l-16 0l-1 0l5 1l3 0l11 0l-15 0l-5 0l14 1l-2 0l-9 0l17 0l-14 1l6 0l0 0l3 0l-9 1l9 0l-12 0l-1 0l3 0l4 0l2 1l1 0l-8 0l11 0l-5 0l10 0l-4 1l3 0l0 0l-9 0l1 0l3 0l4 0l-13 1l6 0l2 0l-2 0l-3 1l-8 0l2 0l6 1l10 0l-12 0l3 0l-5 0l14 0l-9 0l4 1l-8 0l13 0l0 0l-10 1l-1 0l4 0l1 0l7 0l-11 0l13 1l-9 0l-10 0l11 1l0 0l-1 0l-9 0l16 0l0 0l2 0l-15 0l12 0l-17 1l0 0l14 0l-8 0l9 0l-13 1l4 0l0 1l-4 0l-1 0l9 0l4 0l-4 0l-1 0l2 0l-11 1l10 0l-1 1l-8 0l14 0l1 0l-9 0l5 0l-3 0l7 0l-9 0l-4 1l10 0l-3 0l-9 0l10 0l1 1l-11 0l16 1l-11 0l6 0l0 0l6 1l-6 0l-9 0l8 0l-2 0l-8 0l9 1l-6 0l12 0l-1 0l-6 0l8 0l-1 0l-13 0l6 1l-2 0l-5 0l1 1l8 0l-3 0l2 0l5 0l-6 0l-5 1l14 0l-6 1l5 0l-1 0l-10 0l12 1l1 0l-10 0l0 1l-6 1l-2 0l9 0l7 0l-12 1l-4 0l10 0l-1 0l-8 0l3 1l14 0l-19 0l16 0l-13 0l-2 1l-1 0l1 0l0 1l3 0l-1 0l1 0l4 0l8 1l1 0l-16 0l2 0l7 0l-7 2l0 0l0 0l16 0l-14 1l5 0l3 0l7 1l-15 1l-4 0l13 0l-6 0l12 0l-7 1l4 0l-16 0l4 0l14 0l-17 0l9 1l-9 0l14 1l-16 0l19 0l-15 0l1 0l9 1l-15 0l5 1l-1 0l6 0l-2 1l6 0l-10 1l14 1l-9 0l-2 0l11 0l-14 0l1 1l6 1l-1 0l11 1l-5 0l-8 1l-3 0l1 0l7 1l7 1l-10 2l9 1l-18 0l14 1l3 1l-1 0l-12 1l10 1l-14 1l5 0l4 1l-1 0l-6 0l7 1l-1 0l11 1l-10 0l-9 1l2 0l9 0l5 1l-16 0l17 0l-13 1l-5 1l17 1l-11 1l-4 1l16 1l-14 0l6 1l5 0l-13 1l-2 0l17 2l-1 1l5 0l-2 2l-10 1l4 1l-7 2l3 0l-3 2l-4 1l9 1l0 1l5 4l-5 5l-4 1l-5 1l12 6l3 26l-13 12" fill="none" stroke="none" marker-start="url(#mr)" marker-mid="url(#mr)" marker-end="url(#mr)"/>
<path d="M1416.6 184V246M1416.6 294V366" stroke="#dd0a0a" stroke-width="2"/>
<rect x="1403.6" y="246" width="26" height="48.0" fill="#fff" fill-opacity="0.5" stroke="#dd0a0a" stroke-width="2"/>
<line x1="1403.6" x2="1429.6" y1="266" y2="266" stroke="#dd0a0a" stroke-width="2.8"/>
<path d="M1453 256l-13 14l18 3l-15 3l16 4l-8 0l-9 1l7 3l-6 0l11 1l-5 1l-6 3l13 1l-5 2l8 0l-19 1l18 1l-2 0l-7 0l-7 2l18 0l-18 0l14 1l-16 1l14 0l-8 1l9 0l-14 1l17 1l-15 1l-2 0l7 3l-1 1l1 1l0 0l-1 1l1 3l-7 0l18 2l-11 2l7 1l-8 2l-5 1l18 1l-20 2l1 2l11 1l3 2l5 2l-14 8l2 7l4 13l-9 0l1 12l1 11" fill="none" stroke="none" marker-start="url(#mb)" marker-mid="url(#mb)" marker-end="url(#mb)"/>
<path d="M1450.0 255.5V291.6M1450.0 323.8V369" stroke="#0a0ad0" stroke-width="2"/>
<rect x="1437.0" y="291.6" width="26" height="32.2" fill="#fff" fill-opacity="0.5" stroke="#0a0ad0" stroke-width="2"/>
<line x1="1437.0" x2="1463.0" y1="302.8" y2="302.8" stroke="#0a0ad0" stroke-width="2.8"/>
<path d="M1482 119l4 26l-5 11l6 0l1 1l-10 4l11 2l-7 2l4 1l-6 2l-3 9l-2 1l6 0l6 3l-10 0l16 1l-16 0l8 0l8 1l-4 2l0 0l2 1l1 3l-15 4l13 0l1 2l1 0l-3 0l-13 2l2 1l0 0l12 1l0 1l-7 0l9 1l0 0l-3 1l-12 0l11 3l-2 1l-12 0l15 0l3 1l-3 0l3 1l-17 0l7 4l-7 0l18 1l-15 1l15 0l-4 1l-12 2l10 0l0 1l-13 0l9 1l-6 0l16 1l-2 0l-13 1l4 0l-6 0l16 1l-14 1l12 2l-14 0l12 1l-12 0l1 0l13 1l-4 1l4 0l-4 1l-8 0l8 2l2 0l-9 1l4 0l-2 2l-1 1l7 0l-3 0l-4 0l2 0l4 0l1 1l-12 0l11 0l7 0l-16 1l2 0l8 1l0 2l-9 2l10 1l-13 1l-1 0l13 0l4 1l-6 2l-4 0l8 2l2 1l-15 1l16 1l-7 3l1 1l2 1l4 0l-6 0l5 1l2 0l1 0l-12 0l-1 1l8 1l3 1l2 2l-20 0l1 0l16 2l-3 0l-7 2l-6 0l18 0l-14 2l1 1l14 1l-6 0l2 2l-9 0l3 1l-9 1l15 2l0 1l-3 1l-13 3l17 0l-5 1l5 2l-16 0l3 1l-5 0l18 2l-12 0l12 0l-9 2l-6 0l3 1l10 0l-10 0l1 1l-7 1l17 1l-5 0l0 0l-10 5l9 1l-3 3l0 1l6 5l2 1l3 2l-17 2l10 5l-7 0l-4 6l13 11" fill="none" stroke="none" marker-start="url(#mr)" marker-mid="url(#mr)" marker-end="url(#mr)"/>
<path d="M1483.4 145V206M1483.4 262.5V336" stroke="#dd0a0a" stroke-width="2"/>
<rect x="1470.4" y="206" width="26" height="56.5" fill="#fff" fill-opacity="0.5" stroke="#dd0a0a" stroke-width="2"/>
<line x1="1470.4" x2="1496.4" y1="232.8" y2="232.8" stroke="#dd0a0a" stroke-width="2.8"/>
<path d="M1518 261l9 3l-6 1l-12 4l3 1l4 6l-6 4l-2 4l13 5l-9 10l8 6l-8 12" fill="none" stroke="none" marker-start="url(#mb)" marker-mid="url(#mb)" marker-end="url(#mb)"/>
<path d="M1516.8 260.8V268.8M1516.8 294.7V316.8" stroke="#0a0ad0" stroke-width="2"/>
<rect x="1503.8" y="268.8" width="26" height="25.9" fill="#fff" fill-opacity="0.5" stroke="#0a0ad0" stroke-width="2"/>
<line x1="1503.8" x2="1529.8" y1="276.5" y2="276.5" stroke="#0a0ad0" stroke-width="2.8"/>
<path d="M1552 80l-5 10l5 16l-12 11l5 13l8 1l4 4l-10 1l-1 3l-3 0l7 0l2 1l1 3l1 0l0 2l1 0l2 5l-14 1l0 3l13 0l-3 1l-3 0l-1 1l2 1l-2 1l-2 0l6 0l-5 1l4 2l1 1l1 1l3 0l1 2l-18 2l1 2l19 3l-20 1l15 0l-9 0l1 2l-2 2l0 2l12 1l-12 0l5 0l2 0l-9 2l11 1l-9 2l-5 0l14 1l-13 0l14 1l-7 0l8 0l-1 2l-3 0l-8 0l13 0l-9 1l1 0l-9 0l17 1l-15 0l2 0l9 1l6 1l-12 1l11 0l-10 0l-7 2l16 0l-17 2l5 0l1 1l-3 0l1 1l-3 0l17 0l1 0l-8 1l-3 0l8 1l0 1l-14 1l16 0l-14 1l16 0l-2 0l-8 1l-2 0l5 1l8 0l-2 0l-6 0l3 0l-16 1l9 0l0 0l2 1l-2 0l-4 0l13 0l-12 0l9 2l-4 0l1 0l2 2l-3 1l1 0l-7 1l5 0l-2 0l8 0l-1 0l-3 0l1 1l-4 0l7 1l1 1l-16 0l14 0l6 1l-14 0l7 0l-10 1l14 0l0 2l-5 0l-11 1l7 0l1 1l-4 0l-2 0l-3 1l14 1l1 0l-4 0l2 1l-14 0l3 1l16 1l-13 1l3 2l4 1l-1 0l-5 1l3 1l-2 0l11 1l-10 0l3 1l-2 1l2 0l-8 0l13 1l-10 0l-1 1l11 0l-12 0l-4 2l0 1l0 0l16 0l-8 1l-2 1l10 1l-2 2l5 1l-20 0l21 3l-2 0l-7 2l5 1l-4 0l-2 0l-9 1l5 1l8 0l-12 1l12 0l-3 1l-2 1l4 0l-12 0l9 1l-10 1l5 0l-4 0l13 2l-1 0l-2 0l7 2l-4 1l-1 0l-2 0l-3 0l1 1l-8 0l11 0l-12 2l9 0l10 3l-15 0l15 1l-17 1l18 0l-1 1l-5 0l1 0l-13 0l8 0l3 0l-3 1l0 0l-1 1l0 2l8 1l-6 3l-7 0l1 1l13 2l-17 1l12 0l1 1l-6 1l-5 2l11 2l4 0l-15 1l15 3l0 1l-11 1l7 0l-7 0l-4 1l10 0l-9 2l5 2l9 1l-7 1l5 0l-8 1l-7 3l16 1l-10 3l4 1l9 1l-7 0l-6 1l-7 1l12 0l-9 2l11 0l4 3l-16 2l6 9l2 1l-1 7l5 2l-14 1l-1 9l2 13l3 10" fill="none" stroke="none" marker-start="url(#mr)" marker-mid="url(#mr)" marker-end="url(#mr)"/>
<path d="M1550.3 80.5V192.5M1550.3 268.8V378" stroke="#dd0a0a" stroke-width="2"/>
<rect x="1537.3" y="192.5" width="26" height="76.3" fill="#fff" fill-opacity="0.5" stroke="#dd0a0a" stroke-width="2"/>
<line x1="1537.3" x2="1563.3" y1="229" y2="229" stroke="#dd0a0a" stroke-width="2.8"/>
<path d="M1589 138l-7 48l5 2l-2 6l-7 5l0 2l3 15l13 4l-17 1l-2 1l11 8l-10 0l2 3l-2 5l14 3l0 1l3 3l-10 2l-7 3l12 1l-6 4l8 0l-4 6l-4 1l7 0l-2 8l-3 2l2 0l7 0l-2 3l0 0l-4 1l-2 0l2 2l-9 0l5 0l-4 2l15 1l-8 1l-1 0l-10 1l11 1l5 1l-9 1l0 2l4 0l-11 0l5 2l4 1l7 2l1 0l-6 2l4 0l-5 1l9 3l-10 1l4 1l5 0l-9 2l-6 1l-4 1l17 1l-2 2l0 0l-16 0l8 2l7 1l-11 1l-1 0l16 2l2 1l-17 0l7 1l-4 2l2 3l-1 0l-8 2l4 4l4 4l-5 1l-1 1l-1 3l5 12l-3 1l-2 0l11 1l-8 0l12 4l-13 0l6 15l-5 0l-4 5l1 3l8 1l-4 1l16 10l-8 1l1 3l-7 2l2 8l-6 2l2 3l3 9l-4 6l14 2l-5 11l-10 28" fill="none" stroke="none" marker-start="url(#mr)" marker-mid="url(#mr)" marker-end="url(#mr)"/>
<path d="M1583.7 185.5V256.6M1583.7 334V435.8" stroke="#dd0a0a" stroke-width="2"/>
<rect x="1570.7" y="256.6" width="26" height="77.4" fill="#fff" fill-opacity="0.5" stroke="#dd0a0a" stroke-width="2"/>
<line x1="1570.7" x2="1596.7" y1="294" y2="294" stroke="#dd0a0a" stroke-width="2.8"/>
<path d="M1618 97l-6 13l-1 12l4 6l-3 16l4 2l8 2l-14 3l14 5l1 3l-17 1l17 0l-1 1l-12 3l3 3l2 3l7 2l-15 0l4 1l7 0l4 1l-15 3l11 1l-3 3l0 1l6 2l-5 2l-6 1l5 2l2 0l-10 0l-2 1l17 2l-14 1l9 0l4 0l-1 0l5 1l-14 0l6 2l6 0l-18 1l2 2l10 0l-8 0l15 2l-6 0l-9 1l14 1l-8 0l1 1l-11 0l10 1l-3 0l-2 1l0 0l2 0l12 0l-1 1l-15 0l12 1l-12 0l15 1l-9 0l1 0l-7 1l1 0l0 0l12 0l-13 2l9 0l1 0l-10 0l11 0l3 1l1 1l-6 0l1 0l-4 1l-4 0l15 0l-6 1l-10 2l4 0l12 1l-9 0l-7 0l15 1l-11 1l11 0l-14 1l3 0l-7 1l16 0l-6 0l6 2l-15 0l16 0l-5 1l7 1l-17 0l10 1l-9 0l-1 1l7 0l-1 1l-6 0l3 1l13 0l-5 1l-6 1l11 0l-10 0l-9 1l10 0l9 0l-5 0l-13 0l0 1l8 0l-8 0l2 1l0 0l17 0l-14 1l-6 0l7 1l6 0l5 1l1 0l-15 1l6 0l8 0l-15 1l9 0l-4 1l-8 1l17 0l-2 1l-3 0l3 0l-14 0l16 0l-9 0l11 0l-14 0l7 1l4 0l4 0l-17 0l4 1l6 1l-11 1l7 0l4 1l-1 1l8 0l-14 0l-4 1l9 0l-4 0l-4 1l9 0l1 0l-10 1l8 0l-9 1l10 0l-3 0l-8 0l2 1l15 0l2 0l-8 0l0 0l-8 1l6 1l-3 0l9 0l3 0l-8 1l-1 1l-4 0l4 0l1 0l-2 0l0 1l5 0l-10 1l10 0l-4 0l-9 1l9 1l-10 0l4 1l10 0l-12 0l16 1l-13 0l3 0l3 1l7 0l-3 1l-2 0l5 0l-15 0l4 1l7 1l-12 0l0 0l6 0l6 1l-7 0l7 0l-10 1l-1 0l6 0l-6 1l7 0l1 1l6 0l-14 0l11 1l-7 0l9 0l2 1l-1 0l-10 0l3 1l-2 0l12 1l-9 0l-3 0l-1 0l-5 1l-1 1l4 0l9 0l-4 1l1 0l4 0l-10 1l5 0l8 0l-3 0l3 1l3 1l-16 0l14 0l-12 0l-3 1l6 0l10 0l-11 1l6 0l-15 1l19 1l-1 0l-5 0l-10 1l-2 0l11 0l-1 0l-6 1l3 0l-2 1l2 0l6 1l4 0l-4 1l-7 0l3 0l-9 1l18 0l-9 1l7 0l-10 1l-1 0l-6 2l3 1l5 0l11 1l-6 0l-10 0l0 0l-3 0l16 1l-3 0l7 1l-11 0l-4 1l7 0l-2 0l7 1l-4 0l-8 1l8 0l0 0l6 0l-11 1l11 0l-3 1l-2 1l0 0l4 1l-10 1l0 1l-4 0l15 0l-13 0l8 1l-3 2l8 0l-16 0l13 0l-10 1l-1 1l-3 0l17 1l-7 0l1 1l0 1l7 0l-14 0l-2 2l12 0l-12 0l0 0l-4 1l18 0l-14 1l-3 0l12 0l1 1l2 0l-13 0l-2 0l1 1l12 1l-2 1l-4 1l11 2l-14 1l-1 1l14 0l-7 1l4 0l3 1l-3 0l-6 2l7 1l1 0l-2 4l-8 0l-6 3l15 2l-10 0l4 0l-8 3l7 1l-7 1l18 2l-12 2l8 3l-15 0l6 3l-7 0l8 0l3 2l1 9l-4 0l-4 9l3 3l4 19l6 11l-13 14l-3 16" fill="none" stroke="none" marker-start="url(#mp)" marker-mid="url(#mp)" marker-end="url(#mp)"/>
<path d="M1617.1 127.8V225.8M1617.1 294V383" stroke="#9030f0" stroke-width="2"/>
<rect x="1604.1" y="225.8" width="26" height="68.2" fill="#fff" fill-opacity="0.5" stroke="#9030f0" stroke-width="2"/>
<line x1="1604.1" x2="1630.1" y1="260.8" y2="260.8" stroke="#9030f0" stroke-width="2.8"/>
<path d="M1648 105l7 16l-6 7l-4 8l0 7l6 1l6 3l-8 5l2 1l-6 1l6 2l-11 1l0 0l6 2l9 0l-8 2l12 3l-17 0l9 0l9 3l-19 1l17 3l-4 2l6 0l-15 1l0 0l-2 0l2 1l1 1l14 3l-6 2l4 0l-17 2l0 0l17 1l-17 1l20 1l-10 0l-1 0l-7 1l12 1l-13 1l4 0l2 0l-2 0l-6 1l15 0l-14 1l20 1l-13 0l9 1l-13 0l1 1l1 0l12 0l-8 0l8 0l-10 1l6 0l4 0l2 1l-20 0l13 0l-2 0l-7 1l1 1l3 0l-3 0l-1 1l10 0l0 0l6 0l-2 1l-14 0l2 1l13 0l0 1l0 0l2 0l-3 1l-16 0l9 1l6 0l-1 0l-11 1l-1 1l7 0l7 0l-13 0l10 1l-4 0l4 0l2 0l-6 1l9 0l-1 0l-19 0l8 1l11 0l-2 2l1 1l-7 0l5 0l-7 1l-6 0l7 0l3 1l-6 1l-6 0l16 0l1 0l-9 0l-7 1l2 0l1 0l14 1l-8 0l-7 0l-1 0l17 1l-8 0l7 0l-6 1l-13 0l20 0l-3 1l-11 0l-5 0l4 0l9 0l2 0l-13 0l8 0l2 1l0 0l-4 0l0 0l7 0l-4 1l9 0l-15 0l-3 0l1 0l10 0l-11 0l6 1l-6 0l6 0l9 0l2 0l-10 0l-5 0l2 1l-3 1l5 1l3 0l-6 0l-4 0l17 0l-7 1l-4 0l-5 0l14 0l-6 1l-2 0l-4 0l11 1l-13 0l8 0l-5 1l-5 0l10 0l7 1l-8 0l-3 0l11 0l-2 0l-11 0l-1 0l-1 0l12 1l-7 0l6 0l2 0l4 1l-3 0l-11 0l-5 0l-1 0l20 1l-11 0l6 0l-13 0l18 0l-3 0l-11 0l10 1l-12 0l-2 0l-1 0l14 0l5 1l-6 0l-8 1l8 0l5 0l-1 0l-7 0l-2 0l1 0l-7 1l2 0l-2 0l-1 0l5 0l3 1l-6 0l9 0l-6 0l12 1l-4 0l1 0l4 0l-3 0l0 0l-10 0l14 0l-10 1l-11 0l4 1l16 0l-8 0l-8 0l-1 0l16 0l-14 0l14 1l-15 0l15 0l-2 1l1 0l-10 0l12 0l-9 0l-1 0l3 0l-5 0l10 0l-7 0l9 0l-7 1l-11 0l9 0l-4 0l13 0l-5 0l-9 1l8 0l-13 0l7 0l8 1l-9 1l-2 0l5 0l-1 0l-4 0l8 1l3 0l-1 1l-1 0l3 0l-14 0l15 0l-12 0l12 1l-6 0l-11 0l2 0l15 0l-1 1l-7 0l-7 0l7 0l-9 0l0 0l9 1l8 0l-6 0l7 0l-12 0l-6 1l14 0l1 0l-8 0l-3 0l6 0l3 1l5 0l-4 0l1 0l-4 1l8 0l-20 1l6 0l7 1l3 0l-9 1l1 0l0 0l-2 1l10 0l-3 0l-9 0l14 0l-11 0l-2 0l-2 1l17 0l-16 1l-3 0l10 1l-1 0l2 0l-4 1l-4 0l12 0l-10 1l15 0l-12 0l0 1l-4 1l15 0l-2 0l-5 0l-4 1l0 0l-8 0l11 1l-4 1l2 0l3 0l-8 1l4 0l-6 0l-2 0l0 1l0 1l7 0l0 0l12 0l-15 1l1 0l1 0l0 1l11 1l-12 1l8 1l-9 0l15 1l-1 0l-10 2l-3 0l3 1l2 0l9 0l-19 1l8 2l-1 0l10 1l-7 0l-5 1l1 0l0 2l-5 0l12 0l-8 0l-5 1l19 0l-10 1l-8 1l10 0l5 1l-6 0l-9 0l10 1l6 0l-4 1l3 0l4 0l-9 0l3 0l0 0l-6 1l5 0l-9 0l14 0l-15 1l6 0l5 0l-8 1l-6 1l19 0l-2 1l-6 0l-10 0l11 0l-12 2l18 0l2 0l-11 1l10 1l-3 1l-13 2l16 1l-18 12l10 4l-7 1l14 2l-7 7l3 20" fill="none" stroke="none" marker-start="url(#mr)" marker-mid="url(#mr)" marker-end="url(#mr)"/>
<path d="M1650.5 136.5V209.3M1650.5 261.8V353.5" stroke="#dd0a0a" stroke-width="2"/>
<rect x="1637.5" y="209.3" width="26" height="52.5" fill="#fff" fill-opacity="0.5" stroke="#dd0a0a" stroke-width="2"/>
<line x1="1637.5" x2="1663.5" y1="234.5" y2="234.5" stroke="#dd0a0a" stroke-width="2.8"/>
<path d="M1681 268l6 7l-9 7l10 12l-8 0l9 10l-11 7l2 7l11 1l3 2l-19 1l4 0l13 1l-5 6l-11 1l1 1l2 1l-2 6l-2 2l2 3l12 1l1 1l-4 1l4 17l-8 7l3 2l1 4l-2 4l-2 2l2 1l6 0l-7 1l4 5l-11 6l4 3l10 10l0 6l-4 2" fill="none" stroke="none" marker-start="url(#mb)" marker-mid="url(#mb)" marker-end="url(#mb)"/>
<path d="M1683.9 267.8V305M1683.9 371V416.5" stroke="#0a0ad0" stroke-width="2"/>
<rect x="1670.9" y="305" width="26" height="66.0" fill="#fff" fill-opacity="0.5" stroke="#0a0ad0" stroke-width="2"/>
<line x1="1670.9" x2="1696.9" y1="330" y2="330" stroke="#0a0ad0" stroke-width="2.8"/>
<path d="M1721 119l-12 16l11 15l5 7l-17 2l19 2l-2 1l-9 3l-6 1l8 0l-10 0l2 1l14 1l2 1l-8 0l0 2l4 0l-3 1l-11 0l5 1l7 0l0 1l-3 1l-4 0l-5 2l6 0l-4 0l7 1l-2 1l10 1l-8 0l1 1l3 0l-13 0l8 0l2 1l0 1l3 1l6 1l-14 0l14 0l-8 1l-5 0l-6 1l2 1l15 0l-10 0l10 1l-15 1l14 1l0 2l-14 0l7 1l3 1l5 0l-14 1l15 0l-9 1l-3 2l-7 0l14 1l-2 0l5 1l-17 0l15 1l-14 1l18 0l-8 1l-3 0l-1 1l8 0l-6 1l-1 0l0 0l-1 0l2 1l9 0l-1 1l-4 0l-10 0l0 0l10 1l7 0l-19 0l7 0l-3 1l9 0l4 1l-14 0l2 0l1 4l5 1l-12 1l4 1l4 2l8 0l1 1l0 1l-6 0l4 0l3 0l-2 1l-2 0l-6 0l7 0l-3 1l-2 0l0 0l-6 1l-3 0l9 3l5 0l-14 2l9 1l-3 1l-1 0l7 1l-1 5l0 4l-3 2l-2 2l3 1l2 1l7 1l-16 0l11 1l-1 0l5 2l-12 6l2 1l-5 2l18 1l-11 1l-6 0l14 1l2 3l-14 6l-3 0l0 1l4 0l-5 2l8 0l-7 1l10 0l-1 0l0 3l-4 6l10 11l-5 2l-9 5l5 1l8 0l-3 3l-14 4l3 7l10 8l2 4l-6 3" fill="none" stroke="none" marker-start="url(#mr)" marker-mid="url(#mr)" marker-end="url(#mr)"/>
<path d="M1717.4 119V188.3M1717.4 247.8V334" stroke="#dd0a0a" stroke-width="2"/>
<rect x="1704.4" y="188.3" width="26" height="59.5" fill="#fff" fill-opacity="0.5" stroke="#dd0a0a" stroke-width="2"/>
<line x1="1704.4" x2="1730.4" y1="210" y2="210" stroke="#dd0a0a" stroke-width="2.8"/>
<path d="M1745 232l-3 7l2 1l9 4l5 2l-15 6l6 7l-8 0l2 2l11 1l-12 0l11 2l-8 1l-3 4l14 2l-5 1l-8 2l1 4l6 0l6 2l-15 1l10 1l8 0l-11 1l-7 0l14 0l4 1l-5 1l0 1l6 0l-8 0l-6 0l5 0l-6 1l0 0l-3 1l16 1l-8 1l6 1l-4 1l-1 0l0 1l0 0l-6 1l15 2l-12 0l9 1l1 0l-2 0l-6 0l-3 1l12 0l-17 1l6 1l7 1l-4 1l-1 0l9 1l-16 0l11 1l-10 0l-3 2l0 0l10 0l-1 0l-8 0l3 1l8 0l-6 0l0 1l-4 0l15 0l-10 0l-7 1l14 0l4 0l-4 1l0 1l-8 0l14 0l-6 0l-10 0l11 1l-1 0l-7 0l11 1l-5 0l-13 0l9 1l6 0l-9 0l14 1l-14 0l7 2l-3 1l-3 0l11 0l0 0l2 1l-19 1l7 1l5 0l-8 0l13 1l-8 0l-1 0l5 1l-6 0l0 0l-8 0l19 0l-10 1l-5 0l6 0l6 0l-5 0l1 1l-3 0l-3 0l7 1l-11 0l18 2l0 0l-3 0l-1 0l-6 0l-7 0l2 0l11 1l-14 0l-1 0l2 0l2 1l0 0l2 0l8 0l4 0l-13 0l12 1l-2 0l-12 0l9 1l-7 1l-6 0l12 0l-8 0l13 0l-10 1l13 0l-21 1l12 0l2 1l-11 0l16 0l-16 0l17 1l0 0l-17 0l10 0l-11 1l3 0l16 2l-3 0l-12 0l3 0l1 0l8 0l-14 0l15 1l-18 0l1 0l12 0l-4 0l5 0l-7 0l5 0l-11 1l14 0l-14 1l10 0l3 0l-1 0l2 0l0 0l5 0l-20 1l11 0l2 1l-10 0l4 1l3 0l-7 0l6 0l-9 0l19 1l-13 0l-6 0l12 0l-4 0l2 1l0 0l0 0l-2 0l3 0l1 2l1 0l-2 0l4 0l-12 1l-3 0l20 1l-18 0l10 0l0 0l-10 0l5 0l-6 1l9 1l-2 0l3 0l-9 0l7 1l-3 0l6 0l7 0l1 0l-14 1l-4 1l4 0l7 0l1 0l6 0l-12 0l-2 1l-2 0l9 0l-10 1l6 0l11 1l-6 0l-2 0l-9 0l15 0l-10 0l6 1l-12 1l7 0l-1 1l-4 0l9 0l-7 0l2 0l0 0l-5 0l11 1l-3 0l-3 0l8 0l-1 1l-12 0l13 1l-15 0l7 0l-8 0l11 0l5 1l3 0l-19 0l11 1l-4 0l12 0l-7 0l-2 0l-3 1l1 0l-1 0l-3 0l-3 0l6 0l-2 0l12 0l-4 0l6 1l-11 0l3 0l-7 1l10 0l-4 0l1 0l-6 0l14 0l-9 1l10 1l-6 0l-7 0l11 1l-8 0l-3 1l0 0l11 1l-10 0l-6 0l9 0l1 1l-8 0l6 0l-2 0l5 0l6 0l-7 1l-3 1l-4 0l8 0l-5 0l-8 1l14 0l-8 0l3 0l-7 1l14 1l-16 0l14 1l-6 0l11 0l-8 0l-7 0l6 1l3 0l5 0l-13 0l-1 0l12 0l-8 1l9 0l-14 0l9 0l7 1l-17 0l6 0l1 0l-5 0l12 1l-7 0l7 0l3 0l-4 1l4 0l-7 0l-3 0l5 1l-2 0l-7 0l11 0l-12 0l15 1l-16 0l16 0l-12 0l-2 1l13 0l-1 0l2 1l-1 0l-12 0l3 1l9 0l-6 0l-3 0l1 0l4 1l-2 0l-1 1l7 0l-18 0l19 0l-13 1l-6 0l15 1l-5 0l-7 1l15 0l-15 0l6 0l-1 0l6 1l4 1l-17 1l18 2l-9 0l1 0l-2 1l-9 0l19 0l-10 1l6 0l4 0l-3 0l3 0l-1 1l-3 0l-12 0l13 1l0 0l-2 0l1 0l-3 1l4 0l-16 0l7 1l4 1l-2 0l-6 0l-2 0l0 0l13 2l-11 0l-3 0l11 0l-3 1l-8 0l16 1l2 0l-12 0l9 0l-2 1l-2 0l-10 0l18 1l-9 1l7 0l-3 0l-12 0l-1 0l5 1l-1 0l6 1l-6 1l8 0l-10 0l16 2l-13 0l12 0l-14 0l8 0l5 0l-3 1l-2 0l6 0l-4 0l5 0l-1 1l-8 0l-10 0l4 0l16 1l-7 0l0 1l-1 0l-7 1l-1 0l0 1l16 0l-18 0l-2 1l-1 1l10 0l8 0l-2 1l-1 0l-2 1l3 0l-11 0l14 1l-1 1l0 1l-9 1l11 0l-3 1l-8 0l-5 1l8 2l0 1l1 0l-4 0l8 1l-6 0l-9 1l9 1l7 1l-9 1l4 2l0 4l2 3l-11 0l1 1l10 2l-10 0l6 1l1 3l4 1l-1 1l-5 0l-2 3l-1 1l6 2l-10 1l4 0l0 3l3 0l5 1l-13 3l5 3l-6 1l9 6l-1 12" fill="none" stroke="none" marker-start="url(#mr)" marker-mid="url(#mr)" marker-end="url(#mr)"/>
<path d="M1750.8 232V329M1750.8 397V488" stroke="#dd0a0a" stroke-width="2"/>
<rect x="1737.8" y="329" width="26" height="68.0" fill="#fff" fill-opacity="0.5" stroke="#dd0a0a" stroke-width="2"/>
<line x1="1737.8" x2="1763.8" y1="361.6" y2="361.6" stroke="#dd0a0a" stroke-width="2.8"/>
<path d="M1790 262l-14 3l10 0l-10 21l3 1l-3 8l10 17l3 2l-11 2l11 11l3 1l-4 4l-9 4l8 8l-6 1l2 2l-5 4l8 2l0 0l5 1l-12 1l9 0l-8 10l-2 2l2 2l2 1l-1 0l-5 3l5 3l9 1l3 0l0 2l-18 1l17 3l-1 0l-4 5l-11 2l19 2l-2 0l1 1l-15 1l10 3l-3 3l-10 2l1 2l11 0l1 1l-8 6l7 3l1 2l-7 2l9 1l3 6l0 2l-15 1l12 5l-11 3l4 8l4 1l-11 2l9 3" fill="none" stroke="none" marker-start="url(#mb)" marker-mid="url(#mb)" marker-end="url(#mb)"/>
<path d="M1784.2 262.5V350M1784.2 413V450" stroke="#0a0ad0" stroke-width="2"/>
<rect x="1771.2" y="350" width="26" height="63.0" fill="#fff" fill-opacity="0.5" stroke="#0a0ad0" stroke-width="2"/>
<line x1="1771.2" x2="1797.2" y1="389.6" y2="389.6" stroke="#0a0ad0" stroke-width="2.8"/>
<path d="M1818 245l7 1l-6 4l-5 7l-4 16l0 5l-1 0l-1 7l14 3l-1 0l-8 2l11 1l-6 4l1 0l2 2l-6 2l13 2l-15 2l6 0l1 2l8 4l-18 0l10 4l1 1l-5 1l2 0l6 1l-17 0l7 0l13 1l-18 2l13 1l-4 1l7 2l-11 2l-4 0l13 1l-8 2l-4 2l17 1l-3 0l3 1l-17 0l8 0l-8 2l15 2l-10 0l-8 1l14 0l-11 1l12 2l-4 1l4 0l-15 2l6 0l3 0l-4 1l1 0l-3 1l1 3l11 1l-8 0l2 1l-6 1l10 0l6 1l-3 0l0 0l-10 0l12 2l-5 1l-3 1l4 0l0 1l-7 1l4 0l-9 2l13 4l-6 0l9 1l-13 0l-3 0l4 0l12 1l-14 0l11 0l-13 0l0 1l3 0l13 4l-15 2l6 2l1 1l-7 0l1 2l-2 0l4 1l2 2l-4 0l6 1l-6 1l3 1l6 2l-7 0l-2 0l9 1l-5 1l10 0l-4 2l-12 1l-2 2l18 0l-1 6l0 0l2 1l-20 1l12 4l5 1l2 2l-17 0l14 15l-4 13l-10 64" fill="none" stroke="none" marker-start="url(#mr)" marker-mid="url(#mr)" marker-end="url(#mr)"/>
<path d="M1817.6 245V312.6M1817.6 363.3V435.8" stroke="#dd0a0a" stroke-width="2"/>
<rect x="1804.6" y="312.6" width="26" height="50.7" fill="#fff" fill-opacity="0.5" stroke="#dd0a0a" stroke-width="2"/>
<line x1="1804.6" x2="1830.6" y1="336" y2="336" stroke="#dd0a0a" stroke-width="2.8"/>
<path d="M1844 82l-2 16l11 24l-11 2l12 0l-10 1l5 9l4 1l-12 7l4 1l11 5l2 8l-8 6l-4 0l6 0l9 0l-1 1l0 1l-15 2l12 0l-3 1l-7 0l-2 2l14 4l2 0l-3 2l-15 0l16 1l0 1l-12 2l13 0l-12 0l-1 0l13 1l-13 1l5 1l0 1l6 0l-5 0l8 0l-18 0l16 0l-13 0l-3 2l3 0l0 1l8 0l-10 2l-3 1l18 1l-14 0l2 0l1 1l2 0l-4 0l-3 1l3 0l9 1l-6 0l5 0l-10 0l0 0l8 0l4 2l5 0l-9 1l-1 1l3 1l-13 0l8 0l-3 2l-3 2l16 0l-18 1l9 1l-8 0l13 1l0 0l1 0l-14 1l11 0l4 0l-10 0l-6 0l18 0l-12 0l8 1l-1 0l-4 0l-7 0l11 1l-13 0l3 0l4 0l0 0l6 0l-1 0l0 1l-1 0l6 0l-7 0l-8 0l16 0l0 1l1 0l-17 0l1 0l10 1l1 0l4 0l-9 0l6 0l-9 1l7 0l-1 0l-2 0l10 0l-3 1l3 0l-7 1l-12 0l13 0l0 0l-3 0l-9 0l16 1l-18 0l3 0l3 1l-6 0l11 1l2 0l-9 0l3 0l-4 0l4 1l-1 1l0 0l10 0l4 1l-16 0l14 0l-12 0l-4 0l17 0l-19 1l2 0l2 0l8 0l-2 0l1 0l-4 0l-4 0l13 1l-11 0l-1 0l9 1l-10 0l4 0l11 0l2 1l0 0l-13 0l1 0l-2 0l-2 0l2 1l-3 0l5 0l2 1l-7 0l5 0l-7 0l17 1l-6 1l4 0l-7 0l-5 0l-3 0l18 1l-15 0l5 0l-5 0l15 1l-6 0l3 1l-1 0l-4 0l7 0l-18 1l5 0l-1 0l11 0l4 1l-6 0l-9 0l7 0l8 1l-19 0l18 0l-7 0l4 1l-8 0l-4 0l-3 0l5 0l-4 1l14 0l3 0l-9 0l0 0l3 0l6 0l-18 1l13 0l4 0l-6 0l4 1l1 0l1 0l-8 0l-9 1l16 0l-7 0l11 0l-10 0l0 0l3 0l6 1l-7 0l6 0l2 1l-14 0l4 0l6 0l2 0l-14 0l3 1l-2 1l14 0l-2 0l-11 1l3 0l-9 0l18 1l-3 0l-7 0l8 0l-14 0l2 0l1 0l6 0l4 1l4 0l-11 0l-6 1l15 0l-17 1l10 0l10 0l-17 0l14 1l-5 0l0 0l0 0l-10 0l-1 1l0 0l15 0l-13 0l2 1l-2 0l13 1l-3 0l6 1l-1 0l-2 0l-5 0l1 1l-10 0l9 1l-5 0l12 0l0 1l-5 1l-10 0l7 0l0 0l-7 0l-2 0l15 1l-4 0l-5 0l5 0l-11 0l15 0l-14 0l4 0l8 0l-14 1l12 0l-2 1l-10 0l11 0l-5 0l-3 1l11 0l3 1l-17 0l13 0l-6 0l6 2l3 0l-6 0l-10 0l3 0l2 1l10 0l-8 1l11 0l-9 0l10 0l-5 1l3 0l-9 0l5 0l2 0l-14 0l10 0l2 1l-8 0l-4 1l8 0l-1 0l-5 1l6 0l-3 0l3 0l-8 0l9 1l1 0l1 0l4 0l-8 0l2 0l-9 2l0 0l18 1l-12 1l11 0l-7 0l3 1l0 0l-8 0l9 1l0 1l-12 0l1 1l5 0l-9 1l2 0l16 0l-11 0l-2 0l-1 1l14 0l0 0l-11 1l8 0l-10 0l-1 0l14 0l-10 0l-2 1l13 0l-5 0l-12 0l9 0l0 0l1 1l-5 0l6 1l-6 0l8 0l5 1l0 1l-7 0l2 0l3 1l-16 0l9 0l0 1l3 0l-12 0l0 0l11 2l-1 0l-1 0l0 1l-10 0l16 0l-13 0l10 0l-5 0l-8 1l17 0l-5 0l-4 0l4 0l-11 2l13 1l5 0l-8 0l2 0l-10 0l0 1l14 0l-1 0l-15 1l5 0l3 0l0 0l-2 1l-7 0l6 2l1 1l5 0l-12 2l6 0l-4 0l14 0l-4 0l-13 0l20 1l-10 1l8 0l-14 0l-4 1l7 1l-7 0l11 1l6 0l3 1l0 0l-10 1l4 0l6 0l-11 1l-3 1l-4 0l15 0l-8 1l-4 1l-5 0l1 0l7 1l7 0l0 0l-11 1l8 0l7 1l-11 1l-6 0l4 0l12 0l-5 1l-7 0l6 3l-5 0l5 1l-3 0l-1 1l12 0l-18 1l17 0l-4 0l2 0l-10 1l-6 0l16 0l-7 1l-9 0l9 0l5 0l1 1l-4 1l-12 0l16 1l4 0l-16 1l3 0l-1 1l-2 0l7 0l-1 0l3 0l-3 1l10 0l-2 1l-13 1l4 2l-8 1l11 0l4 1l2 1l-8 0l7 1l-4 1l-8 0l-2 0l5 1l12 1l0 2l-18 1l15 1l2 0l-11 0l6 4l-2 1l4 2l3 0l-14 1l-2 0l12 1l-1 1l-11 0l0 0l13 2l-9 0l8 0l2 0l-15 1l4 0l12 1l2 5l-11 1l-9 1l1 3l18 3l-5 3l-8 0l-2 1l2 2l6 0l-1 3l-3 4l-7 4l10 5l2 6l1 2" fill="none" stroke="none" marker-start="url(#mr)" marker-mid="url(#mr)" marker-end="url(#mr)"/>
<path d="M1851.0 122.5V223.3M1851.0 297.5V406" stroke="#dd0a0a" stroke-width="2"/>
<rect x="1838.0" y="223.3" width="26" height="74.2" fill="#fff" fill-opacity="0.5" stroke="#dd0a0a" stroke-width="2"/>
<line x1="1838.0" x2="1864.0" y1="258.3" y2="258.3" stroke="#dd0a0a" stroke-width="2.8"/>
<path d="M1888 217l-14 36l18 2l-1 7l-4 5l-10 4l3 14l-4 9l-2 1l7 2l13 1l-13 3l1 1l1 1l3 2l-11 4l17 3l-6 1l2 6l4 1l-14 1l3 1l-1 8l9 1l-5 2l-6 7l-4 3l4 1l-1 3l5 15l-2 8l8 1l5 4l-1 0l-11 15l-5 0l12 9" fill="none" stroke="none" marker-start="url(#mb)" marker-mid="url(#mb)" marker-end="url(#mb)"/>
<path d="M1884.5 217V300M1884.5 365.8V399" stroke="#0a0ad0" stroke-width="2"/>
<rect x="1871.5" y="300" width="26" height="65.8" fill="#fff" fill-opacity="0.5" stroke="#0a0ad0" stroke-width="2"/>
<line x1="1871.5" x2="1897.5" y1="322.7" y2="322.7" stroke="#0a0ad0" stroke-width="2.8"/>
<path d="M1918 112l-7 7l9 35l5 16l-15 6l11 1l3 2l-16 7l10 0l0 2l5 2l-2 4l5 1l-18 3l2 2l12 5l-2 1l-10 2l2 2l15 1l-11 2l7 6l1 1l-1 0l-9 0l12 1l-5 1l-1 5l-11 1l14 5l-1 0l-10 1l-4 1l8 3l-2 3l-5 3l17 1l-10 5l12 0l-1 0l-2 5l-4 1l-4 1l-2 3l6 1l-12 1l-1 1l-1 1l10 3l9 1l-12 4l11 0l-7 4l-2 4l1 1l4 4l-2 0l8 1l-1 22l-4 10l-4 14" fill="none" stroke="none" marker-start="url(#mr)" marker-mid="url(#mr)" marker-end="url(#mr)"/>
<path d="M1917.9 154V203M1917.9 256.2V332.5" stroke="#dd0a0a" stroke-width="2"/>
<rect x="1904.9" y="203" width="26" height="53.2" fill="#fff" fill-opacity="0.5" stroke="#dd0a0a" stroke-width="2"/>
<line x1="1904.9" x2="1930.9" y1="229.3" y2="229.3" stroke="#dd0a0a" stroke-width="2.8"/>
<path d="M1950 242l8 10l-16 4l14 19l-6 1l-5 0l3 1l3 3l6 1l-13 0l1 0l16 2l-13 10l8 2l-13 2l0 6l8 2l-6 1l-1 2l8 2l6 1l-12 0l7 5l-8 3l6 1l-1 2l4 1l-11 1l5 2l-5 0l7 3l4 1l-6 2l11 0l-13 3l11 4l-6 0l0 2l9 1l-18 1l9 2l8 1l-18 1l3 3l1 2l15 0l-6 2l6 0l-7 7l-9 1l13 0l-2 0l0 1l1 3l0 1l4 1l-4 5l-13 6l9 0l-4 2l12 0l-4 0l5 1l-13 1l3 1l5 0l4 2l-5 3l-2 1l2 0l-7 2l7 7l-9 6l6 6l8 1l-18 3l-1 3l16 2l1 8l-4 1l-12 6l15 29" fill="none" stroke="none" marker-start="url(#mr)" marker-mid="url(#mr)" marker-end="url(#mr)"/>
<path d="M1951.3 241.5V310.8M1951.3 377.3V463.8" stroke="#dd0a0a" stroke-width="2"/>
<rect x="1938.3" y="310.8" width="26" height="66.5" fill="#fff" fill-opacity="0.5" stroke="#dd0a0a" stroke-width="2"/>
<line x1="1938.3" x2="1964.3" y1="350" y2="350" stroke="#dd0a0a" stroke-width="2.8"/>
<use href="#star" x="150.4" y="38.2"/>
<use href="#star" x="163.8" y="38.2"/>
<use href="#star" x="177.2" y="38.2"/>
<use href="#star" x="217.3" y="38.2"/>
<use href="#star" x="230.7" y="38.2"/>
<use href="#star" x="244.1" y="38.2"/>
<use href="#star" x="417.8" y="38.2"/>
<use href="#star" x="431.2" y="38.2"/>
<use href="#star" x="444.6" y="38.2"/>
<use href="#star" x="484.6" y="38.2"/>
<use href="#star" x="498.0" y="38.2"/>
<use href="#star" x="511.4" y="38.2"/>
<use href="#star" x="584.9" y="38.2"/>
<use href="#star" x="598.3" y="38.2"/>
<use href="#star" x="611.7" y="38.2"/>
<use href="#star" x="685.2" y="38.2"/>
<use href="#star" x="698.6" y="38.2"/>
<use href="#star" x="712.0" y="38.2"/>
<use href="#star" x="765.4" y="38.2"/>
<use href="#star" x="885.7" y="38.2"/>
<use href="#star" x="899.1" y="38.2"/>
<use href="#star" x="912.5" y="38.2"/>
<use href="#star" x="1092.9" y="38.2"/>
<use href="#star" x="1106.3" y="38.2"/>
<use href="#star" x="1153.0" y="38.2"/>
<use href="#star" x="1166.4" y="38.2"/>
<use href="#star" x="1179.8" y="38.2"/>
<use href="#star" x="1219.9" y="38.2"/>
<use href="#star" x="1233.3" y="38.2"/>
<use href="#star" x="1246.7" y="38.2"/>
<use href="#star" x="1420.4" y="38.2"/>
<use href="#star" x="1433.8" y="38.2"/>
<use href="#star" x="1447.2" y="38.2"/>
<use href="#star" x="1487.2" y="38.2"/>
<use href="#star" x="1500.6" y="38.2"/>
<use href="#star" x="1514.0" y="38.2"/>
<use href="#star" x="1587.5" y="38.2"/>
<use href="#star" x="1600.9" y="38.2"/>
<use href="#star" x="1614.3" y="38.2"/>
<use href="#star" x="1654.3" y="38.2"/>
<use href="#star" x="1667.7" y="38.2"/>
<use href="#star" x="1681.1" y="38.2"/>
<use href="#star" x="1768.0" y="38.2"/>
<use href="#star" x="1854.8" y="38.2"/>
<use href="#star" x="1868.2" y="38.2"/>
<use href="#star" x="1881.7" y="38.2"/>
<rect x="94.5" y="9.5" width="1877.5" height="568.5" fill="none" stroke="#4d4d4d" stroke-width="1.8"/>
<line x1="87" x2="94.5" y1="565.4" y2="565.4" stroke="#333" stroke-width="2"/>
<text x="79" y="573.2" text-anchor="end" font-size="22" font-family='"Liberation Sans", sans-serif' fill="#4d4d4d">0.0</text>
<line x1="87" x2="94.5" y1="421.8" y2="421.8" stroke="#333" stroke-width="2"/>
<text x="79" y="429.6" text-anchor="end" font-size="22" font-family='"Liberation Sans", sans-serif' fill="#4d4d4d">2.5</text>
<line x1="87" x2="94.5" y1="278.1" y2="278.1" stroke="#333" stroke-width="2"/>
<text x="79" y="285.9" text-anchor="end" font-size="22" font-family='"Liberation Sans", sans-serif' fill="#4d4d4d">5.0</text>
<line x1="87" x2="94.5" y1="134.5" y2="134.5" stroke="#333" stroke-width="2"/>
<text x="79" y="142.3" text-anchor="end" font-size="22" font-family='"Liberation Sans", sans-serif' fill="#4d4d4d">7.5</text>
<line x1="113.2" x2="113.2" y1="578" y2="589" stroke="#333" stroke-width="2"/>
<text transform="translate(121.5,593) rotate(-90) scale(0.9,1)" text-anchor="end" font-size="23.5" font-family='"Liberation Sans", sans-serif' fill="#000">ACC.Tumor</text>
<line x1="146.6" x2="146.6" y1="578" y2="589" stroke="#333" stroke-width="2"/>
<text transform="translate(154.9,593) rotate(-90) scale(0.9,1)" text-anchor="end" font-size="23.5" font-family='"Liberation Sans", sans-serif' fill="#000">BLCA.Tumor</text>
<line x1="180.0" x2="180.0" y1="578" y2="589" stroke="#333" stroke-width="2"/>
<text transform="translate(188.3,593) rotate(-90) scale(0.9,1)" text-anchor="end" font-size="23.5" font-family='"Liberation Sans", sans-serif' fill="#000">BLCA.Normal</text>
<line x1="213.5" x2="213.5" y1="578" y2="589" stroke="#333" stroke-width="2"/>
<text transform="translate(221.8,593) rotate(-90) scale(0.9,1)" text-anchor="end" font-size="23.5" font-family='"Liberation Sans", sans-serif' fill="#000">BRCA.Tumor</text>
<line x1="246.9" x2="246.9" y1="578" y2="589" stroke="#333" stroke-width="2"/>
<text transform="translate(255.2,593) rotate(-90) scale(0.9,1)" text-anchor="end" font-size="23.5" font-family='"Liberation Sans", sans-serif' fill="#000">BRCA.Normal</text>
<line x1="280.3" x2="280.3" y1="578" y2="589" stroke="#333" stroke-width="2"/>
<text transform="translate(288.6,593) rotate(-90) scale(0.9,1)" text-anchor="end" font-size="23.5" font-family='"Liberation Sans", sans-serif' fill="#000">BRCA-Basal.Tumor</text>
<line x1="313.7" x2="313.7" y1="578" y2="589" stroke="#333" stroke-width="2"/>
<text transform="translate(322.0,593) rotate(-90) scale(0.9,1)" text-anchor="end" font-size="23.5" font-family='"Liberation Sans", sans-serif' fill="#000">BRCA-Her2.Tumor</text>
<line x1="347.1" x2="347.1" y1="578" y2="589" stroke="#333" stroke-width="2"/>
<text transform="translate(355.4,593) rotate(-90) scale(0.9,1)" text-anchor="end" font-size="23.5" font-family='"Liberation Sans", sans-serif' fill="#000">BRCA-Luminal.Tumor</text>
<line x1="380.6" x2="380.6" y1="578" y2="589" stroke="#333" stroke-width="2"/>
<text transform="translate(388.9,593) rotate(-90) scale(0.9,1)" text-anchor="end" font-size="23.5" font-family='"Liberation Sans", sans-serif' fill="#000">CESC.Tumor</text>
<line x1="414.0" x2="414.0" y1="578" y2="589" stroke="#333" stroke-width="2"/>
<text transform="translate(422.3,593) rotate(-90) scale(0.9,1)" text-anchor="end" font-size="23.5" font-family='"Liberation Sans", sans-serif' fill="#000">CHOL.Tumor</text>
<line x1="447.4" x2="447.4" y1="578" y2="589" stroke="#333" stroke-width="2"/>
<text transform="translate(455.7,593) rotate(-90) scale(0.9,1)" text-anchor="end" font-size="23.5" font-family='"Liberation Sans", sans-serif' fill="#000">CHOL.Normal</text>
<line x1="480.8" x2="480.8" y1="578" y2="589" stroke="#333" stroke-width="2"/>
<text transform="translate(489.1,593) rotate(-90) scale(0.9,1)" text-anchor="end" font-size="23.5" font-family='"Liberation Sans", sans-serif' fill="#000">COAD.Tumor</text>
<line x1="514.2" x2="514.2" y1="578" y2="589" stroke="#333" stroke-width="2"/>
<text transform="translate(522.5,593) rotate(-90) scale(0.9,1)" text-anchor="end" font-size="23.5" font-family='"Liberation Sans", sans-serif' fill="#000">COAD.Normal</text>
<line x1="547.7" x2="547.7" y1="578" y2="589" stroke="#333" stroke-width="2"/>
<text transform="translate(556.0,593) rotate(-90) scale(0.9,1)" text-anchor="end" font-size="23.5" font-family='"Liberation Sans", sans-serif' fill="#000">DLBC.Tumor</text>
<line x1="581.1" x2="581.1" y1="578" y2="589" stroke="#333" stroke-width="2"/>
<text transform="translate(589.4,593) rotate(-90) scale(0.9,1)" text-anchor="end" font-size="23.5" font-family='"Liberation Sans", sans-serif' fill="#000">ESCA.Tumor</text>
<line x1="614.5" x2="614.5" y1="578" y2="589" stroke="#333" stroke-width="2"/>
<text transform="translate(622.8,593) rotate(-90) scale(0.9,1)" text-anchor="end" font-size="23.5" font-family='"Liberation Sans", sans-serif' fill="#000">ESCA.Normal</text>
<line x1="647.9" x2="647.9" y1="578" y2="589" stroke="#333" stroke-width="2"/>
<text transform="translate(656.2,593) rotate(-90) scale(0.9,1)" text-anchor="end" font-size="23.5" font-family='"Liberation Sans", sans-serif' fill="#000">GBM.Tumor</text>
<line x1="681.3" x2="681.3" y1="578" y2="589" stroke="#333" stroke-width="2"/>
<text transform="translate(689.6,593) rotate(-90) scale(0.9,1)" text-anchor="end" font-size="23.5" font-family='"Liberation Sans", sans-serif' fill="#000">HNSC.Tumor</text>
<line x1="714.8" x2="714.8" y1="578" y2="589" stroke="#333" stroke-width="2"/>
<text transform="translate(723.1,593) rotate(-90) scale(0.9,1)" text-anchor="end" font-size="23.5" font-family='"Liberation Sans", sans-serif' fill="#000">HNSC.Normal</text>
<line x1="748.2" x2="748.2" y1="578" y2="589" stroke="#333" stroke-width="2"/>
<text transform="translate(756.5,593) rotate(-90) scale(0.9,1)" text-anchor="end" font-size="23.5" font-family='"Liberation Sans", sans-serif' fill="#000">HNSC-HPVpos.Tumor</text>
<line x1="781.6" x2="781.6" y1="578" y2="589" stroke="#333" stroke-width="2"/>
<text transform="translate(789.9,593) rotate(-90) scale(0.9,1)" text-anchor="end" font-size="23.5" font-family='"Liberation Sans", sans-serif' fill="#000">HNSC-HPVneg.Tumor</text>
<line x1="815.0" x2="815.0" y1="578" y2="589" stroke="#333" stroke-width="2"/>
<text transform="translate(823.3,593) rotate(-90) scale(0.9,1)" text-anchor="end" font-size="23.5" font-family='"Liberation Sans", sans-serif' fill="#000">KICH.Tumor</text>
<line x1="848.4" x2="848.4" y1="578" y2="589" stroke="#333" stroke-width="2"/>
<text transform="translate(856.7,593) rotate(-90) scale(0.9,1)" text-anchor="end" font-size="23.5" font-family='"Liberation Sans", sans-serif' fill="#000">KICH.Normal</text>
<line x1="881.9" x2="881.9" y1="578" y2="589" stroke="#333" stroke-width="2"/>
<text transform="translate(890.2,593) rotate(-90) scale(0.9,1)" text-anchor="end" font-size="23.5" font-family='"Liberation Sans", sans-serif' fill="#000">KIRC.Tumor</text>
<line x1="915.3" x2="915.3" y1="578" y2="589" stroke="#333" stroke-width="2"/>
<text transform="translate(923.6,593) rotate(-90) scale(0.9,1)" text-anchor="end" font-size="23.5" font-family='"Liberation Sans", sans-serif' fill="#000">KIRC.Normal</text>
<line x1="948.7" x2="948.7" y1="578" y2="589" stroke="#333" stroke-width="2"/>
<text transform="translate(957.0,593) rotate(-90) scale(0.9,1)" text-anchor="end" font-size="23.5" font-family='"Liberation Sans", sans-serif' fill="#000">KIRP.Tumor</text>
<line x1="982.1" x2="982.1" y1="578" y2="589" stroke="#333" stroke-width="2"/>
<text transform="translate(990.4,593) rotate(-90) scale(0.9,1)" text-anchor="end" font-size="23.5" font-family='"Liberation Sans", sans-serif' fill="#000">KIRP.Normal</text>
<line x1="1015.5" x2="1015.5" y1="578" y2="589" stroke="#333" stroke-width="2"/>
<text transform="translate(1023.8,593) rotate(-90) scale(0.9,1)" text-anchor="end" font-size="23.5" font-family='"Liberation Sans", sans-serif' fill="#000">LAML.Tumor</text>
<line x1="1049.0" x2="1049.0" y1="578" y2="589" stroke="#333" stroke-width="2"/>
<text transform="translate(1057.3,593) rotate(-90) scale(0.9,1)" text-anchor="end" font-size="23.5" font-family='"Liberation Sans", sans-serif' fill="#000">LGG.Tumor</text>
<line x1="1082.4" x2="1082.4" y1="578" y2="589" stroke="#333" stroke-width="2"/>
<text transform="translate(1090.7,593) rotate(-90) scale(0.9,1)" text-anchor="end" font-size="23.5" font-family='"Liberation Sans", sans-serif' fill="#000">LIHC.Tumor</text>
<line x1="1115.8" x2="1115.8" y1="578" y2="589" stroke="#333" stroke-width="2"/>
<text transform="translate(1124.1,593) rotate(-90) scale(0.9,1)" text-anchor="end" font-size="23.5" font-family='"Liberation Sans", sans-serif' fill="#000">LIHC.Normal</text>
<line x1="1149.2" x2="1149.2" y1="578" y2="589" stroke="#333" stroke-width="2"/>
<text transform="translate(1157.5,593) rotate(-90) scale(0.9,1)" text-anchor="end" font-size="23.5" font-family='"Liberation Sans", sans-serif' fill="#000">LUAD.Tumor</text>
<line x1="1182.6" x2="1182.6" y1="578" y2="589" stroke="#333" stroke-width="2"/>
<text transform="translate(1190.9,593) rotate(-90) scale(0.9,1)" text-anchor="end" font-size="23.5" font-family='"Liberation Sans", sans-serif' fill="#000">LUAD.Normal</text>
<line x1="1216.1" x2="1216.1" y1="578" y2="589" stroke="#333" stroke-width="2"/>
<text transform="translate(1224.4,593) rotate(-90) scale(0.9,1)" text-anchor="end" font-size="23.5" font-family='"Liberation Sans", sans-serif' fill="#000">LUSC.Tumor</text>
<line x1="1249.5" x2="1249.5" y1="578" y2="589" stroke="#333" stroke-width="2"/>
<text transform="translate(1257.8,593) rotate(-90) scale(0.9,1)" text-anchor="end" font-size="23.5" font-family='"Liberation Sans", sans-serif' fill="#000">LUSC.Normal</text>
<line x1="1282.9" x2="1282.9" y1="578" y2="589" stroke="#333" stroke-width="2"/>
<text transform="translate(1291.2,593) rotate(-90) scale(0.9,1)" text-anchor="end" font-size="23.5" font-family='"Liberation Sans", sans-serif' fill="#000">MESO.Tumor</text>
<line x1="1316.3" x2="1316.3" y1="578" y2="589" stroke="#333" stroke-width="2"/>
<text transform="translate(1324.6,593) rotate(-90) scale(0.9,1)" text-anchor="end" font-size="23.5" font-family='"Liberation Sans", sans-serif' fill="#000">OV.Tumor</text>
<line x1="1349.7" x2="1349.7" y1="578" y2="589" stroke="#333" stroke-width="2"/>
<text transform="translate(1358.0,593) rotate(-90) scale(0.9,1)" text-anchor="end" font-size="23.5" font-family='"Liberation Sans", sans-serif' fill="#000">PAAD.Tumor</text>
<line x1="1383.2" x2="1383.2" y1="578" y2="589" stroke="#333" stroke-width="2"/>
<text transform="translate(1391.5,593) rotate(-90) scale(0.9,1)" text-anchor="end" font-size="23.5" font-family='"Liberation Sans", sans-serif' fill="#000">PCPG.Tumor</text>
<line x1="1416.6" x2="1416.6" y1="578" y2="589" stroke="#333" stroke-width="2"/>
<text transform="translate(1424.9,593) rotate(-90) scale(0.9,1)" text-anchor="end" font-size="23.5" font-family='"Liberation Sans", sans-serif' fill="#000">PRAD.Tumor</text>
<line x1="1450.0" x2="1450.0" y1="578" y2="589" stroke="#333" stroke-width="2"/>
<text transform="translate(1458.3,593) rotate(-90) scale(0.9,1)" text-anchor="end" font-size="23.5" font-family='"Liberation Sans", sans-serif' fill="#000">PRAD.Normal</text>
<line x1="1483.4" x2="1483.4" y1="578" y2="589" stroke="#333" stroke-width="2"/>
<text transform="translate(1491.7,593) rotate(-90) scale(0.9,1)" text-anchor="end" font-size="23.5" font-family='"Liberation Sans", sans-serif' fill="#000">READ.Tumor</text>
<line x1="1516.8" x2="1516.8" y1="578" y2="589" stroke="#333" stroke-width="2"/>
<text transform="translate(1525.1,593) rotate(-90) scale(0.9,1)" text-anchor="end" font-size="23.5" font-family='"Liberation Sans", sans-serif' fill="#000">READ.Normal</text>
<line x1="1550.3" x2="1550.3" y1="578" y2="589" stroke="#333" stroke-width="2"/>
<text transform="translate(1558.6,593) rotate(-90) scale(0.9,1)" text-anchor="end" font-size="23.5" font-family='"Liberation Sans", sans-serif' fill="#000">SARC.Tumor</text>
<line x1="1583.7" x2="1583.7" y1="578" y2="589" stroke="#333" stroke-width="2"/>
<text transform="translate(1592.0,593) rotate(-90) scale(0.9,1)" text-anchor="end" font-size="23.5" font-family='"Liberation Sans", sans-serif' fill="#000">SKCM.Tumor</text>
<line x1="1617.1" x2="1617.1" y1="578" y2="589" stroke="#333" stroke-width="2"/>
<text transform="translate(1625.4,593) rotate(-90) scale(0.9,1)" text-anchor="end" font-size="23.5" font-family='"Liberation Sans", sans-serif' fill="#000">SKCM.Metastasis</text>
<line x1="1650.5" x2="1650.5" y1="578" y2="589" stroke="#333" stroke-width="2"/>
<text transform="translate(1658.8,593) rotate(-90) scale(0.9,1)" text-anchor="end" font-size="23.5" font-family='"Liberation Sans", sans-serif' fill="#000">STAD.Tumor</text>
<line x1="1683.9" x2="1683.9" y1="578" y2="589" stroke="#333" stroke-width="2"/>
<text transform="translate(1692.2,593) rotate(-90) scale(0.9,1)" text-anchor="end" font-size="23.5" font-family='"Liberation Sans", sans-serif' fill="#000">STAD.Normal</text>
<line x1="1717.4" x2="1717.4" y1="578" y2="589" stroke="#333" stroke-width="2"/>
<text transform="translate(1725.7,593) rotate(-90) scale(0.9,1)" text-anchor="end" font-size="23.5" font-family='"Liberation Sans", sans-serif' fill="#000">TGCT.Tumor</text>
<line x1="1750.8" x2="1750.8" y1="578" y2="589" stroke="#333" stroke-width="2"/>
<text transform="translate(1759.1,593) rotate(-90) scale(0.9,1)" text-anchor="end" font-size="23.5" font-family='"Liberation Sans", sans-serif' fill="#000">THCA.Tumor</text>
<line x1="1784.2" x2="1784.2" y1="578" y2="589" stroke="#333" stroke-width="2"/>
<text transform="translate(1792.5,593) rotate(-90) scale(0.9,1)" text-anchor="end" font-size="23.5" font-family='"Liberation Sans", sans-serif' fill="#000">THCA.Normal</text>
<line x1="1817.6" x2="1817.6" y1="578" y2="589" stroke="#333" stroke-width="2"/>
<text transform="translate(1825.9,593) rotate(-90) scale(0.9,1)" text-anchor="end" font-size="23.5" font-family='"Liberation Sans", sans-serif' fill="#000">THYM.Tumor</text>
<line x1="1851.0" x2="1851.0" y1="578" y2="589" stroke="#333" stroke-width="2"/>
<text transform="translate(1859.3,593) rotate(-90) scale(0.9,1)" text-anchor="end" font-size="23.5" font-family='"Liberation Sans", sans-serif' fill="#000">UCEC.Tumor</text>
<line x1="1884.5" x2="1884.5" y1="578" y2="589" stroke="#333" stroke-width="2"/>
<text transform="translate(1892.8,593) rotate(-90) scale(0.9,1)" text-anchor="end" font-size="23.5" font-family='"Liberation Sans", sans-serif' fill="#000">UCEC.Normal</text>
<line x1="1917.9" x2="1917.9" y1="578" y2="589" stroke="#333" stroke-width="2"/>
<text transform="translate(1926.2,593) rotate(-90) scale(0.9,1)" text-anchor="end" font-size="23.5" font-family='"Liberation Sans", sans-serif' fill="#000">UCS.Tumor</text>
<line x1="1951.3" x2="1951.3" y1="578" y2="589" stroke="#333" stroke-width="2"/>
<text transform="translate(1959.6,593) rotate(-90) scale(0.9,1)" text-anchor="end" font-size="23.5" font-family='"Liberation Sans", sans-serif' fill="#000">UVM.Tumor</text>
<text transform="translate(34,294) rotate(-90) scale(0.937,1)" text-anchor="middle" font-size="29" font-family='"Liberation Sans", sans-serif' fill="#000">MTHFD2 Expression Level (log2 TPM)</text>
<path d="M20 56.3H27M55 56.3H62" stroke="#555" stroke-width="1.6"/>
<text x="7" y="37" font-size="40.5" font-weight="bold" font-family='"Liberation Sans", sans-serif' fill="#000">(a)</text>
<text x="7" y="860.6" font-size="40.5" font-weight="bold" font-family='"Liberation Sans", sans-serif' fill="#000">(b)</text>
<text transform="translate(92,896) scale(0.92,1)" font-size="20.5" font-weight="bold" font-family='"Liberation Sans", sans-serif' fill="#111">Disease Summary for MTHFD2</text>
<rect x="387.2" y="1059.3" width="40.1" height="27.4" fill="#ff0000"/>
<rect x="427.3" y="1059.3" width="40.2" height="27.4" fill="#0000ee"/>
<rect x="307.5" y="1086.7" width="39.9" height="27.4" fill="#ff0000"/>
<rect x="387.2" y="1086.7" width="40.1" height="27.4" fill="#ff6666"/>
<rect x="307.5" y="1114.1" width="39.9" height="27.4" fill="#ff0000"/>
<rect x="467.5" y="1114.1" width="40.0" height="27.4" fill="#ff6666"/>
<rect x="307.5" y="1141.5" width="39.9" height="27.4" fill="#ff0000"/>
<rect x="307.5" y="1168.9" width="39.9" height="27.4" fill="#ff0000"/>
<rect x="307.5" y="1196.3" width="39.9" height="27.4" fill="#ff0000"/>
<rect x="307.5" y="1251.1" width="39.9" height="27.4" fill="#ff0000"/>
<rect x="507.5" y="1251.1" width="40.0" height="27.4" fill="#6666ff"/>
<rect x="307.5" y="1278.5" width="39.9" height="27.4" fill="#ffb3b3"/>
<rect x="507.5" y="1278.5" width="40.0" height="27.4" fill="#0000ee"/>
<rect x="307.5" y="1305.9" width="39.9" height="27.4" fill="#ffb3b3"/>
<rect x="347.4" y="1305.9" width="39.8" height="27.4" fill="#6666ff"/>
<rect x="387.2" y="1305.9" width="40.1" height="27.4" fill="#ff6666"/>
<rect x="427.3" y="1305.9" width="40.2" height="27.4" fill="#6666ff"/>
<rect x="307.5" y="1333.3" width="39.9" height="27.4" fill="#ff6666"/>
<rect x="387.2" y="1333.3" width="40.1" height="27.4" fill="#ffb3b3"/>
<rect x="427.3" y="1333.3" width="40.2" height="27.4" fill="#9999ff"/>
<rect x="307.5" y="1360.7" width="39.9" height="27.4" fill="#ff6666"/>
<rect x="387.2" y="1360.7" width="40.1" height="27.4" fill="#ff0000"/>
<rect x="427.3" y="1360.7" width="40.2" height="27.4" fill="#0000ee"/>
<rect x="467.5" y="1360.7" width="40.0" height="27.4" fill="#ff0000"/>
<rect x="307.5" y="1388.1" width="39.9" height="27.4" fill="#ff6666"/>
<rect x="387.2" y="1388.1" width="40.1" height="27.4" fill="#ffb3b3"/>
<rect x="427.3" y="1388.1" width="40.2" height="27.4" fill="#6666ff"/>
<rect x="387.2" y="1415.5" width="40.1" height="27.4" fill="#ffb3b3"/>
<rect x="427.3" y="1415.5" width="40.2" height="27.4" fill="#9999ff"/>
<rect x="307.5" y="1470.3" width="39.9" height="27.4" fill="#ff0000"/>
<rect x="387.2" y="1470.3" width="40.1" height="27.4" fill="#ff0000"/>
<rect x="307.5" y="1497.7" width="39.9" height="27.4" fill="#ff0000"/>
<rect x="387.2" y="1497.7" width="40.1" height="27.4" fill="#ff6666"/>
<rect x="427.3" y="1497.7" width="40.2" height="27.4" fill="#0000ee"/>
<rect x="307.5" y="1552.5" width="39.9" height="27.4" fill="#ff0000"/>
<rect x="307.5" y="1579.9" width="39.9" height="27.4" fill="#ff6666"/>
<rect x="387.2" y="1579.9" width="40.1" height="27.4" fill="#ff6666"/>
<rect x="427.3" y="1579.9" width="40.2" height="27.4" fill="#0000ee"/>
<rect x="507.5" y="1579.9" width="40.0" height="27.4" fill="#0000ee"/>
<line x1="79.5" x2="287.5" y1="1086.7" y2="1086.7" stroke="#d0d0d0" stroke-width="1.8"/>
<line x1="307.5" x2="547.5" y1="1086.7" y2="1086.7" stroke="#d0d0d0" stroke-width="1.8"/>
<line x1="79.5" x2="287.5" y1="1114.1" y2="1114.1" stroke="#d0d0d0" stroke-width="1.8"/>
<line x1="307.5" x2="547.5" y1="1114.1" y2="1114.1" stroke="#d0d0d0" stroke-width="1.8"/>
<line x1="79.5" x2="287.5" y1="1141.5" y2="1141.5" stroke="#d0d0d0" stroke-width="1.8"/>
<line x1="307.5" x2="547.5" y1="1141.5" y2="1141.5" stroke="#d0d0d0" stroke-width="1.8"/>
<line x1="79.5" x2="287.5" y1="1168.9" y2="1168.9" stroke="#d0d0d0" stroke-width="1.8"/>
<line x1="307.5" x2="547.5" y1="1168.9" y2="1168.9" stroke="#d0d0d0" stroke-width="1.8"/>
<line x1="79.5" x2="287.5" y1="1196.3" y2="1196.3" stroke="#d0d0d0" stroke-width="1.8"/>
<line x1="307.5" x2="547.5" y1="1196.3" y2="1196.3" stroke="#d0d0d0" stroke-width="1.8"/>
<line x1="79.5" x2="287.5" y1="1223.7" y2="1223.7" stroke="#d0d0d0" stroke-width="1.8"/>
<line x1="307.5" x2="547.5" y1="1223.7" y2="1223.7" stroke="#d0d0d0" stroke-width="1.8"/>
<line x1="79.5" x2="287.5" y1="1251.1" y2="1251.1" stroke="#d0d0d0" stroke-width="1.8"/>
<line x1="307.5" x2="547.5" y1="1251.1" y2="1251.1" stroke="#d0d0d0" stroke-width="1.8"/>
<line x1="79.5" x2="287.5" y1="1278.5" y2="1278.5" stroke="#d0d0d0" stroke-width="1.8"/>
<line x1="307.5" x2="547.5" y1="1278.5" y2="1278.5" stroke="#d0d0d0" stroke-width="1.8"/>
<line x1="79.5" x2="287.5" y1="1305.9" y2="1305.9" stroke="#d0d0d0" stroke-width="1.8"/>
<line x1="307.5" x2="547.5" y1="1305.9" y2="1305.9" stroke="#d0d0d0" stroke-width="1.8"/>
<line x1="79.5" x2="287.5" y1="1333.3" y2="1333.3" stroke="#d0d0d0" stroke-width="1.8"/>
<line x1="307.5" x2="547.5" y1="1333.3" y2="1333.3" stroke="#d0d0d0" stroke-width="1.8"/>
<line x1="79.5" x2="287.5" y1="1360.7" y2="1360.7" stroke="#d0d0d0" stroke-width="1.8"/>
<line x1="307.5" x2="547.5" y1="1360.7" y2="1360.7" stroke="#d0d0d0" stroke-width="1.8"/>
<line x1="79.5" x2="287.5" y1="1388.1" y2="1388.1" stroke="#d0d0d0" stroke-width="1.8"/>
<line x1="307.5" x2="547.5" y1="1388.1" y2="1388.1" stroke="#d0d0d0" stroke-width="1.8"/>
<line x1="79.5" x2="287.5" y1="1415.5" y2="1415.5" stroke="#d0d0d0" stroke-width="1.8"/>
<line x1="307.5" x2="547.5" y1="1415.5" y2="1415.5" stroke="#d0d0d0" stroke-width="1.8"/>
<line x1="79.5" x2="287.5" y1="1442.9" y2="1442.9" stroke="#d0d0d0" stroke-width="1.8"/>
<line x1="307.5" x2="547.5" y1="1442.9" y2="1442.9" stroke="#d0d0d0" stroke-width="1.8"/>
<line x1="79.5" x2="287.5" y1="1470.3" y2="1470.3" stroke="#d0d0d0" stroke-width="1.8"/>
<line x1="307.5" x2="547.5" y1="1470.3" y2="1470.3" stroke="#d0d0d0" stroke-width="1.8"/>
<line x1="79.5" x2="287.5" y1="1497.7" y2="1497.7" stroke="#d0d0d0" stroke-width="1.8"/>
<line x1="307.5" x2="547.5" y1="1497.7" y2="1497.7" stroke="#d0d0d0" stroke-width="1.8"/>
<line x1="79.5" x2="287.5" y1="1525.1" y2="1525.1" stroke="#d0d0d0" stroke-width="1.8"/>
<line x1="307.5" x2="547.5" y1="1525.1" y2="1525.1" stroke="#d0d0d0" stroke-width="1.8"/>
<line x1="79.5" x2="287.5" y1="1552.5" y2="1552.5" stroke="#d0d0d0" stroke-width="1.8"/>
<line x1="307.5" x2="547.5" y1="1552.5" y2="1552.5" stroke="#d0d0d0" stroke-width="1.8"/>
<line x1="79.5" x2="287.5" y1="1579.9" y2="1579.9" stroke="#d0d0d0" stroke-width="1.8"/>
<line x1="307.5" x2="547.5" y1="1579.9" y2="1579.9" stroke="#d0d0d0" stroke-width="1.8"/>
<line x1="79.5" x2="287.5" y1="1634.7" y2="1634.7" stroke="#d0d0d0" stroke-width="1.8"/>
<line x1="307.5" x2="547.5" y1="1634.7" y2="1634.7" stroke="#d0d0d0" stroke-width="1.8"/>
<line x1="347.4" x2="347.4" y1="1059.3" y2="1634.7" stroke="#d0d0d0" stroke-width="1.5"/>
<line x1="427.3" x2="427.3" y1="1059.3" y2="1634.7" stroke="#d0d0d0" stroke-width="1.5"/>
<line x1="507.5" x2="507.5" y1="1059.3" y2="1634.7" stroke="#d0d0d0" stroke-width="1.5"/>
<text x="407.2" y="1078.5" text-anchor="middle" font-size="15.5" font-weight="bold" font-family='"Liberation Sans", sans-serif' fill="#fff">4</text>
<text x="447.4" y="1078.5" text-anchor="middle" font-size="15.5" font-weight="bold" font-family='"Liberation Sans", sans-serif' fill="#fff">4</text>
<text x="327.4" y="1105.9" text-anchor="middle" font-size="15.5" font-weight="bold" font-family='"Liberation Sans", sans-serif' fill="#fff">7</text>
<text x="407.2" y="1105.9" text-anchor="middle" font-size="15.5" font-weight="normal" font-family='"Liberation Sans", sans-serif' fill="#222">1</text>
<text x="327.4" y="1133.3" text-anchor="middle" font-size="15.5" font-weight="bold" font-family='"Liberation Sans", sans-serif' fill="#fff">8</text>
<text x="487.5" y="1133.3" text-anchor="middle" font-size="15.5" font-weight="normal" font-family='"Liberation Sans", sans-serif' fill="#222">1</text>
<text x="327.4" y="1160.7" text-anchor="middle" font-size="15.5" font-weight="bold" font-family='"Liberation Sans", sans-serif' fill="#fff">3</text>
<text x="327.4" y="1188.1" text-anchor="middle" font-size="15.5" font-weight="bold" font-family='"Liberation Sans", sans-serif' fill="#fff">12</text>
<text x="327.4" y="1215.5" text-anchor="middle" font-size="15.5" font-weight="bold" font-family='"Liberation Sans", sans-serif' fill="#fff">3</text>
<text x="327.4" y="1270.3" text-anchor="middle" font-size="15.5" font-weight="bold" font-family='"Liberation Sans", sans-serif' fill="#fff">6</text>
<text x="527.5" y="1270.3" text-anchor="middle" font-size="15.5" font-weight="normal" font-family='"Liberation Sans", sans-serif' fill="#222">1</text>
<text x="327.4" y="1297.7" text-anchor="middle" font-size="15.5" font-weight="normal" font-family='"Liberation Sans", sans-serif' fill="#222">2</text>
<text x="527.5" y="1297.7" text-anchor="middle" font-size="15.5" font-weight="bold" font-family='"Liberation Sans", sans-serif' fill="#fff">1</text>
<text x="327.4" y="1325.1" text-anchor="middle" font-size="15.5" font-weight="normal" font-family='"Liberation Sans", sans-serif' fill="#222">1</text>
<text x="367.3" y="1325.1" text-anchor="middle" font-size="15.5" font-weight="normal" font-family='"Liberation Sans", sans-serif' fill="#222">3</text>
<text x="407.2" y="1325.1" text-anchor="middle" font-size="15.5" font-weight="normal" font-family='"Liberation Sans", sans-serif' fill="#222">1</text>
<text x="447.4" y="1325.1" text-anchor="middle" font-size="15.5" font-weight="normal" font-family='"Liberation Sans", sans-serif' fill="#222">1</text>
<text x="327.4" y="1352.5" text-anchor="middle" font-size="15.5" font-weight="normal" font-family='"Liberation Sans", sans-serif' fill="#222">2</text>
<text x="407.2" y="1352.5" text-anchor="middle" font-size="15.5" font-weight="normal" font-family='"Liberation Sans", sans-serif' fill="#222">1</text>
<text x="447.4" y="1352.5" text-anchor="middle" font-size="15.5" font-weight="normal" font-family='"Liberation Sans", sans-serif' fill="#222">1</text>
<text x="327.4" y="1379.9" text-anchor="middle" font-size="15.5" font-weight="normal" font-family='"Liberation Sans", sans-serif' fill="#222">3</text>
<text x="407.2" y="1379.9" text-anchor="middle" font-size="15.5" font-weight="bold" font-family='"Liberation Sans", sans-serif' fill="#fff">3</text>
<text x="447.4" y="1379.9" text-anchor="middle" font-size="15.5" font-weight="bold" font-family='"Liberation Sans", sans-serif' fill="#fff">3</text>
<text x="487.5" y="1379.9" text-anchor="middle" font-size="15.5" font-weight="bold" font-family='"Liberation Sans", sans-serif' fill="#fff">1</text>
<text x="327.4" y="1407.3" text-anchor="middle" font-size="15.5" font-weight="normal" font-family='"Liberation Sans", sans-serif' fill="#222">6</text>
<text x="407.2" y="1407.3" text-anchor="middle" font-size="15.5" font-weight="normal" font-family='"Liberation Sans", sans-serif' fill="#222">1</text>
<text x="447.4" y="1407.3" text-anchor="middle" font-size="15.5" font-weight="normal" font-family='"Liberation Sans", sans-serif' fill="#222">2</text>
<text x="407.2" y="1434.7" text-anchor="middle" font-size="15.5" font-weight="normal" font-family='"Liberation Sans", sans-serif' fill="#222">1</text>
<text x="447.4" y="1434.7" text-anchor="middle" font-size="15.5" font-weight="normal" font-family='"Liberation Sans", sans-serif' fill="#222">1</text>
<text x="327.4" y="1489.5" text-anchor="middle" font-size="15.5" font-weight="bold" font-family='"Liberation Sans", sans-serif' fill="#fff">2</text>
<text x="407.2" y="1489.5" text-anchor="middle" font-size="15.5" font-weight="bold" font-family='"Liberation Sans", sans-serif' fill="#fff">1</text>
<text x="327.4" y="1516.9" text-anchor="middle" font-size="15.5" font-weight="bold" font-family='"Liberation Sans", sans-serif' fill="#fff">3</text>
<text x="407.2" y="1516.9" text-anchor="middle" font-size="15.5" font-weight="normal" font-family='"Liberation Sans", sans-serif' fill="#222">1</text>
<text x="447.4" y="1516.9" text-anchor="middle" font-size="15.5" font-weight="bold" font-family='"Liberation Sans", sans-serif' fill="#fff">2</text>
<text x="327.4" y="1571.7" text-anchor="middle" font-size="15.5" font-weight="bold" font-family='"Liberation Sans", sans-serif' fill="#fff">2</text>
<text x="327.4" y="1599.1" text-anchor="middle" font-size="15.5" font-weight="normal" font-family='"Liberation Sans", sans-serif' fill="#222">1</text>
<text x="407.2" y="1599.1" text-anchor="middle" font-size="15.5" font-weight="normal" font-family='"Liberation Sans", sans-serif' fill="#222">3</text>
<text x="447.4" y="1599.1" text-anchor="middle" font-size="15.5" font-weight="bold" font-family='"Liberation Sans", sans-serif' fill="#fff">2</text>
<text x="527.5" y="1599.1" text-anchor="middle" font-size="15.5" font-weight="bold" font-family='"Liberation Sans", sans-serif' fill="#fff">1</text>
<rect x="79.5" y="922.8" width="208.0" height="738.6" fill="none" stroke="#111" stroke-width="2.6"/>
<rect x="307.5" y="922.8" width="240.0" height="738.6" fill="none" stroke="#111" stroke-width="2.6"/>
<line x1="79.5" x2="287.5" y1="1059.3" y2="1059.3" stroke="#111" stroke-width="2.6"/>
<line x1="307.5" x2="547.5" y1="1059.3" y2="1059.3" stroke="#111" stroke-width="2.6"/>
<line x1="79.5" x2="287.5" y1="1607.3" y2="1607.3" stroke="#111" stroke-width="2.6"/>
<line x1="307.5" x2="547.5" y1="1607.3" y2="1607.3" stroke="#111" stroke-width="2.6"/>
<line x1="387.2" x2="387.2" y1="922.8" y2="1661.4" stroke="#111" stroke-width="2.6"/>
<line x1="467.5" x2="467.5" y1="949.2" y2="1661.4" stroke="#111" stroke-width="2.6"/>
<line x1="387.2" x2="547.5" y1="949.2" y2="949.2" stroke="#111" stroke-width="2.6"/>
<text transform="translate(95.7,994) scale(0.98,1)" font-size="16" font-family='"Liberation Sans", sans-serif' fill="#222">Analysis Type by Cancer</text>
<text transform="translate(347.4,940.4) scale(0.96,1)" text-anchor="middle" font-size="15" font-family='"Liberation Sans", sans-serif' fill="#3366a0">Cancer</text>
<text transform="translate(347.4,955.9) scale(0.96,1)" text-anchor="middle" font-size="15" font-family='"Liberation Sans", sans-serif' fill="#3366a0">vs.</text>
<text transform="translate(347.4,970.8) scale(0.96,1)" text-anchor="middle" font-size="15" font-family='"Liberation Sans", sans-serif' fill="#3366a0">Normal</text>
<text transform="translate(467.5,940.4) scale(1.02,1)" text-anchor="middle" font-size="15" font-family='"Liberation Sans", sans-serif' fill="#3366a0">Cancer vs. Cancer</text>
<text transform="translate(426.6,1049) rotate(-90) scale(1.08,1)" font-size="15" font-family='"Liberation Sans", sans-serif' fill="#3366a0">Cancer</text>
<text transform="translate(442.2,1049) rotate(-90) scale(1.08,1)" font-size="15" font-family='"Liberation Sans", sans-serif' fill="#3366a0">Histology</text>
<text transform="translate(515,1049) rotate(-90) scale(1.08,1)" font-size="15" font-family='"Liberation Sans", sans-serif' fill="#3366a0">Multi–cancer</text>
<text transform="translate(279.8,1078.5) scale(0.96,1)" text-anchor="end" font-size="16" font-family='"Liberation Sans", sans-serif' fill="#3366a0">Bladder Cancer</text>
<text transform="translate(279.8,1105.9) scale(0.96,1)" text-anchor="end" font-size="16" font-family='"Liberation Sans", sans-serif' fill="#3366a0">Brain and CNS Cancer</text>
<text transform="translate(279.8,1133.3) scale(0.96,1)" text-anchor="end" font-size="16" font-family='"Liberation Sans", sans-serif' fill="#3366a0">Breast Cancer</text>
<text transform="translate(279.8,1160.7) scale(0.96,1)" text-anchor="end" font-size="16" font-family='"Liberation Sans", sans-serif' fill="#3366a0">Cervical Cancer</text>
<text transform="translate(279.8,1188.1) scale(0.96,1)" text-anchor="end" font-size="16" font-family='"Liberation Sans", sans-serif' fill="#3366a0">Colorectal Cancer</text>
<text transform="translate(279.8,1215.5) scale(0.96,1)" text-anchor="end" font-size="16" font-family='"Liberation Sans", sans-serif' fill="#3366a0">Esophageal Cancer</text>
<text transform="translate(279.8,1242.9) scale(0.96,1)" text-anchor="end" font-size="16" font-family='"Liberation Sans", sans-serif' fill="#3366a0">Gastric Cancer</text>
<text transform="translate(279.8,1270.3) scale(0.96,1)" text-anchor="end" font-size="16" font-family='"Liberation Sans", sans-serif' fill="#3366a0">Head and Neck Cancer</text>
<text transform="translate(279.8,1297.7) scale(0.96,1)" text-anchor="end" font-size="16" font-family='"Liberation Sans", sans-serif' fill="#3366a0">Kidney Cancer</text>
<text transform="translate(279.8,1325.1) scale(0.96,1)" text-anchor="end" font-size="16" font-family='"Liberation Sans", sans-serif' fill="#3366a0">Leukemia</text>
<text transform="translate(279.8,1352.5) scale(0.96,1)" text-anchor="end" font-size="16" font-family='"Liberation Sans", sans-serif' fill="#3366a0">Liver Cancer</text>
<text transform="translate(279.8,1379.9) scale(0.96,1)" text-anchor="end" font-size="16" font-family='"Liberation Sans", sans-serif' fill="#3366a0">Lung Cancer</text>
<text transform="translate(279.8,1407.3) scale(0.96,1)" text-anchor="end" font-size="16" font-family='"Liberation Sans", sans-serif' fill="#3366a0">Lymphoma</text>
<text transform="translate(279.8,1434.7) scale(0.96,1)" text-anchor="end" font-size="16" font-family='"Liberation Sans", sans-serif' fill="#3366a0">Melanoma</text>
<text transform="translate(279.8,1462.1) scale(0.96,1)" text-anchor="end" font-size="16" font-family='"Liberation Sans", sans-serif' fill="#3366a0">Myeloma</text>
<text transform="translate(279.8,1489.5) scale(0.96,1)" text-anchor="end" font-size="16" font-family='"Liberation Sans", sans-serif' fill="#3366a0">Other Cancer</text>
<text transform="translate(279.8,1516.9) scale(0.96,1)" text-anchor="end" font-size="16" font-family='"Liberation Sans", sans-serif' fill="#3366a0">Ovarian Cancer</text>
<text transform="translate(279.8,1544.3) scale(0.96,1)" text-anchor="end" font-size="16" font-family='"Liberation Sans", sans-serif' fill="#3366a0">Pancreatic Cancer</text>
<text transform="translate(279.8,1571.7) scale(0.96,1)" text-anchor="end" font-size="16" font-family='"Liberation Sans", sans-serif' fill="#3366a0">Prostate Cancer</text>
<text transform="translate(279.8,1599.1) scale(0.96,1)" text-anchor="end" font-size="16" font-family='"Liberation Sans", sans-serif' fill="#3366a0">Sarcoma</text>
<text transform="translate(279.8,1626.5) scale(0.98,1)" text-anchor="end" font-size="16" font-family='"Liberation Sans", sans-serif' fill="#222">Significant Unique Analyses</text>
<text x="327.7" y="1626.5" text-anchor="middle" font-size="16" font-family='"Liberation Sans", sans-serif' fill="#222">61</text>
<text x="367.7" y="1626.5" text-anchor="middle" font-size="16" font-family='"Liberation Sans", sans-serif' fill="#222">3</text>
<text x="407.5" y="1626.5" text-anchor="middle" font-size="16" font-family='"Liberation Sans", sans-serif' fill="#222">17</text>
<text x="448" y="1626.5" text-anchor="middle" font-size="16" font-family='"Liberation Sans", sans-serif' fill="#222">16</text>
<text x="487.8" y="1626.5" text-anchor="middle" font-size="16" font-family='"Liberation Sans", sans-serif' fill="#222">2</text>
<text x="527.8" y="1626.5" text-anchor="middle" font-size="16" font-family='"Liberation Sans", sans-serif' fill="#222">2</text>
<text transform="translate(279.8,1653.9) scale(0.98,1)" text-anchor="end" font-size="16" font-family='"Liberation Sans", sans-serif' fill="#222">Total Unique Analyses</text>
<text x="346.6" y="1653.9" text-anchor="middle" font-size="16" font-family='"Liberation Sans", sans-serif' fill="#222">442</text>
<text x="427.8" y="1653.9" text-anchor="middle" font-size="16" font-family='"Liberation Sans", sans-serif' fill="#222">753</text>
<text x="507.5" y="1653.9" text-anchor="middle" font-size="16" font-family='"Liberation Sans", sans-serif' fill="#222">268</text>
<rect x="104.4" y="1722" width="17.3" height="17.7" fill="#0000ee" stroke="#111" stroke-width="1.6"/>
<rect x="129.6" y="1722" width="17.3" height="17.7" fill="#6666ff" stroke="#111" stroke-width="1.6"/>
<rect x="154.3" y="1722" width="17.3" height="17.7" fill="#9999ff" stroke="#111" stroke-width="1.6"/>
<rect x="179" y="1722" width="17.3" height="17.7" fill="#ffffff" stroke="#111" stroke-width="1.6"/>
<rect x="203.9" y="1722" width="17.3" height="17.7" fill="#ffb3b3" stroke="#111" stroke-width="1.6"/>
<rect x="228.3" y="1722" width="17.3" height="17.7" fill="#ff6666" stroke="#111" stroke-width="1.6"/>
<rect x="253" y="1722" width="17.3" height="17.7" fill="#ee0000" stroke="#111" stroke-width="1.6"/>
<text x="113" y="1716.5" text-anchor="middle" font-size="14" font-family='"Liberation Sans", sans-serif' fill="#111">1</text>
<text x="137.8" y="1716.5" text-anchor="middle" font-size="14" font-family='"Liberation Sans", sans-serif' fill="#111">5</text>
<text x="163" y="1716.5" text-anchor="middle" font-size="14" font-family='"Liberation Sans", sans-serif' fill="#111">10</text>
<text x="211.7" y="1716.5" text-anchor="middle" font-size="14" font-family='"Liberation Sans", sans-serif' fill="#111">10</text>
<text x="237.2" y="1716.5" text-anchor="middle" font-size="14" font-family='"Liberation Sans", sans-serif' fill="#111">5</text>
<text x="261" y="1716.5" text-anchor="middle" font-size="14" font-family='"Liberation Sans", sans-serif' fill="#111">1</text>
<line x1="122" x2="171" y1="1748.4" y2="1748.4" stroke="#111" stroke-width="1.3"/>
<path d="M115.5 1748.4 L124 1745 L124 1751.8 Z" fill="#111"/>
<line x1="206.5" x2="261" y1="1748.4" y2="1748.4" stroke="#111" stroke-width="1.3"/>
<path d="M267 1748.4 L258.5 1745 L258.5 1751.8 Z" fill="#111"/>
<text x="187" y="1753" text-anchor="middle" font-size="13" font-family='"Liberation Sans", sans-serif' fill="#888">%</text>
<text x="596" y="880.5" font-size="40.5" font-weight="bold" font-family='"Liberation Sans", sans-serif' fill="#000">(c)</text>
<line x1="848.6" x2="848.6" y1="1103.9" y2="1215" stroke="#333" stroke-width="1.4" stroke-dasharray="5,4"/>
<line x1="848.6" x2="848.6" y1="1300" y2="1424.8" stroke="#333" stroke-width="1.4" stroke-dasharray="5,4"/>
<line x1="824" x2="875" y1="1103.9" y2="1103.9" stroke="#333" stroke-width="1.5"/>
<line x1="824" x2="875" y1="1424.8" y2="1424.8" stroke="#333" stroke-width="1.5"/>
<rect x="799" y="1215" width="100" height="85" fill="#ff1111" stroke="#222" stroke-width="1.3"/>
<line x1="799" x2="899" y1="1256" y2="1256" stroke="#111" stroke-width="3.2"/>
<line x1="973.2" x2="973.2" y1="1258.5" y2="1340.2" stroke="#333" stroke-width="1.4" stroke-dasharray="5,4"/>
<line x1="973.2" x2="973.2" y1="1396.8" y2="1463.4" stroke="#333" stroke-width="1.4" stroke-dasharray="5,4"/>
<line x1="948.6" x2="999" y1="1258.5" y2="1258.5" stroke="#333" stroke-width="1.5"/>
<line x1="948.6" x2="999" y1="1463.4" y2="1463.4" stroke="#333" stroke-width="1.5"/>
<rect x="923.4" y="1340.2" width="99.6" height="56.6" fill="#4000f0" stroke="#222" stroke-width="1.3"/>
<line x1="923.4" x2="1023" y1="1371" y2="1371" stroke="#111" stroke-width="4"/>
<path d="M838.4 1201.8h0M842.4 1258.6h0M836.5 1197.9h0M862.4 1282.8h0M841.7 1384.4h0M849.4 1274.0h0M840.9 1330.2h0M853.8 1376.1h0M852.4 1202.3h0M860.3 1317.2h0M845.4 1213.1h0M854.9 1268.7h0M845.1 1293.9h0M839.6 1381.8h0M855.0 1150.3h0M842.4 1319.2h0M840.1 1110.0h0M846.5 1146.9h0M856.7 1225.1h0M854.7 1421.6h0M860.1 1343.6h0M835.0 1385.4h0M835.5 1238.8h0M853.2 1276.2h0M841.7 1125.3h0M843.4 1293.9h0M860.8 1184.0h0M841.8 1175.5h0M846.7 1156.0h0M838.4 1287.1h0M853.9 1369.5h0M862.5 1310.4h0M846.3 1313.9h0M852.4 1106.8h0M840.0 1166.8h0M854.0 1156.0h0M852.9 1272.3h0M848.7 1161.0h0M848.1 1370.8h0M850.2 1263.2h0M862.3 1232.1h0M840.4 1203.3h0M854.2 1266.5h0M861.6 1235.6h0M840.2 1303.6h0M838.4 1273.3h0M837.5 1290.0h0M839.0 1371.4h0M836.7 1249.3h0M836.5 1199.6h0M852.9 1234.2h0M843.0 1296.0h0M845.8 1215.9h0M859.4 1132.2h0M857.2 1359.9h0M858.6 1245.8h0M859.8 1269.3h0M857.8 1255.0h0M841.6 1204.1h0M862.3 1120.7h0M842.9 1310.4h0M856.9 1306.7h0M851.5 1308.2h0M861.5 1314.3h0M842.9 1182.6h0M839.6 1274.3h0M836.1 1195.5h0M861.0 1316.7h0M840.4 1229.0h0M836.0 1258.1h0M837.3 1274.0h0M860.5 1365.1h0M851.5 1339.6h0M848.1 1215.7h0M847.5 1290.0h0M852.2 1228.7h0M848.2 1267.0h0M853.5 1318.5h0M854.8 1349.9h0M861.5 1330.5h0M854.9 1304.1h0M845.6 1157.6h0M836.3 1123.5h0M843.3 1250.9h0M855.6 1234.8h0M847.2 1298.3h0M857.6 1272.3h0M838.2 1195.5h0M845.4 1380.1h0M861.3 1219.9h0M845.9 1200.9h0M859.2 1323.4h0M848.9 1314.4h0M839.0 1222.2h0M843.3 1325.7h0M838.0 1190.7h0M840.8 1299.4h0M835.7 1339.0h0M835.0 1302.5h0M855.1 1319.8h0M856.0 1135.7h0M846.0 1280.6h0M835.4 1281.1h0M843.7 1175.2h0M859.7 1293.6h0M849.5 1237.3h0M852.2 1183.6h0M842.4 1318.2h0M843.3 1166.0h0M841.2 1122.3h0M853.2 1203.1h0M848.9 1250.7h0M837.8 1264.7h0M842.0 1262.7h0M846.0 1282.1h0M843.7 1255.3h0M852.8 1287.4h0M852.8 1203.9h0M844.3 1330.8h0M861.7 1374.6h0M854.7 1332.1h0M845.6 1217.9h0M858.6 1257.7h0M851.9 1275.9h0M843.6 1343.4h0M859.8 1239.8h0M838.2 1192.5h0M858.5 1316.8h0M854.1 1295.8h0M844.4 1244.0h0M845.4 1226.5h0M842.5 1216.6h0M842.9 1172.7h0M851.1 1229.5h0M858.3 1223.2h0M849.9 1294.5h0M860.8 1306.5h0M848.6 1216.9h0M860.6 1258.1h0M860.2 1339.6h0M841.4 1332.5h0M859.8 1222.2h0M835.7 1349.2h0M861.5 1176.3h0M859.0 1340.8h0M843.6 1284.0h0M843.7 1197.0h0M861.6 1220.9h0M854.2 1244.1h0M838.8 1256.9h0M860.9 1192.4h0M847.3 1166.6h0M850.9 1273.0h0M841.6 1297.2h0M844.6 1266.3h0M853.7 1119.5h0M862.3 1307.7h0M851.6 1196.4h0M854.2 1115.6h0M835.5 1207.4h0M855.6 1231.3h0M849.3 1236.5h0M843.3 1255.0h0M853.4 1231.2h0M853.7 1233.3h0M853.4 1216.6h0M842.6 1268.4h0M838.5 1258.3h0M837.7 1200.2h0M840.9 1276.1h0M843.8 1312.4h0M846.8 1193.7h0M846.0 1144.1h0M839.9 1210.7h0M860.9 1330.5h0M843.4 1332.1h0M842.2 1198.6h0M853.4 1246.2h0M850.1 1226.4h0M836.6 1118.5h0M838.6 1238.3h0M859.5 1119.9h0M856.7 1268.7h0M847.9 1144.3h0M838.5 1290.4h0M844.0 1338.0h0M851.7 1239.9h0M840.9 1278.9h0M848.7 1247.2h0M840.0 1207.0h0M839.5 1239.3h0M856.2 1245.5h0M841.5 1283.6h0M837.7 1395.1h0M856.1 1284.4h0M846.2 1306.0h0M845.2 1334.5h0M855.2 1233.5h0M849.1 1201.3h0M861.3 1180.4h0M856.9 1287.5h0M853.1 1277.3h0M839.5 1352.3h0M846.2 1340.1h0M858.4 1274.7h0M861.9 1186.2h0M836.1 1321.4h0M856.7 1370.1h0M847.5 1250.8h0M851.5 1295.9h0M838.1 1240.0h0M852.3 1192.9h0M850.4 1143.1h0M835.0 1397.8h0M845.3 1262.0h0M851.2 1207.5h0M858.6 1283.4h0M847.4 1241.7h0M857.0 1254.6h0M836.4 1188.7h0M839.7 1225.1h0M853.0 1366.1h0M838.7 1332.7h0M854.1 1227.3h0M848.5 1293.6h0M853.4 1280.5h0M845.2 1290.6h0M844.2 1347.1h0M843.7 1381.6h0M859.9 1326.8h0M849.1 1323.0h0M839.9 1311.9h0M847.2 1211.0h0M839.6 1299.3h0M846.7 1350.1h0M862.4 1259.4h0M858.4 1323.3h0M861.0 1272.4h0M835.5 1197.8h0M840.0 1181.1h0M861.4 1151.4h0M842.2 1321.2h0M835.8 1132.8h0M858.7 1235.7h0M859.6 1258.3h0M860.0 1261.0h0M851.1 1168.7h0M860.3 1283.7h0M858.7 1345.2h0M841.7 1250.2h0M858.6 1257.7h0M844.8 1156.6h0M846.9 1264.5h0M861.2 1397.6h0M846.1 1296.0h0M857.1 1286.3h0M837.7 1206.3h0M857.0 1241.0h0M843.1 1268.9h0M849.7 1350.5h0M856.6 1291.1h0M860.7 1260.6h0M852.0 1189.8h0M838.2 1280.8h0M844.7 1346.9h0M858.6 1245.0h0M849.3 1229.9h0M848.6 1253.0h0M847.7 1165.9h0M850.0 1332.2h0M859.2 1268.3h0M861.3 1246.9h0M842.5 1235.8h0M837.6 1260.1h0M851.3 1283.2h0M856.6 1207.3h0M848.6 1204.8h0M854.2 1301.9h0M858.4 1373.4h0M854.0 1346.2h0M835.3 1277.2h0M836.9 1344.7h0M843.9 1199.1h0M843.9 1247.0h0M859.7 1300.2h0M842.1 1277.3h0M840.0 1170.2h0M839.0 1191.9h0M850.0 1341.8h0M849.0 1335.9h0M842.4 1232.7h0M839.4 1257.1h0M857.6 1308.7h0M843.1 1105.8h0M835.6 1315.6h0M845.5 1261.3h0M837.6 1291.0h0M862.4 1325.2h0M841.5 1300.5h0M862.4 1332.2h0M855.7 1231.4h0M845.2 1207.7h0M861.5 1283.8h0M848.7 1132.0h0M838.4 1216.9h0M839.8 1242.7h0M845.8 1296.3h0M836.3 1316.7h0M840.5 1278.9h0M848.7 1297.5h0M838.4 1337.3h0M854.3 1275.2h0M849.6 1237.5h0M836.0 1160.6h0M860.1 1302.2h0M852.6 1217.9h0M839.9 1213.1h0M852.4 1270.6h0M847.6 1265.1h0M859.2 1304.9h0M860.1 1388.2h0M855.5 1233.6h0M859.3 1155.2h0M840.7 1322.5h0M849.0 1352.1h0M852.4 1405.2h0M835.8 1246.4h0M842.6 1302.6h0M855.6 1284.6h0M861.1 1158.8h0M846.2 1394.1h0M846.4 1250.8h0M859.6 1304.9h0M855.3 1349.1h0M842.8 1214.5h0M851.7 1187.8h0M834.6 1284.4h0M842.9 1269.3h0M836.9 1241.6h0M861.5 1286.9h0M837.3 1241.8h0M855.7 1199.0h0M858.7 1254.8h0M836.7 1347.4h0M836.4 1240.8h0M844.0 1270.9h0M836.9 1329.3h0M856.9 1354.8h0M843.5 1127.8h0M860.2 1346.0h0M836.4 1233.3h0M857.5 1260.5h0M858.9 1270.1h0M835.2 1232.3h0M837.8 1238.4h0M836.5 1214.0h0M843.6 1139.4h0M854.8 1168.8h0M835.1 1386.6h0M859.9 1295.6h0M850.0 1247.5h0M857.9 1249.2h0M837.9 1247.5h0M852.9 1194.8h0M844.2 1269.1h0M853.3 1251.3h0M854.3 1146.6h0M848.0 1408.8h0M847.3 1303.1h0M861.6 1335.6h0M858.3 1250.4h0M855.0 1282.0h0M837.7 1240.7h0M839.4 1276.4h0M858.8 1253.8h0M858.1 1143.4h0M855.3 1139.5h0M844.5 1279.9h0M859.5 1265.1h0M854.4 1137.6h0M853.0 1216.6h0M835.6 1210.3h0M841.9 1280.6h0M858.6 1362.4h0M856.3 1229.7h0M851.2 1117.5h0M852.3 1268.2h0M836.6 1253.0h0M858.3 1197.2h0M841.5 1189.9h0M841.5 1194.2h0M858.8 1292.7h0M862.4 1256.8h0M852.4 1371.0h0M853.6 1351.4h0M835.5 1260.5h0M843.7 1261.2h0M854.1 1230.2h0M835.7 1150.3h0M842.3 1219.5h0M854.3 1290.7h0M845.1 1297.5h0M860.3 1369.0h0M854.0 1243.0h0M840.3 1350.9h0M842.3 1355.8h0M860.5 1272.5h0M854.9 1320.8h0M854.3 1246.1h0M841.6 1427.5h0M861.3 1319.5h0M841.8 1220.6h0M861.3 1281.7h0M842.2 1310.0h0M838.5 1230.1h0M857.3 1217.0h0M852.4 1220.3h0M836.1 1256.0h0M855.8 1241.9h0M841.0 1274.0h0M852.8 1318.8h0M859.4 1285.9h0M858.6 1225.9h0M862.3 1355.2h0M853.7 1259.5h0M855.9 1259.1h0M836.0 1263.6h0M842.8 1266.3h0M837.0 1246.5h0M846.1 1224.3h0M854.6 1115.9h0M851.5 1248.8h0M843.8 1223.1h0M857.9 1306.3h0M842.9 1202.8h0M862.5 1192.4h0M860.9 1261.6h0M837.1 1312.6h0M835.0 1231.3h0M847.9 1233.5h0M844.8 1241.1h0M851.9 1314.1h0M837.4 1268.6h0M856.6 1311.2h0M860.9 1311.5h0M843.7 1238.9h0M836.7 1150.7h0M844.8 1251.7h0M854.5 1179.4h0M862.2 1244.2h0M852.8 1308.4h0M847.1 1216.9h0M846.8 1266.9h0M851.3 1225.3h0M856.4 1273.5h0M853.8 1163.7h0M844.5 1254.9h0M856.6 1397.9h0M838.2 1245.5h0M847.3 1243.5h0M842.2 1140.9h0M840.7 1326.4h0M850.3 1198.8h0M857.1 1156.9h0M853.9 1183.7h0M849.6 1307.6h0M836.4 1187.0h0M854.2 1308.2h0M850.4 1275.0h0M837.4 1199.5h0M849.4 1301.5h0M856.1 1273.8h0M842.3 1279.5h0M839.0 1178.1h0M846.2 1308.8h0M849.6 1274.4h0M860.8 1303.1h0M859.1 1281.7h0M840.1 1167.1h0M836.4 1355.5h0M856.0 1224.6h0M861.0 1263.8h0M847.8 1277.8h0M834.8 1316.2h0M841.7 1230.0h0M850.6 1278.6h0M852.6 1376.4h0M849.4 1138.3h0M840.4 1271.4h0M859.8 1173.1h0M853.7 1315.7h0M840.7 1142.7h0M854.6 1206.4h0M861.6 1337.0h0M848.5 1235.1h0M849.0 1368.6h0M837.0 1261.9h0M842.7 1328.2h0M857.7 1280.1h0M858.2 1188.3h0M861.6 1351.2h0M838.9 1383.4h0M843.3 1153.7h0M844.0 1322.1h0M837.5 1308.8h0M835.8 1208.8h0M841.4 1316.7h0M846.4 1207.2h0M855.5 1218.0h0M847.6 1114.7h0M849.3 1291.2h0M835.6 1278.1h0M854.7 1277.1h0M845.7 1217.7h0M859.4 1296.4h0M854.4 1183.1h0M846.6 1258.5h0M847.3 1270.2h0M836.1 1317.4h0M847.8 989.0h0M838.8 1066.6h0M838.0 1522.0h0M843.0 1463.0h0M845.0 1470.0h0M853.0 1480.0h0M848.0 1487.0h0M840.0 1493.0h0M855.0 1495.0h0M842.0 1455.0h0M852.0 1445.0h0M981.3 1392.6h0M972.6 1436.2h0M976.5 1304.5h0M971.9 1383.0h0M973.7 1354.0h0M965.5 1358.4h0M975.4 1411.7h0M965.5 1328.9h0M977.6 1351.5h0M963.3 1340.6h0M966.6 1394.2h0M969.1 1391.8h0M974.3 1397.7h0M966.7 1285.7h0M974.2 1398.6h0M980.4 1438.7h0M975.7 1367.4h0M964.5 1326.6h0M966.8 1348.7h0M977.7 1412.2h0M983.5 1416.1h0M961.8 1463.4h0M965.1 1362.2h0M981.4 1342.6h0M980.7 1379.2h0M963.9 1343.5h0M976.6 1389.1h0M962.2 1347.4h0M979.4 1396.1h0M966.3 1408.3h0M976.0 1307.9h0M964.5 1381.5h0M972.8 1343.6h0M976.3 1415.1h0M975.4 1328.3h0M961.6 1414.2h0M977.6 1352.6h0M963.5 1348.4h0M982.3 1361.4h0M965.7 1426.7h0M972.4 1393.7h0M982.5 1345.0h0M974.6 1387.4h0M974.0 1363.4h0M964.3 1573.0h0" stroke="#000" stroke-width="3.4" stroke-linecap="round" fill="none"/>
<path d="M848.6 967.8V947.6H900M924 947.6H973.2V1238" fill="none" stroke="#444" stroke-width="1.5"/>
<path d="M912.2 941V955.4M906 944.6L918.4 951.8M906 951.8L918.4 944.6" stroke="#ee3333" stroke-width="1.9"/>
<rect x="709.5" y="919.6" width="402.4" height="745.4" fill="none" stroke="#444" stroke-width="1.6"/>
<line x1="911.6" x2="911.6" y1="1665" y2="1680" stroke="#444" stroke-width="1.6"/>
<line x1="696" x2="709.5" y1="1616.1" y2="1616.1" stroke="#444" stroke-width="1.6"/>
<text transform="translate(675,1616.1) rotate(-90)" text-anchor="middle" font-size="27" font-family='"Liberation Sans", sans-serif' fill="#333">2</text>
<line x1="696" x2="709.5" y1="1518.8" y2="1518.8" stroke="#444" stroke-width="1.6"/>
<text transform="translate(675,1518.8) rotate(-90)" text-anchor="middle" font-size="27" font-family='"Liberation Sans", sans-serif' fill="#333">3</text>
<line x1="696" x2="709.5" y1="1421.5" y2="1421.5" stroke="#444" stroke-width="1.6"/>
<text transform="translate(675,1421.5) rotate(-90)" text-anchor="middle" font-size="27" font-family='"Liberation Sans", sans-serif' fill="#333">4</text>
<line x1="696" x2="709.5" y1="1324.2" y2="1324.2" stroke="#444" stroke-width="1.6"/>
<text transform="translate(675,1324.2) rotate(-90)" text-anchor="middle" font-size="27" font-family='"Liberation Sans", sans-serif' fill="#333">5</text>
<line x1="696" x2="709.5" y1="1226.9" y2="1226.9" stroke="#444" stroke-width="1.6"/>
<text transform="translate(675,1226.9) rotate(-90)" text-anchor="middle" font-size="27" font-family='"Liberation Sans", sans-serif' fill="#333">6</text>
<line x1="696" x2="709.5" y1="1129.6" y2="1129.6" stroke="#444" stroke-width="1.6"/>
<text transform="translate(675,1129.6) rotate(-90)" text-anchor="middle" font-size="27" font-family='"Liberation Sans", sans-serif' fill="#333">7</text>
<line x1="696" x2="709.5" y1="1032.3" y2="1032.3" stroke="#444" stroke-width="1.6"/>
<text transform="translate(675,1032.3) rotate(-90)" text-anchor="middle" font-size="27" font-family='"Liberation Sans", sans-serif' fill="#333">8</text>
<line x1="696" x2="709.5" y1="935.0" y2="935.0" stroke="#444" stroke-width="1.6"/>
<text transform="translate(675,935.0) rotate(-90)" text-anchor="middle" font-size="27" font-family='"Liberation Sans", sans-serif' fill="#333">9</text>
<text transform="translate(609,1291.6) rotate(-90) scale(0.943,1)" text-anchor="middle" font-size="26" font-family='"Liberation Sans", sans-serif' fill="#444">Expression – log<tspan font-size="17" dy="5">2</tspan><tspan dy="-5">(TPM + 1)</tspan></text>
<text x="854.6" y="1640" text-anchor="middle" font-size="27" font-family='"Liberation Sans", sans-serif' fill="#111">Tumor</text>
<text x="968" y="1640" text-anchor="middle" font-size="27" font-family='"Liberation Sans", sans-serif' fill="#111">Normal</text>
<text x="908" y="1720" text-anchor="middle" font-size="24.5" font-family='"Liberation Sans", sans-serif' fill="#444">HNSC</text>
<text x="911" y="1749" text-anchor="middle" font-size="24.7" font-family='"Liberation Sans", sans-serif' fill="#444">(num(T)=519; num(N)=44)</text>
<text x="1131" y="879" font-size="40.5" font-weight="bold" font-family='"Liberation Sans", sans-serif' fill="#000">(d)</text>
<path d="M1292.7 1269.8C1289.2 1274.3 1277.7 1288.2 1271.9 1296.6C1266.1 1304.9 1261.1 1312.7 1257.9 1319.9C1254.7 1327.1 1253.9 1333.0 1252.7 1340.0C1251.5 1347.0 1250.4 1353.5 1250.9 1361.8C1251.4 1370.1 1253.1 1381.2 1255.6 1389.7C1258.2 1398.2 1262.1 1405.2 1266.2 1413.0C1270.3 1420.8 1275.6 1428.5 1280.0 1436.3C1284.4 1444.1 1288.5 1451.8 1292.8 1459.6C1297.1 1467.4 1302.1 1475.2 1305.6 1482.9C1309.1 1490.7 1311.9 1498.3 1313.8 1506.1C1315.7 1513.8 1316.2 1521.4 1316.8 1529.4C1317.4 1537.4 1317.1 1549.8 1317.2 1553.9L1329.2 1553.9C1329.3 1549.8 1329.0 1537.4 1329.6 1529.4C1330.2 1521.4 1330.7 1513.8 1332.6 1506.1C1334.5 1498.3 1337.3 1490.7 1340.8 1482.9C1344.3 1475.2 1349.3 1467.4 1353.6 1459.6C1357.9 1451.8 1362.0 1444.1 1366.4 1436.3C1370.8 1428.5 1376.1 1420.8 1380.2 1413.0C1384.3 1405.2 1388.2 1398.2 1390.8 1389.7C1393.3 1381.2 1395.0 1370.1 1395.5 1361.8C1396.0 1353.5 1394.9 1347.0 1393.7 1340.0C1392.5 1333.0 1391.7 1327.1 1388.5 1319.9C1385.3 1312.7 1380.3 1304.9 1374.5 1296.6C1368.7 1288.2 1357.2 1274.3 1353.7 1269.8Z" fill="#7ff7c8" stroke="#1f4a3a" stroke-width="2"/>
<line x1="1323.2" x2="1323.2" y1="1269.8" y2="1533" stroke="#111" stroke-width="1.6"/>
<rect x="1318.0" y="1323.4" width="10.4" height="83.8" fill="#000"/>
<circle cx="1323.2" cy="1364.1" r="7.3" fill="#fff"/>
<path d="M1488.2 1218.0C1487.0 1220.2 1484.5 1225.8 1481.2 1231.0C1477.9 1236.2 1472.6 1243.3 1468.3 1249.5C1464.0 1255.7 1459.2 1261.8 1455.3 1268.0C1451.4 1274.2 1447.9 1280.3 1445.1 1286.5C1442.3 1292.7 1440.5 1298.8 1438.7 1305.0C1436.9 1311.2 1435.4 1316.8 1434.4 1323.5C1433.4 1330.2 1432.5 1336.7 1432.9 1345.0C1433.3 1353.3 1433.8 1364.0 1437.0 1373.4C1440.2 1382.8 1446.6 1392.9 1452.2 1401.4C1457.8 1409.9 1465.4 1416.8 1470.8 1424.6C1476.2 1432.3 1481.5 1438.2 1484.8 1447.9C1488.1 1457.6 1488.9 1469.3 1490.6 1482.9C1492.4 1496.5 1493.7 1513.9 1495.3 1529.4C1496.9 1544.9 1498.8 1560.5 1500.0 1576.0C1501.2 1591.5 1501.8 1611.3 1502.3 1622.6C1502.8 1633.8 1502.6 1640.0 1502.7 1643.5L1507.7 1643.5C1507.8 1640.0 1507.7 1633.8 1508.1 1622.6C1508.6 1611.3 1509.2 1591.5 1510.4 1576.0C1511.6 1560.5 1513.5 1544.9 1515.1 1529.4C1516.7 1513.9 1518.0 1496.5 1519.8 1482.9C1521.5 1469.3 1522.3 1457.6 1525.6 1447.9C1528.9 1438.2 1534.2 1432.3 1539.6 1424.6C1545.0 1416.8 1552.6 1409.9 1558.2 1401.4C1563.8 1392.9 1570.2 1382.8 1573.4 1373.4C1576.6 1364.0 1577.1 1353.3 1577.5 1345.0C1577.9 1336.7 1577.0 1330.2 1576.0 1323.5C1575.0 1316.8 1573.5 1311.2 1571.7 1305.0C1569.9 1298.8 1568.1 1292.7 1565.3 1286.5C1562.5 1280.3 1559.0 1274.2 1555.1 1268.0C1551.2 1261.8 1546.4 1255.7 1542.1 1249.5C1537.8 1243.3 1532.5 1236.2 1529.2 1231.0C1525.9 1225.8 1523.4 1220.2 1522.2 1218.0Z" fill="#7ff7c8" stroke="#1f4a3a" stroke-width="2"/>
<line x1="1505.2" x2="1505.2" y1="1218" y2="1545.7" stroke="#111" stroke-width="1.6"/>
<rect x="1500.0" y="1293" width="10.4" height="101.4" fill="#000"/>
<circle cx="1505.2" cy="1346.3" r="7.3" fill="#fff"/>
<path d="M1685.0 1133.0C1685.0 1137.0 1685.3 1149.9 1684.8 1157.0C1684.3 1164.1 1683.3 1169.3 1682.1 1175.5C1680.9 1181.7 1679.7 1187.8 1677.5 1194.0C1675.3 1200.2 1672.3 1206.3 1669.1 1212.5C1665.8 1218.7 1662.0 1224.8 1658.0 1231.0C1654.0 1237.2 1649.1 1243.3 1645.1 1249.5C1641.1 1255.7 1637.1 1261.8 1634.0 1268.0C1630.9 1274.2 1628.9 1280.3 1626.6 1286.5C1624.3 1292.7 1621.8 1298.8 1620.1 1305.0C1618.4 1311.2 1617.3 1315.5 1616.4 1323.5C1615.5 1331.5 1614.7 1344.2 1614.9 1353.0C1615.2 1361.8 1616.0 1369.3 1617.9 1376.3C1619.8 1383.3 1623.0 1388.6 1626.2 1394.8C1629.4 1401.0 1633.4 1407.1 1637.2 1413.3C1641.0 1419.5 1645.4 1425.6 1649.3 1431.8C1653.2 1438.0 1657.0 1444.1 1660.4 1450.3C1663.8 1456.5 1667.1 1462.6 1669.7 1468.8C1672.3 1475.0 1674.2 1479.6 1676.1 1487.3C1677.9 1495.0 1679.8 1504.2 1680.8 1515.0C1681.8 1525.8 1681.9 1539.7 1682.2 1552.0C1682.5 1564.3 1682.5 1579.9 1682.6 1589.0C1682.7 1598.1 1682.9 1603.7 1683.0 1606.6L1692.0 1606.6C1692.1 1603.7 1692.3 1598.1 1692.4 1589.0C1692.5 1579.9 1692.5 1564.3 1692.8 1552.0C1693.1 1539.7 1693.2 1525.8 1694.2 1515.0C1695.2 1504.2 1697.1 1495.0 1698.9 1487.3C1700.8 1479.6 1702.7 1475.0 1705.3 1468.8C1707.9 1462.6 1711.2 1456.5 1714.6 1450.3C1718.0 1444.1 1721.8 1438.0 1725.7 1431.8C1729.6 1425.6 1734.0 1419.5 1737.8 1413.3C1741.6 1407.1 1745.6 1401.0 1748.8 1394.8C1752.0 1388.6 1755.2 1383.3 1757.1 1376.3C1759.0 1369.3 1759.8 1361.8 1760.1 1353.0C1760.3 1344.2 1759.5 1331.5 1758.6 1323.5C1757.7 1315.5 1756.6 1311.2 1754.9 1305.0C1753.2 1298.8 1750.7 1292.7 1748.4 1286.5C1746.1 1280.3 1744.1 1274.2 1741.0 1268.0C1737.9 1261.8 1733.9 1255.7 1729.9 1249.5C1725.9 1243.3 1721.0 1237.2 1717.0 1231.0C1713.0 1224.8 1709.2 1218.7 1705.9 1212.5C1702.7 1206.3 1699.7 1200.2 1697.5 1194.0C1695.3 1187.8 1694.1 1181.7 1692.9 1175.5C1691.7 1169.3 1690.7 1164.1 1690.2 1157.0C1689.7 1149.9 1690.0 1137.0 1690.0 1133.0Z" fill="#7ff7c8" stroke="#1f4a3a" stroke-width="2"/>
<line x1="1687.5" x2="1687.5" y1="1140" y2="1555.7" stroke="#111" stroke-width="1.6"/>
<rect x="1682.3" y="1298.5" width="10.4" height="102.7" fill="#000"/>
<circle cx="1687.5" cy="1353.1" r="7.3" fill="#fff"/>
<path d="M1869.3 1135.3C1868.8 1138.9 1867.6 1150.3 1866.3 1157.0C1865.0 1163.7 1863.2 1169.2 1861.7 1175.3C1860.2 1181.4 1858.9 1187.5 1857.2 1193.5C1855.5 1199.5 1854.3 1205.5 1851.7 1211.6C1849.1 1217.6 1845.8 1223.7 1841.7 1229.8C1837.6 1235.9 1831.7 1242.0 1827.2 1248.0C1822.7 1254.0 1818.1 1260.0 1814.5 1266.1C1810.9 1272.1 1808.0 1278.2 1805.4 1284.3C1802.8 1290.3 1800.5 1294.8 1799.1 1302.4C1797.7 1310.0 1796.3 1320.8 1796.9 1330.0C1797.5 1339.2 1800.3 1350.1 1802.8 1357.8C1805.3 1365.5 1808.8 1370.1 1812.0 1376.3C1815.2 1382.5 1818.7 1388.6 1822.2 1394.8C1825.8 1401.0 1829.8 1407.1 1833.3 1413.3C1836.8 1419.5 1840.7 1425.6 1843.5 1431.8C1846.3 1438.0 1848.4 1444.1 1849.9 1450.3C1851.4 1456.5 1851.4 1462.6 1852.3 1468.8C1853.2 1475.0 1854.2 1481.1 1855.5 1487.3C1856.8 1493.5 1858.6 1498.1 1860.1 1505.8C1861.6 1513.5 1863.7 1524.2 1864.7 1533.5C1865.7 1542.8 1866.0 1550.0 1866.3 1561.3C1866.6 1572.5 1866.7 1594.4 1866.8 1601.0L1871.8 1601.0C1871.9 1594.4 1872.0 1572.5 1872.3 1561.3C1872.6 1550.0 1872.9 1542.8 1873.9 1533.5C1874.9 1524.2 1877.0 1513.5 1878.5 1505.8C1880.0 1498.1 1881.8 1493.5 1883.1 1487.3C1884.4 1481.1 1885.4 1475.0 1886.3 1468.8C1887.2 1462.6 1887.2 1456.5 1888.7 1450.3C1890.2 1444.1 1892.3 1438.0 1895.1 1431.8C1897.9 1425.6 1901.8 1419.5 1905.3 1413.3C1908.8 1407.1 1912.8 1401.0 1916.4 1394.8C1919.9 1388.6 1923.4 1382.5 1926.6 1376.3C1929.8 1370.1 1933.3 1365.5 1935.8 1357.8C1938.3 1350.1 1941.1 1339.2 1941.7 1330.0C1942.3 1320.8 1940.9 1310.0 1939.5 1302.4C1938.1 1294.8 1935.8 1290.3 1933.2 1284.3C1930.6 1278.2 1927.7 1272.1 1924.1 1266.1C1920.5 1260.0 1915.9 1254.0 1911.4 1248.0C1906.9 1242.0 1901.0 1235.9 1896.9 1229.8C1892.8 1223.7 1889.5 1217.6 1886.9 1211.6C1884.3 1205.5 1883.1 1199.5 1881.4 1193.5C1879.7 1187.5 1878.4 1181.4 1876.9 1175.3C1875.4 1169.2 1873.6 1163.7 1872.3 1157.0C1871.0 1150.3 1869.8 1138.9 1869.3 1135.3Z" fill="#7ff7c8" stroke="#1f4a3a" stroke-width="2"/>
<line x1="1869.3" x2="1869.3" y1="1045.4" y2="1531.7" stroke="#111" stroke-width="1.6"/>
<rect x="1864.1" y="1292.5" width="10.4" height="96.7" fill="#000"/>
<circle cx="1869.3" cy="1338.5" r="7.3" fill="#fff"/>
<rect x="1202.7" y="927.7" width="787.3" height="739.5" fill="none" stroke="#444" stroke-width="1.6"/>
<line x1="1186" x2="1202.7" y1="1635.4" y2="1635.4" stroke="#444" stroke-width="1.6"/>
<text transform="translate(1165,1635.4) rotate(-90)" text-anchor="middle" font-size="27" font-family='"Liberation Sans", sans-serif' fill="#333">3</text>
<line x1="1186" x2="1202.7" y1="1527.2" y2="1527.2" stroke="#444" stroke-width="1.6"/>
<text transform="translate(1165,1527.2) rotate(-90)" text-anchor="middle" font-size="27" font-family='"Liberation Sans", sans-serif' fill="#333">4</text>
<line x1="1186" x2="1202.7" y1="1419.0" y2="1419.0" stroke="#444" stroke-width="1.6"/>
<text transform="translate(1165,1419.0) rotate(-90)" text-anchor="middle" font-size="27" font-family='"Liberation Sans", sans-serif' fill="#333">5</text>
<line x1="1186" x2="1202.7" y1="1310.8" y2="1310.8" stroke="#444" stroke-width="1.6"/>
<text transform="translate(1165,1310.8) rotate(-90)" text-anchor="middle" font-size="27" font-family='"Liberation Sans", sans-serif' fill="#333">6</text>
<line x1="1186" x2="1202.7" y1="1202.6" y2="1202.6" stroke="#444" stroke-width="1.6"/>
<text transform="translate(1165,1202.6) rotate(-90)" text-anchor="middle" font-size="27" font-family='"Liberation Sans", sans-serif' fill="#333">7</text>
<line x1="1186" x2="1202.7" y1="1094.4" y2="1094.4" stroke="#444" stroke-width="1.6"/>
<text transform="translate(1165,1094.4) rotate(-90)" text-anchor="middle" font-size="27" font-family='"Liberation Sans", sans-serif' fill="#333">8</text>
<line x1="1186" x2="1202.7" y1="986.2" y2="986.2" stroke="#444" stroke-width="1.6"/>
<text transform="translate(1165,986.2) rotate(-90)" text-anchor="middle" font-size="27" font-family='"Liberation Sans", sans-serif' fill="#333">9</text>
<line x1="1323.3" x2="1323.3" y1="1667.2" y2="1685.7" stroke="#444" stroke-width="1.6"/>
<text transform="translate(1323.3,1735) scale(0.8,1)" text-anchor="middle" font-size="32" font-family='"Liberation Sans", sans-serif' fill="#222">Stage I</text>
<line x1="1505.4" x2="1505.4" y1="1667.2" y2="1685.7" stroke="#444" stroke-width="1.6"/>
<text transform="translate(1505.4,1735) scale(0.8,1)" text-anchor="middle" font-size="32" font-family='"Liberation Sans", sans-serif' fill="#222">Stage II</text>
<line x1="1688" x2="1688" y1="1667.2" y2="1685.7" stroke="#444" stroke-width="1.6"/>
<text transform="translate(1688,1735) scale(0.8,1)" text-anchor="middle" font-size="32" font-family='"Liberation Sans", sans-serif' fill="#222">Stage III</text>
<line x1="1869.3" x2="1869.3" y1="1667.2" y2="1685.7" stroke="#444" stroke-width="1.6"/>
<text transform="translate(1869.3,1735) scale(0.8,1)" text-anchor="middle" font-size="32" font-family='"Liberation Sans", sans-serif' fill="#222">Stage IV</text>
<text transform="translate(1942.8,982) scale(0.85,1)" text-anchor="end" font-size="33" font-family='"Liberation Sans", sans-serif' fill="#222">F value = 1.32</text>
<text transform="translate(1942.8,1022) scale(0.85,1)" text-anchor="end" font-size="33" font-family='"Liberation Sans", sans-serif' fill="#222">Pr(&gt;F) = 0.267</text>
</svg></body></html>
